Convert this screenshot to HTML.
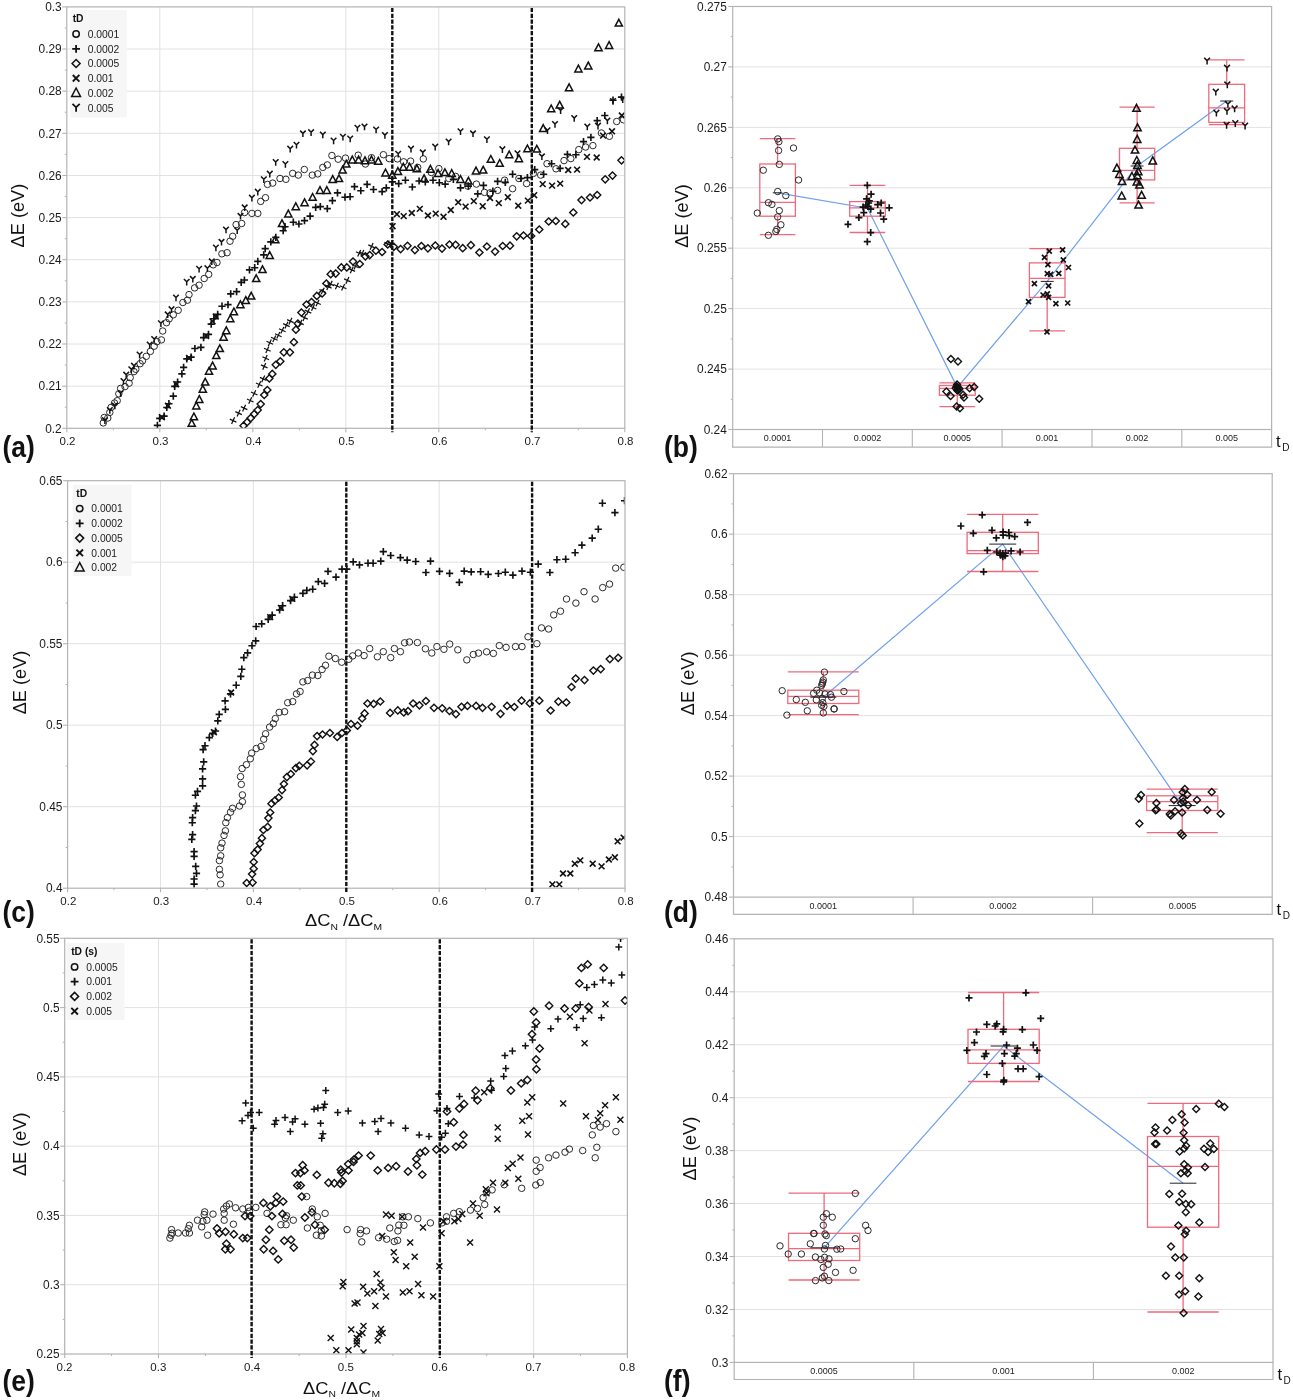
<!DOCTYPE html>
<html lang="en"><head><meta charset="utf-8"><title>Figure</title>
<style>html,body{margin:0;padding:0;background:#fff}body{width:1293px;height:1400px;overflow:hidden}svg{display:block}text{font-family:"Liberation Sans",Arial,sans-serif}</style></head><body>
<svg width="1293" height="1400" viewBox="0 0 1293 1400">
<rect width="1293" height="1400" fill="#fff"/>
<line x1="66.8" x2="624.8" y1="386.2" y2="386.2" stroke="#e2e2e2" stroke-width="1.0"/>
<line x1="66.8" x2="624.8" y1="344" y2="344" stroke="#e2e2e2" stroke-width="1.0"/>
<line x1="66.8" x2="624.8" y1="301.9" y2="301.9" stroke="#e2e2e2" stroke-width="1.0"/>
<line x1="66.8" x2="624.8" y1="259.7" y2="259.7" stroke="#e2e2e2" stroke-width="1.0"/>
<line x1="66.8" x2="624.8" y1="217.6" y2="217.6" stroke="#e2e2e2" stroke-width="1.0"/>
<line x1="66.8" x2="624.8" y1="175.5" y2="175.5" stroke="#e2e2e2" stroke-width="1.0"/>
<line x1="66.8" x2="624.8" y1="133.3" y2="133.3" stroke="#e2e2e2" stroke-width="1.0"/>
<line x1="66.8" x2="624.8" y1="91.2" y2="91.2" stroke="#e2e2e2" stroke-width="1.0"/>
<line x1="66.8" x2="624.8" y1="49" y2="49" stroke="#e2e2e2" stroke-width="1.0"/>
<line x1="159.8" x2="159.8" y1="6.9" y2="428.3" stroke="#e2e2e2" stroke-width="1.0"/>
<line x1="252.8" x2="252.8" y1="6.9" y2="428.3" stroke="#e2e2e2" stroke-width="1.0"/>
<line x1="345.8" x2="345.8" y1="6.9" y2="428.3" stroke="#e2e2e2" stroke-width="1.0"/>
<line x1="438.8" x2="438.8" y1="6.9" y2="428.3" stroke="#e2e2e2" stroke-width="1.0"/>
<line x1="531.8" x2="531.8" y1="6.9" y2="428.3" stroke="#e2e2e2" stroke-width="1.0"/>
<rect x="66.8" y="6.9" width="558" height="421.4" fill="none" stroke="#b3b3b3" stroke-width="1.2"/>
<line x1="62.3" x2="66.8" y1="428.3" y2="428.3" stroke="#b3b3b3" stroke-width="1.1"/>
<text x="61.7" y="432.5" font-size="11.9" text-anchor="end" font-weight="normal" fill="#1a1a1a" >0.2</text>
<line x1="64.8" x2="66.8" y1="407.2" y2="407.2" stroke="#b3b3b3" stroke-width="1"/>
<line x1="62.3" x2="66.8" y1="386.2" y2="386.2" stroke="#b3b3b3" stroke-width="1.1"/>
<text x="61.7" y="390.4" font-size="11.9" text-anchor="end" font-weight="normal" fill="#1a1a1a" >0.21</text>
<line x1="64.8" x2="66.8" y1="365.1" y2="365.1" stroke="#b3b3b3" stroke-width="1"/>
<line x1="62.3" x2="66.8" y1="344" y2="344" stroke="#b3b3b3" stroke-width="1.1"/>
<text x="61.7" y="348.2" font-size="11.9" text-anchor="end" font-weight="normal" fill="#1a1a1a" >0.22</text>
<line x1="64.8" x2="66.8" y1="322.9" y2="322.9" stroke="#b3b3b3" stroke-width="1"/>
<line x1="62.3" x2="66.8" y1="301.9" y2="301.9" stroke="#b3b3b3" stroke-width="1.1"/>
<text x="61.7" y="306.1" font-size="11.9" text-anchor="end" font-weight="normal" fill="#1a1a1a" >0.23</text>
<line x1="64.8" x2="66.8" y1="280.8" y2="280.8" stroke="#b3b3b3" stroke-width="1"/>
<line x1="62.3" x2="66.8" y1="259.7" y2="259.7" stroke="#b3b3b3" stroke-width="1.1"/>
<text x="61.7" y="263.9" font-size="11.9" text-anchor="end" font-weight="normal" fill="#1a1a1a" >0.24</text>
<line x1="64.8" x2="66.8" y1="238.7" y2="238.7" stroke="#b3b3b3" stroke-width="1"/>
<line x1="62.3" x2="66.8" y1="217.6" y2="217.6" stroke="#b3b3b3" stroke-width="1.1"/>
<text x="61.7" y="221.8" font-size="11.9" text-anchor="end" font-weight="normal" fill="#1a1a1a" >0.25</text>
<line x1="64.8" x2="66.8" y1="196.5" y2="196.5" stroke="#b3b3b3" stroke-width="1"/>
<line x1="62.3" x2="66.8" y1="175.5" y2="175.5" stroke="#b3b3b3" stroke-width="1.1"/>
<text x="61.7" y="179.7" font-size="11.9" text-anchor="end" font-weight="normal" fill="#1a1a1a" >0.26</text>
<line x1="64.8" x2="66.8" y1="154.4" y2="154.4" stroke="#b3b3b3" stroke-width="1"/>
<line x1="62.3" x2="66.8" y1="133.3" y2="133.3" stroke="#b3b3b3" stroke-width="1.1"/>
<text x="61.7" y="137.5" font-size="11.9" text-anchor="end" font-weight="normal" fill="#1a1a1a" >0.27</text>
<line x1="64.8" x2="66.8" y1="112.2" y2="112.2" stroke="#b3b3b3" stroke-width="1"/>
<line x1="62.3" x2="66.8" y1="91.2" y2="91.2" stroke="#b3b3b3" stroke-width="1.1"/>
<text x="61.7" y="95.4" font-size="11.9" text-anchor="end" font-weight="normal" fill="#1a1a1a" >0.28</text>
<line x1="64.8" x2="66.8" y1="70.1" y2="70.1" stroke="#b3b3b3" stroke-width="1"/>
<line x1="62.3" x2="66.8" y1="49" y2="49" stroke="#b3b3b3" stroke-width="1.1"/>
<text x="61.7" y="53.2" font-size="11.9" text-anchor="end" font-weight="normal" fill="#1a1a1a" >0.29</text>
<line x1="64.8" x2="66.8" y1="28" y2="28" stroke="#b3b3b3" stroke-width="1"/>
<line x1="62.3" x2="66.8" y1="6.9" y2="6.9" stroke="#b3b3b3" stroke-width="1.1"/>
<text x="61.7" y="11.1" font-size="11.9" text-anchor="end" font-weight="normal" fill="#1a1a1a" >0.3</text>
<line x1="66.8" x2="66.8" y1="428.3" y2="432.3" stroke="#b3b3b3" stroke-width="1.1"/>
<text x="67.5" y="444.9" font-size="11.5" text-anchor="middle" font-weight="normal" fill="#1a1a1a" >0.2</text>
<line x1="113.3" x2="113.3" y1="428.3" y2="430.3" stroke="#b3b3b3" stroke-width="1"/>
<line x1="159.8" x2="159.8" y1="428.3" y2="432.3" stroke="#b3b3b3" stroke-width="1.1"/>
<text x="160.5" y="444.9" font-size="11.5" text-anchor="middle" font-weight="normal" fill="#1a1a1a" >0.3</text>
<line x1="206.3" x2="206.3" y1="428.3" y2="430.3" stroke="#b3b3b3" stroke-width="1"/>
<line x1="252.8" x2="252.8" y1="428.3" y2="432.3" stroke="#b3b3b3" stroke-width="1.1"/>
<text x="253.5" y="444.9" font-size="11.5" text-anchor="middle" font-weight="normal" fill="#1a1a1a" >0.4</text>
<line x1="299.3" x2="299.3" y1="428.3" y2="430.3" stroke="#b3b3b3" stroke-width="1"/>
<line x1="345.8" x2="345.8" y1="428.3" y2="432.3" stroke="#b3b3b3" stroke-width="1.1"/>
<text x="346.5" y="444.9" font-size="11.5" text-anchor="middle" font-weight="normal" fill="#1a1a1a" >0.5</text>
<line x1="392.3" x2="392.3" y1="428.3" y2="430.3" stroke="#b3b3b3" stroke-width="1"/>
<line x1="438.8" x2="438.8" y1="428.3" y2="432.3" stroke="#b3b3b3" stroke-width="1.1"/>
<text x="439.5" y="444.9" font-size="11.5" text-anchor="middle" font-weight="normal" fill="#1a1a1a" >0.6</text>
<line x1="485.3" x2="485.3" y1="428.3" y2="430.3" stroke="#b3b3b3" stroke-width="1"/>
<line x1="531.8" x2="531.8" y1="428.3" y2="432.3" stroke="#b3b3b3" stroke-width="1.1"/>
<text x="532.5" y="444.9" font-size="11.5" text-anchor="middle" font-weight="normal" fill="#1a1a1a" >0.7</text>
<line x1="578.3" x2="578.3" y1="428.3" y2="430.3" stroke="#b3b3b3" stroke-width="1"/>
<line x1="624.8" x2="624.8" y1="428.3" y2="432.3" stroke="#b3b3b3" stroke-width="1.1"/>
<text x="625.5" y="444.9" font-size="11.5" text-anchor="middle" font-weight="normal" fill="#1a1a1a" >0.8</text>
<text transform="translate(24.4 215.6) rotate(-90)" font-size="18.2" text-anchor="middle" fill="#111">ΔE (eV)</text>
<clipPath id="clipa"><rect x="67.4" y="7.5" width="556.8" height="420.2"/></clipPath>
<rect x="70.4" y="10" width="56.4" height="107.5" fill="#f6f6f6"/>
<text x="72.7" y="22.3" font-size="10.3" text-anchor="start" font-weight="bold" fill="#111" >tD</text>
<circle cx="76.1" cy="34" r="3.2" fill="none" stroke="#111" stroke-width="1.5"/>
<text x="87.7" y="37.8" font-size="10.3" text-anchor="start" font-weight="normal" fill="#1a1a1a" >0.0001</text>
<path d="M72.2 48.8h7.8M76.1 44.9v7.8" stroke="#111" stroke-width="1.8" fill="none"/>
<text x="87.7" y="52.5" font-size="10.3" text-anchor="start" font-weight="normal" fill="#1a1a1a" >0.0002</text>
<path d="M72.1 63.5l4 -4l4 4l-4 4z" stroke="#111" stroke-width="1.5" fill="none"/>
<text x="87.7" y="67.3" font-size="10.3" text-anchor="start" font-weight="normal" fill="#1a1a1a" >0.0005</text>
<path d="M72.8 75l6.6 6.6M72.8 81.5l6.6 -6.6" stroke="#111" stroke-width="1.9" fill="none"/>
<text x="87.7" y="82" font-size="10.3" text-anchor="start" font-weight="normal" fill="#1a1a1a" >0.001</text>
<path d="M71.7 96.4l4.4 -8.4l4.4 8.4z" stroke="#111" stroke-width="1.5" fill="none"/>
<text x="87.7" y="96.8" font-size="10.3" text-anchor="start" font-weight="normal" fill="#1a1a1a" >0.002</text>
<path d="M72.5 103.8L76.1 107.3L79.7 103.8M76.1 107.3V111.8" stroke="#111" stroke-width="1.8" fill="none"/>
<text x="87.7" y="111.5" font-size="10.3" text-anchor="start" font-weight="normal" fill="#1a1a1a" >0.005</text>
<g clip-path="url(#clipa)">
<circle cx="103.3" cy="422.9" r="3.25" fill="none" stroke="#2a2a2a" stroke-width="1.0"/>
<circle cx="104.2" cy="417.5" r="3.25" fill="none" stroke="#2a2a2a" stroke-width="1.0"/>
<circle cx="107.8" cy="418" r="3.25" fill="none" stroke="#2a2a2a" stroke-width="1.0"/>
<circle cx="109.8" cy="412.4" r="3.25" fill="none" stroke="#2a2a2a" stroke-width="1.0"/>
<circle cx="111.1" cy="407.4" r="3.25" fill="none" stroke="#2a2a2a" stroke-width="1.0"/>
<circle cx="114.5" cy="403" r="3.25" fill="none" stroke="#2a2a2a" stroke-width="1.0"/>
<circle cx="117.2" cy="400.7" r="3.25" fill="none" stroke="#2a2a2a" stroke-width="1.0"/>
<circle cx="118.8" cy="393.8" r="3.25" fill="none" stroke="#2a2a2a" stroke-width="1.0"/>
<circle cx="120.6" cy="388.4" r="3.25" fill="none" stroke="#2a2a2a" stroke-width="1.0"/>
<circle cx="125" cy="386.6" r="3.25" fill="none" stroke="#2a2a2a" stroke-width="1.0"/>
<circle cx="129.1" cy="383.2" r="3.25" fill="none" stroke="#2a2a2a" stroke-width="1.0"/>
<circle cx="130.2" cy="377.6" r="3.25" fill="none" stroke="#2a2a2a" stroke-width="1.0"/>
<circle cx="134" cy="371.6" r="3.25" fill="none" stroke="#2a2a2a" stroke-width="1.0"/>
<circle cx="135.8" cy="369.3" r="3.25" fill="none" stroke="#2a2a2a" stroke-width="1.0"/>
<circle cx="140.1" cy="363.7" r="3.25" fill="none" stroke="#2a2a2a" stroke-width="1.0"/>
<circle cx="142.5" cy="360.8" r="3.25" fill="none" stroke="#2a2a2a" stroke-width="1.0"/>
<circle cx="146.3" cy="356.3" r="3.25" fill="none" stroke="#2a2a2a" stroke-width="1.0"/>
<circle cx="150.4" cy="351.4" r="3.25" fill="none" stroke="#2a2a2a" stroke-width="1.0"/>
<circle cx="154.2" cy="346.2" r="3.25" fill="none" stroke="#2a2a2a" stroke-width="1.0"/>
<circle cx="156.9" cy="341.7" r="3.25" fill="none" stroke="#2a2a2a" stroke-width="1.0"/>
<circle cx="161.4" cy="339.9" r="3.25" fill="none" stroke="#2a2a2a" stroke-width="1.0"/>
<circle cx="162.7" cy="331" r="3.25" fill="none" stroke="#2a2a2a" stroke-width="1.0"/>
<circle cx="166.5" cy="322.7" r="3.25" fill="none" stroke="#2a2a2a" stroke-width="1.0"/>
<circle cx="169.2" cy="318.8" r="3.25" fill="none" stroke="#2a2a2a" stroke-width="1.0"/>
<circle cx="173.3" cy="314.8" r="3.25" fill="none" stroke="#2a2a2a" stroke-width="1.0"/>
<circle cx="178.2" cy="310.3" r="3.25" fill="none" stroke="#2a2a2a" stroke-width="1.0"/>
<circle cx="182.9" cy="302.5" r="3.25" fill="none" stroke="#2a2a2a" stroke-width="1.0"/>
<circle cx="187.4" cy="300.2" r="3.25" fill="none" stroke="#2a2a2a" stroke-width="1.0"/>
<circle cx="189" cy="294.6" r="3.25" fill="none" stroke="#2a2a2a" stroke-width="1.0"/>
<circle cx="194.6" cy="287.9" r="3.25" fill="none" stroke="#2a2a2a" stroke-width="1.0"/>
<circle cx="199.1" cy="285.2" r="3.25" fill="none" stroke="#2a2a2a" stroke-width="1.0"/>
<circle cx="204.2" cy="278.5" r="3.25" fill="none" stroke="#2a2a2a" stroke-width="1.0"/>
<circle cx="208.7" cy="274.4" r="3.25" fill="none" stroke="#2a2a2a" stroke-width="1.0"/>
<circle cx="213.2" cy="264.8" r="3.25" fill="none" stroke="#2a2a2a" stroke-width="1.0"/>
<circle cx="217" cy="262.5" r="3.25" fill="none" stroke="#2a2a2a" stroke-width="1.0"/>
<circle cx="221.9" cy="253.8" r="3.25" fill="none" stroke="#2a2a2a" stroke-width="1.0"/>
<circle cx="227.1" cy="252.7" r="3.25" fill="none" stroke="#2a2a2a" stroke-width="1.0"/>
<circle cx="230" cy="241.2" r="3.25" fill="none" stroke="#2a2a2a" stroke-width="1.0"/>
<circle cx="232.7" cy="236.3" r="3.25" fill="none" stroke="#2a2a2a" stroke-width="1.0"/>
<circle cx="236.1" cy="224.6" r="3.25" fill="none" stroke="#2a2a2a" stroke-width="1.0"/>
<circle cx="241.7" cy="223.5" r="3.25" fill="none" stroke="#2a2a2a" stroke-width="1.0"/>
<circle cx="244.6" cy="212.5" r="3.25" fill="none" stroke="#2a2a2a" stroke-width="1.0"/>
<circle cx="251.9" cy="213.4" r="3.25" fill="none" stroke="#2a2a2a" stroke-width="1.0"/>
<circle cx="257.8" cy="213.4" r="3.25" fill="none" stroke="#2a2a2a" stroke-width="1.0"/>
<circle cx="260.7" cy="201.4" r="3.25" fill="none" stroke="#2a2a2a" stroke-width="1.0"/>
<circle cx="265.5" cy="197.7" r="3.25" fill="none" stroke="#2a2a2a" stroke-width="1.0"/>
<circle cx="267.5" cy="184.4" r="3.25" fill="none" stroke="#2a2a2a" stroke-width="1.0"/>
<circle cx="272.7" cy="183.1" r="3.25" fill="none" stroke="#2a2a2a" stroke-width="1.0"/>
<circle cx="280" cy="178.5" r="3.25" fill="none" stroke="#2a2a2a" stroke-width="1.0"/>
<circle cx="285.9" cy="179.3" r="3.25" fill="none" stroke="#2a2a2a" stroke-width="1.0"/>
<circle cx="292.7" cy="173.4" r="3.25" fill="none" stroke="#2a2a2a" stroke-width="1.0"/>
<circle cx="298.3" cy="175.1" r="3.25" fill="none" stroke="#2a2a2a" stroke-width="1.0"/>
<circle cx="304.3" cy="169.5" r="3.25" fill="none" stroke="#2a2a2a" stroke-width="1.0"/>
<circle cx="312.3" cy="175.1" r="3.25" fill="none" stroke="#2a2a2a" stroke-width="1.0"/>
<circle cx="317.7" cy="173.9" r="3.25" fill="none" stroke="#2a2a2a" stroke-width="1.0"/>
<circle cx="322.8" cy="167.4" r="3.25" fill="none" stroke="#2a2a2a" stroke-width="1.0"/>
<circle cx="327.3" cy="164.9" r="3.25" fill="none" stroke="#2a2a2a" stroke-width="1.0"/>
<circle cx="331.9" cy="155.5" r="3.25" fill="none" stroke="#2a2a2a" stroke-width="1.0"/>
<circle cx="338.2" cy="159.2" r="3.25" fill="none" stroke="#2a2a2a" stroke-width="1.0"/>
<circle cx="345.5" cy="158.1" r="3.25" fill="none" stroke="#2a2a2a" stroke-width="1.0"/>
<circle cx="358.2" cy="155.2" r="3.25" fill="none" stroke="#2a2a2a" stroke-width="1.0"/>
<circle cx="365.4" cy="164" r="3.25" fill="none" stroke="#2a2a2a" stroke-width="1.0"/>
<circle cx="371.5" cy="157.7" r="3.25" fill="none" stroke="#2a2a2a" stroke-width="1.0"/>
<circle cx="383.4" cy="154.7" r="3.25" fill="none" stroke="#2a2a2a" stroke-width="1.0"/>
<circle cx="389.2" cy="158.6" r="3.25" fill="none" stroke="#2a2a2a" stroke-width="1.0"/>
<circle cx="397.4" cy="158.9" r="3.25" fill="none" stroke="#2a2a2a" stroke-width="1.0"/>
<circle cx="403.7" cy="161.8" r="3.25" fill="none" stroke="#2a2a2a" stroke-width="1.0"/>
<circle cx="410.6" cy="161.1" r="3.25" fill="none" stroke="#2a2a2a" stroke-width="1.0"/>
<circle cx="417.7" cy="167.4" r="3.25" fill="none" stroke="#2a2a2a" stroke-width="1.0"/>
<circle cx="423.3" cy="158.9" r="3.25" fill="none" stroke="#2a2a2a" stroke-width="1.0"/>
<circle cx="431.3" cy="172.5" r="3.25" fill="none" stroke="#2a2a2a" stroke-width="1.0"/>
<circle cx="438.9" cy="168.6" r="3.25" fill="none" stroke="#2a2a2a" stroke-width="1.0"/>
<circle cx="448.8" cy="178.5" r="3.25" fill="none" stroke="#2a2a2a" stroke-width="1.0"/>
<circle cx="455.6" cy="176.4" r="3.25" fill="none" stroke="#2a2a2a" stroke-width="1.0"/>
<circle cx="467.8" cy="186.1" r="3.25" fill="none" stroke="#2a2a2a" stroke-width="1.0"/>
<circle cx="476.4" cy="184.1" r="3.25" fill="none" stroke="#2a2a2a" stroke-width="1.0"/>
<circle cx="484.5" cy="192.4" r="3.25" fill="none" stroke="#2a2a2a" stroke-width="1.0"/>
<circle cx="490" cy="192.9" r="3.25" fill="none" stroke="#2a2a2a" stroke-width="1.0"/>
<circle cx="497.6" cy="190.4" r="3.25" fill="none" stroke="#2a2a2a" stroke-width="1.0"/>
<circle cx="504.6" cy="180.2" r="3.25" fill="none" stroke="#2a2a2a" stroke-width="1.0"/>
<circle cx="512.6" cy="188.7" r="3.25" fill="none" stroke="#2a2a2a" stroke-width="1.0"/>
<circle cx="518.9" cy="178.5" r="3.25" fill="none" stroke="#2a2a2a" stroke-width="1.0"/>
<circle cx="526.6" cy="183.6" r="3.25" fill="none" stroke="#2a2a2a" stroke-width="1.0"/>
<circle cx="533.4" cy="173.4" r="3.25" fill="none" stroke="#2a2a2a" stroke-width="1.0"/>
<circle cx="540.7" cy="175.1" r="3.25" fill="none" stroke="#2a2a2a" stroke-width="1.0"/>
<circle cx="547" cy="163.7" r="3.25" fill="none" stroke="#2a2a2a" stroke-width="1.0"/>
<circle cx="556" cy="168.8" r="3.25" fill="none" stroke="#2a2a2a" stroke-width="1.0"/>
<circle cx="564" cy="160.6" r="3.25" fill="none" stroke="#2a2a2a" stroke-width="1.0"/>
<circle cx="570.8" cy="158.6" r="3.25" fill="none" stroke="#2a2a2a" stroke-width="1.0"/>
<circle cx="578.8" cy="149.6" r="3.25" fill="none" stroke="#2a2a2a" stroke-width="1.0"/>
<circle cx="585.6" cy="147" r="3.25" fill="none" stroke="#2a2a2a" stroke-width="1.0"/>
<circle cx="592.9" cy="145.6" r="3.25" fill="none" stroke="#2a2a2a" stroke-width="1.0"/>
<circle cx="601.4" cy="133" r="3.25" fill="none" stroke="#2a2a2a" stroke-width="1.0"/>
<circle cx="609.4" cy="136.3" r="3.25" fill="none" stroke="#2a2a2a" stroke-width="1.0"/>
<circle cx="616.7" cy="121.5" r="3.25" fill="none" stroke="#2a2a2a" stroke-width="1.0"/>
<circle cx="623.5" cy="119.8" r="3.25" fill="none" stroke="#2a2a2a" stroke-width="1.0"/>
<path d="M102.1 417.4L104.9 420.2L107.7 417.4M104.9 420.2V423.9" stroke="#111" stroke-width="1.5" fill="none"/>
<path d="M107 407.3L109.8 410.1L112.6 407.3M109.8 410.1V413.8" stroke="#111" stroke-width="1.5" fill="none"/>
<path d="M112.1 402.8L114.9 405.6L117.7 402.8M114.9 405.6V409.3" stroke="#111" stroke-width="1.5" fill="none"/>
<path d="M117.8 390.5L120.6 393.3L123.4 390.5M120.6 393.3V397" stroke="#111" stroke-width="1.5" fill="none"/>
<path d="M120.7 378.2L123.5 381L126.3 378.2M123.5 381V384.7" stroke="#111" stroke-width="1.5" fill="none"/>
<path d="M123.4 371.9L126.2 374.7L129 371.9M126.2 374.7V378.4" stroke="#111" stroke-width="1.5" fill="none"/>
<path d="M128.5 366.5L131.3 369.3L134.1 366.5M131.3 369.3V373" stroke="#111" stroke-width="1.5" fill="none"/>
<path d="M131.2 362.9L134 365.7L136.8 362.9M134 365.7V369.4" stroke="#111" stroke-width="1.5" fill="none"/>
<path d="M136.8 351.7L139.6 354.5L142.4 351.7M139.6 354.5V358.2" stroke="#111" stroke-width="1.5" fill="none"/>
<path d="M146.9 341.8L149.7 344.6L152.5 341.8M149.7 344.6V348.3" stroke="#111" stroke-width="1.5" fill="none"/>
<path d="M151.4 336.2L154.2 339L157 336.2M154.2 339V342.7" stroke="#111" stroke-width="1.5" fill="none"/>
<path d="M158.1 320.5L160.9 323.3L163.7 320.5M160.9 323.3V327" stroke="#111" stroke-width="1.5" fill="none"/>
<path d="M164.9 311.6L167.7 314.4L170.5 311.6M167.7 314.4V318.1" stroke="#111" stroke-width="1.5" fill="none"/>
<path d="M168.7 306.4L171.5 309.2L174.3 306.4M171.5 309.2V312.9" stroke="#111" stroke-width="1.5" fill="none"/>
<path d="M173.2 294.7L176 297.5L178.8 294.7M176 297.5V301.2" stroke="#111" stroke-width="1.5" fill="none"/>
<path d="M183.9 279L186.7 281.8L189.5 279M186.7 281.8V285.5" stroke="#111" stroke-width="1.5" fill="none"/>
<path d="M190 276.1L192.8 278.9L195.6 276.1M192.8 278.9V282.6" stroke="#111" stroke-width="1.5" fill="none"/>
<path d="M196.3 266L199.1 268.8L201.9 266M199.1 268.8V272.5" stroke="#111" stroke-width="1.5" fill="none"/>
<path d="M204.6 265.4L207.4 268.2L210.2 265.4M207.4 268.2V271.9" stroke="#111" stroke-width="1.5" fill="none"/>
<path d="M209 258.6L211.8 261.4L214.6 258.6M211.8 261.4V265.1" stroke="#111" stroke-width="1.5" fill="none"/>
<path d="M213.1 244.7L215.9 247.5L218.7 244.7M215.9 247.5V251.2" stroke="#111" stroke-width="1.5" fill="none"/>
<path d="M218.7 239.1L221.5 241.9L224.3 239.1M221.5 241.9V245.6" stroke="#111" stroke-width="1.5" fill="none"/>
<path d="M223.2 226.8L226 229.6L228.8 226.8M226 229.6V233.3" stroke="#111" stroke-width="1.5" fill="none"/>
<path d="M234.4 227.5L237.2 230.3L240 227.5M237.2 230.3V234" stroke="#111" stroke-width="1.5" fill="none"/>
<path d="M237.7 213.1L240.5 215.9L243.3 213.1M240.5 215.9V219.6" stroke="#111" stroke-width="1.5" fill="none"/>
<path d="M241.9 204.6L244.7 207.4L247.5 204.6M244.7 207.4V211.1" stroke="#111" stroke-width="1.5" fill="none"/>
<path d="M249.1 194.9L251.9 197.7L254.7 194.9M251.9 197.7V201.4" stroke="#111" stroke-width="1.5" fill="none"/>
<path d="M255 188.9L257.8 191.7L260.6 188.9M257.8 191.7V195.4" stroke="#111" stroke-width="1.5" fill="none"/>
<path d="M261 176.5L263.8 179.3L266.6 176.5M263.8 179.3V183" stroke="#111" stroke-width="1.5" fill="none"/>
<path d="M267 170.9L269.8 173.7L272.6 170.9M269.8 173.7V177.4" stroke="#111" stroke-width="1.5" fill="none"/>
<path d="M272.9 159.2L275.7 162L278.5 159.2M275.7 162V165.7" stroke="#111" stroke-width="1.5" fill="none"/>
<path d="M282.6 161.2L285.4 164L288.2 161.2M285.4 164V167.7" stroke="#111" stroke-width="1.5" fill="none"/>
<path d="M287.4 145.9L290.2 148.7L293 145.9M290.2 148.7V152.4" stroke="#111" stroke-width="1.5" fill="none"/>
<path d="M293.7 142L296.5 144.8L299.3 142M296.5 144.8V148.5" stroke="#111" stroke-width="1.5" fill="none"/>
<path d="M300.1 130.6L302.9 133.4L305.7 130.6M302.9 133.4V137.1" stroke="#111" stroke-width="1.5" fill="none"/>
<path d="M308.3 129.4L311.1 132.2L313.9 129.4M311.1 132.2V135.9" stroke="#111" stroke-width="1.5" fill="none"/>
<path d="M320 131.8L322.8 134.6L325.6 131.8M322.8 134.6V138.3" stroke="#111" stroke-width="1.5" fill="none"/>
<path d="M330.8 137.7L333.6 140.5L336.4 137.7M333.6 140.5V144.2" stroke="#111" stroke-width="1.5" fill="none"/>
<path d="M340.1 134L342.9 136.8L345.7 134M342.9 136.8V140.5" stroke="#111" stroke-width="1.5" fill="none"/>
<path d="M347.4 135.7L350.2 138.5L353 135.7M350.2 138.5V142.2" stroke="#111" stroke-width="1.5" fill="none"/>
<path d="M354.6 125L357.4 127.8L360.2 125M357.4 127.8V131.5" stroke="#111" stroke-width="1.5" fill="none"/>
<path d="M361.7 123.8L364.5 126.6L367.3 123.8M364.5 126.6V130.3" stroke="#111" stroke-width="1.5" fill="none"/>
<path d="M373.3 126.7L376.1 129.5L378.9 126.7M376.1 129.5V133.2" stroke="#111" stroke-width="1.5" fill="none"/>
<path d="M382.1 132.3L384.9 135.1L387.7 132.3M384.9 135.1V138.8" stroke="#111" stroke-width="1.5" fill="none"/>
<path d="M395.4 151L398.2 153.8L401 151M398.2 153.8V157.5" stroke="#111" stroke-width="1.5" fill="none"/>
<path d="M408.2 145.9L411 148.7L413.8 145.9M411 148.7V152.4" stroke="#111" stroke-width="1.5" fill="none"/>
<path d="M420 149.6L422.8 152.4L425.6 149.6M422.8 152.4V156.1" stroke="#111" stroke-width="1.5" fill="none"/>
<path d="M432.4 143.9L435.2 146.7L438 143.9M435.2 146.7V150.4" stroke="#111" stroke-width="1.5" fill="none"/>
<path d="M445.8 138.8L448.6 141.6L451.4 138.8M448.6 141.6V145.3" stroke="#111" stroke-width="1.5" fill="none"/>
<path d="M457.7 128.5L460.5 131.3L463.3 128.5M460.5 131.3V135" stroke="#111" stroke-width="1.5" fill="none"/>
<path d="M470.2 130.6L473 133.4L475.8 130.6M473 133.4V137.1" stroke="#111" stroke-width="1.5" fill="none"/>
<path d="M484.1 136.5L486.9 139.3L489.7 136.5M486.9 139.3V143" stroke="#111" stroke-width="1.5" fill="none"/>
<path d="M499.6 146.4L502.4 149.2L505.2 146.4M502.4 149.2V152.9" stroke="#111" stroke-width="1.5" fill="none"/>
<path d="M514.7 150.5L517.5 153.3L520.3 150.5M517.5 153.3V157" stroke="#111" stroke-width="1.5" fill="none"/>
<path d="M539.1 153.6L541.9 156.4L544.7 153.6M541.9 156.4V160.1" stroke="#111" stroke-width="1.5" fill="none"/>
<path d="M544.7 127.5L547.5 130.3L550.3 127.5M547.5 130.3V134" stroke="#111" stroke-width="1.5" fill="none"/>
<path d="M552.2 121.2L555 124L557.8 121.2M555 124V127.7" stroke="#111" stroke-width="1.5" fill="none"/>
<path d="M571.4 115.3L574.2 118.1L577 115.3M574.2 118.1V121.8" stroke="#111" stroke-width="1.5" fill="none"/>
<path d="M584.5 123.8L587.3 126.6L590.1 123.8M587.3 126.6V130.3" stroke="#111" stroke-width="1.5" fill="none"/>
<path d="M595.2 122.9L598 125.7L600.8 122.9M598 125.7V129.4" stroke="#111" stroke-width="1.5" fill="none"/>
<path d="M604.6 117.8L607.4 120.6L610.2 117.8M607.4 120.6V124.3" stroke="#111" stroke-width="1.5" fill="none"/>
<path d="M557.8 107.6L560.6 110.4L563.4 107.6M560.6 110.4V114.1" stroke="#111" stroke-width="1.5" fill="none"/>
<path d="M610.2 98.3L613 101.1L615.8 98.3M613 101.1V104.8" stroke="#111" stroke-width="1.5" fill="none"/>
<path d="M619.9 96.6L622.7 99.4L625.5 96.6M622.7 99.4V103.1" stroke="#111" stroke-width="1.5" fill="none"/>
<path d="M229.8 419.1L236.4 422.1M234.6 417.3L231.6 423.9" stroke="#111" stroke-width="1.25" fill="none"/>
<path d="M235.3 411.6L241.9 414.6M240.1 409.8L237.1 416.4" stroke="#111" stroke-width="1.25" fill="none"/>
<path d="M240.8 406.6L247.4 409.6M245.6 404.8L242.6 411.4" stroke="#111" stroke-width="1.25" fill="none"/>
<path d="M246.9 399L253.5 402M251.7 397.2L248.7 403.8" stroke="#111" stroke-width="1.25" fill="none"/>
<path d="M250.9 392L257.5 395M255.7 390.2L252.7 396.8" stroke="#111" stroke-width="1.25" fill="none"/>
<path d="M255.9 383L262.5 386M260.7 381.2L257.7 387.8" stroke="#111" stroke-width="1.25" fill="none"/>
<path d="M259.9 377.4L266.5 380.4M264.7 375.6L261.7 382.2" stroke="#111" stroke-width="1.25" fill="none"/>
<path d="M260.9 364.9L267.5 367.9M265.7 363.1L262.7 369.7" stroke="#111" stroke-width="1.25" fill="none"/>
<path d="M262.4 356.8L269 359.8M267.2 355L264.2 361.6" stroke="#111" stroke-width="1.25" fill="none"/>
<path d="M264 348.3L270.6 351.3M268.8 346.5L265.8 353.1" stroke="#111" stroke-width="1.25" fill="none"/>
<path d="M266.5 341.2L273.1 344.2M271.3 339.4L268.3 346" stroke="#111" stroke-width="1.25" fill="none"/>
<path d="M271 337.2L277.6 340.2M275.8 335.4L272.8 342" stroke="#111" stroke-width="1.25" fill="none"/>
<path d="M275 333.7L281.6 336.7M279.8 331.9L276.8 338.5" stroke="#111" stroke-width="1.25" fill="none"/>
<path d="M279 328.7L285.6 331.7M283.8 326.9L280.8 333.5" stroke="#111" stroke-width="1.25" fill="none"/>
<path d="M283.1 323.6L289.7 326.6M287.9 321.8L284.9 328.4" stroke="#111" stroke-width="1.25" fill="none"/>
<path d="M287.1 319.6L293.7 322.6M291.9 317.8L288.9 324.4" stroke="#111" stroke-width="1.25" fill="none"/>
<path d="M297.1 321.6L303.7 324.6M301.9 319.8L298.9 326.4" stroke="#111" stroke-width="1.25" fill="none"/>
<path d="M301.2 316.1L307.8 319.1M306 314.3L303 320.9" stroke="#111" stroke-width="1.25" fill="none"/>
<path d="M304.7 310.1L311.3 313.1M309.5 308.3L306.5 314.9" stroke="#111" stroke-width="1.25" fill="none"/>
<path d="M309.7 306L316.3 309M314.5 304.2L311.5 310.8" stroke="#111" stroke-width="1.25" fill="none"/>
<path d="M314.2 301.5L320.8 304.5M319 299.7L316 306.3" stroke="#111" stroke-width="1.25" fill="none"/>
<path d="M319.4 289.5L326 292.5M324.2 287.7L321.2 294.3" stroke="#111" stroke-width="1.25" fill="none"/>
<path d="M325 285.1L331.6 288.1M329.8 283.3L326.8 289.9" stroke="#111" stroke-width="1.25" fill="none"/>
<path d="M327.4 282.6L334 285.6M332.2 280.8L329.2 287.4" stroke="#111" stroke-width="1.25" fill="none"/>
<path d="M333.6 284.5L340.2 287.5M338.4 282.7L335.4 289.3" stroke="#111" stroke-width="1.25" fill="none"/>
<path d="M339.8 285.7L346.4 288.7M344.6 283.9L341.6 290.5" stroke="#111" stroke-width="1.25" fill="none"/>
<path d="M344.1 278.9L350.7 281.9M348.9 277.1L345.9 283.7" stroke="#111" stroke-width="1.25" fill="none"/>
<path d="M348.5 268.4L355.1 271.4M353.3 266.6L350.3 273.2" stroke="#111" stroke-width="1.25" fill="none"/>
<path d="M352.2 264.7L358.8 267.7M357 262.9L354 269.5" stroke="#111" stroke-width="1.25" fill="none"/>
<path d="M355.9 251.7L362.5 254.7M360.7 249.9L357.7 256.5" stroke="#111" stroke-width="1.25" fill="none"/>
<path d="M359 251.7L365.6 254.7M363.8 249.9L360.8 256.5" stroke="#111" stroke-width="1.25" fill="none"/>
<path d="M368.3 244.9L374.9 247.9M373.1 243.1L370.1 249.7" stroke="#111" stroke-width="1.25" fill="none"/>
<path d="M384.4 242.4L391 245.4M389.2 240.6L386.2 247.2" stroke="#111" stroke-width="1.25" fill="none"/>
<path d="M388.1 241.8L394.7 244.8M392.9 240L389.9 246.6" stroke="#111" stroke-width="1.25" fill="none"/>
<path d="M240 425.7l3.6 -3.6l3.6 3.6l-3.6 3.6z" stroke="#111" stroke-width="1.4" fill="none"/>
<path d="M243.5 422.2l3.6 -3.6l3.6 3.6l-3.6 3.6z" stroke="#111" stroke-width="1.4" fill="none"/>
<path d="M247.1 418.1l3.6 -3.6l3.6 3.6l-3.6 3.6z" stroke="#111" stroke-width="1.4" fill="none"/>
<path d="M250.6 414.1l3.6 -3.6l3.6 3.6l-3.6 3.6z" stroke="#111" stroke-width="1.4" fill="none"/>
<path d="M254.1 410.1l3.6 -3.6l3.6 3.6l-3.6 3.6z" stroke="#111" stroke-width="1.4" fill="none"/>
<path d="M257.1 404.1l3.6 -3.6l3.6 3.6l-3.6 3.6z" stroke="#111" stroke-width="1.4" fill="none"/>
<path d="M260.6 395l3.6 -3.6l3.6 3.6l-3.6 3.6z" stroke="#111" stroke-width="1.4" fill="none"/>
<path d="M263.7 390l3.6 -3.6l3.6 3.6l-3.6 3.6z" stroke="#111" stroke-width="1.4" fill="none"/>
<path d="M265.7 378.4l3.6 -3.6l3.6 3.6l-3.6 3.6z" stroke="#111" stroke-width="1.4" fill="none"/>
<path d="M268.7 373.9l3.6 -3.6l3.6 3.6l-3.6 3.6z" stroke="#111" stroke-width="1.4" fill="none"/>
<path d="M272.2 364.8l3.6 -3.6l3.6 3.6l-3.6 3.6z" stroke="#111" stroke-width="1.4" fill="none"/>
<path d="M276.7 361.3l3.6 -3.6l3.6 3.6l-3.6 3.6z" stroke="#111" stroke-width="1.4" fill="none"/>
<path d="M280.2 352.3l3.6 -3.6l3.6 3.6l-3.6 3.6z" stroke="#111" stroke-width="1.4" fill="none"/>
<path d="M286.3 352.3l3.6 -3.6l3.6 3.6l-3.6 3.6z" stroke="#111" stroke-width="1.4" fill="none"/>
<path d="M290.3 342.2l3.6 -3.6l3.6 3.6l-3.6 3.6z" stroke="#111" stroke-width="1.4" fill="none"/>
<path d="M292.3 329.7l3.6 -3.6l3.6 3.6l-3.6 3.6z" stroke="#111" stroke-width="1.4" fill="none"/>
<path d="M294.3 323.6l3.6 -3.6l3.6 3.6l-3.6 3.6z" stroke="#111" stroke-width="1.4" fill="none"/>
<path d="M297.8 312.6l3.6 -3.6l3.6 3.6l-3.6 3.6z" stroke="#111" stroke-width="1.4" fill="none"/>
<path d="M302.9 304.5l3.6 -3.6l3.6 3.6l-3.6 3.6z" stroke="#111" stroke-width="1.4" fill="none"/>
<path d="M307.9 302l3.6 -3.6l3.6 3.6l-3.6 3.6z" stroke="#111" stroke-width="1.4" fill="none"/>
<path d="M313.2 295.9l3.6 -3.6l3.6 3.6l-3.6 3.6z" stroke="#111" stroke-width="1.4" fill="none"/>
<path d="M318.5 293.4l3.6 -3.6l3.6 3.6l-3.6 3.6z" stroke="#111" stroke-width="1.4" fill="none"/>
<path d="M322.8 283.5l3.6 -3.6l3.6 3.6l-3.6 3.6z" stroke="#111" stroke-width="1.4" fill="none"/>
<path d="M327.1 274.2l3.6 -3.6l3.6 3.6l-3.6 3.6z" stroke="#111" stroke-width="1.4" fill="none"/>
<path d="M332.1 273.6l3.6 -3.6l3.6 3.6l-3.6 3.6z" stroke="#111" stroke-width="1.4" fill="none"/>
<path d="M337.7 267.4l3.6 -3.6l3.6 3.6l-3.6 3.6z" stroke="#111" stroke-width="1.4" fill="none"/>
<path d="M343.2 267.4l3.6 -3.6l3.6 3.6l-3.6 3.6z" stroke="#111" stroke-width="1.4" fill="none"/>
<path d="M349.4 261.5l3.6 -3.6l3.6 3.6l-3.6 3.6z" stroke="#111" stroke-width="1.4" fill="none"/>
<path d="M356.2 264l3.6 -3.6l3.6 3.6l-3.6 3.6z" stroke="#111" stroke-width="1.4" fill="none"/>
<path d="M361.8 256.3l3.6 -3.6l3.6 3.6l-3.6 3.6z" stroke="#111" stroke-width="1.4" fill="none"/>
<path d="M366.1 255.1l3.6 -3.6l3.6 3.6l-3.6 3.6z" stroke="#111" stroke-width="1.4" fill="none"/>
<path d="M372.3 250.7l3.6 -3.6l3.6 3.6l-3.6 3.6z" stroke="#111" stroke-width="1.4" fill="none"/>
<path d="M378.5 252l3.6 -3.6l3.6 3.6l-3.6 3.6z" stroke="#111" stroke-width="1.4" fill="none"/>
<path d="M384.1 244.5l3.6 -3.6l3.6 3.6l-3.6 3.6z" stroke="#111" stroke-width="1.4" fill="none"/>
<path d="M390.2 246.8l3.6 -3.6l3.6 3.6l-3.6 3.6z" stroke="#111" stroke-width="1.4" fill="none"/>
<path d="M397 249.1l3.6 -3.6l3.6 3.6l-3.6 3.6z" stroke="#111" stroke-width="1.4" fill="none"/>
<path d="M403.9 245.8l3.6 -3.6l3.6 3.6l-3.6 3.6z" stroke="#111" stroke-width="1.4" fill="none"/>
<path d="M411.3 250.1l3.6 -3.6l3.6 3.6l-3.6 3.6z" stroke="#111" stroke-width="1.4" fill="none"/>
<path d="M417.8 246l3.6 -3.6l3.6 3.6l-3.6 3.6z" stroke="#111" stroke-width="1.4" fill="none"/>
<path d="M424.3 248.3l3.6 -3.6l3.6 3.6l-3.6 3.6z" stroke="#111" stroke-width="1.4" fill="none"/>
<path d="M431.7 245.5l3.6 -3.6l3.6 3.6l-3.6 3.6z" stroke="#111" stroke-width="1.4" fill="none"/>
<path d="M438.4 248.6l3.6 -3.6l3.6 3.6l-3.6 3.6z" stroke="#111" stroke-width="1.4" fill="none"/>
<path d="M445.9 244.5l3.6 -3.6l3.6 3.6l-3.6 3.6z" stroke="#111" stroke-width="1.4" fill="none"/>
<path d="M452 244.8l3.6 -3.6l3.6 3.6l-3.6 3.6z" stroke="#111" stroke-width="1.4" fill="none"/>
<path d="M459.1 248.2l3.6 -3.6l3.6 3.6l-3.6 3.6z" stroke="#111" stroke-width="1.4" fill="none"/>
<path d="M467.3 245.2l3.6 -3.6l3.6 3.6l-3.6 3.6z" stroke="#111" stroke-width="1.4" fill="none"/>
<path d="M475.8 252.5l3.6 -3.6l3.6 3.6l-3.6 3.6z" stroke="#111" stroke-width="1.4" fill="none"/>
<path d="M483.3 246.5l3.6 -3.6l3.6 3.6l-3.6 3.6z" stroke="#111" stroke-width="1.4" fill="none"/>
<path d="M491.5 251.6l3.6 -3.6l3.6 3.6l-3.6 3.6z" stroke="#111" stroke-width="1.4" fill="none"/>
<path d="M499.1 246l3.6 -3.6l3.6 3.6l-3.6 3.6z" stroke="#111" stroke-width="1.4" fill="none"/>
<path d="M506.4 245.7l3.6 -3.6l3.6 3.6l-3.6 3.6z" stroke="#111" stroke-width="1.4" fill="none"/>
<path d="M513.1 236.3l3.6 -3.6l3.6 3.6l-3.6 3.6z" stroke="#111" stroke-width="1.4" fill="none"/>
<path d="M519.9 235.5l3.6 -3.6l3.6 3.6l-3.6 3.6z" stroke="#111" stroke-width="1.4" fill="none"/>
<path d="M527.5 236l3.6 -3.6l3.6 3.6l-3.6 3.6z" stroke="#111" stroke-width="1.4" fill="none"/>
<path d="M535.7 229.5l3.6 -3.6l3.6 3.6l-3.6 3.6z" stroke="#111" stroke-width="1.4" fill="none"/>
<path d="M545.1 221.5l3.6 -3.6l3.6 3.6l-3.6 3.6z" stroke="#111" stroke-width="1.4" fill="none"/>
<path d="M552.2 221l3.6 -3.6l3.6 3.6l-3.6 3.6z" stroke="#111" stroke-width="1.4" fill="none"/>
<path d="M561.7 223.9l3.6 -3.6l3.6 3.6l-3.6 3.6z" stroke="#111" stroke-width="1.4" fill="none"/>
<path d="M569.7 212.5l3.6 -3.6l3.6 3.6l-3.6 3.6z" stroke="#111" stroke-width="1.4" fill="none"/>
<path d="M577.9 200.1l3.6 -3.6l3.6 3.6l-3.6 3.6z" stroke="#111" stroke-width="1.4" fill="none"/>
<path d="M586.4 197.5l3.6 -3.6l3.6 3.6l-3.6 3.6z" stroke="#111" stroke-width="1.4" fill="none"/>
<path d="M593.6 195l3.6 -3.6l3.6 3.6l-3.6 3.6z" stroke="#111" stroke-width="1.4" fill="none"/>
<path d="M601.6 179.3l3.6 -3.6l3.6 3.6l-3.6 3.6z" stroke="#111" stroke-width="1.4" fill="none"/>
<path d="M608.9 175.6l3.6 -3.6l3.6 3.6l-3.6 3.6z" stroke="#111" stroke-width="1.4" fill="none"/>
<path d="M617.9 160.3l3.6 -3.6l3.6 3.6l-3.6 3.6z" stroke="#111" stroke-width="1.4" fill="none"/>
<path d="M159 414.3l5.8 5.8M159 420.1l5.8 -5.8" stroke="#111" stroke-width="1.6" fill="none"/>
<path d="M165 402.7l5.8 5.8M165 408.5l5.8 -5.8" stroke="#111" stroke-width="1.6" fill="none"/>
<path d="M173.3 381.3l5.8 5.8M173.3 387.1l5.8 -5.8" stroke="#111" stroke-width="1.6" fill="none"/>
<path d="M186.1 355.1l5.8 5.8M186.1 360.9l5.8 -5.8" stroke="#111" stroke-width="1.6" fill="none"/>
<path d="M203.2 333.1l5.8 5.8M203.2 338.9l5.8 -5.8" stroke="#111" stroke-width="1.6" fill="none"/>
<path d="M209.7 318.5l5.8 5.8M209.7 324.3l5.8 -5.8" stroke="#111" stroke-width="1.6" fill="none"/>
<path d="M212.9 313.6l5.8 5.8M212.9 319.4l5.8 -5.8" stroke="#111" stroke-width="1.6" fill="none"/>
<path d="M389.7 223.3l5.8 5.8M389.7 229.1l5.8 -5.8" stroke="#111" stroke-width="1.6" fill="none"/>
<path d="M394 211.3l5.8 5.8M394 217.1l5.8 -5.8" stroke="#111" stroke-width="1.6" fill="none"/>
<path d="M400.8 213.2l5.8 5.8M400.8 219l5.8 -5.8" stroke="#111" stroke-width="1.6" fill="none"/>
<path d="M408.9 210.1l5.8 5.8M408.9 215.9l5.8 -5.8" stroke="#111" stroke-width="1.6" fill="none"/>
<path d="M416.9 206l5.8 5.8M416.9 211.8l5.8 -5.8" stroke="#111" stroke-width="1.6" fill="none"/>
<path d="M425 212.6l5.8 5.8M425 218.4l5.8 -5.8" stroke="#111" stroke-width="1.6" fill="none"/>
<path d="M432.8 210.7l5.8 5.8M432.8 216.5l5.8 -5.8" stroke="#111" stroke-width="1.6" fill="none"/>
<path d="M440.6 213.9l5.8 5.8M440.6 219.7l5.8 -5.8" stroke="#111" stroke-width="1.6" fill="none"/>
<path d="M447.9 207.1l5.8 5.8M447.9 212.9l5.8 -5.8" stroke="#111" stroke-width="1.6" fill="none"/>
<path d="M455.3 199.4l5.8 5.8M455.3 205.2l5.8 -5.8" stroke="#111" stroke-width="1.6" fill="none"/>
<path d="M462.7 203.7l5.8 5.8M462.7 209.5l5.8 -5.8" stroke="#111" stroke-width="1.6" fill="none"/>
<path d="M470.9 198.2l5.8 5.8M470.9 204l5.8 -5.8" stroke="#111" stroke-width="1.6" fill="none"/>
<path d="M479.8 203.3l5.8 5.8M479.8 209.1l5.8 -5.8" stroke="#111" stroke-width="1.6" fill="none"/>
<path d="M487.1 195.1l5.8 5.8M487.1 200.9l5.8 -5.8" stroke="#111" stroke-width="1.6" fill="none"/>
<path d="M495.9 200.2l5.8 5.8M495.9 206l5.8 -5.8" stroke="#111" stroke-width="1.6" fill="none"/>
<path d="M504.9 194.3l5.8 5.8M504.9 200.1l5.8 -5.8" stroke="#111" stroke-width="1.6" fill="none"/>
<path d="M515.3 202.8l5.8 5.8M515.3 208.6l5.8 -5.8" stroke="#111" stroke-width="1.6" fill="none"/>
<path d="M525 197.7l5.8 5.8M525 203.5l5.8 -5.8" stroke="#111" stroke-width="1.6" fill="none"/>
<path d="M531.3 192.3l5.8 5.8M531.3 198.1l5.8 -5.8" stroke="#111" stroke-width="1.6" fill="none"/>
<path d="M539.8 181.2l5.8 5.8M539.8 187l5.8 -5.8" stroke="#111" stroke-width="1.6" fill="none"/>
<path d="M549.2 182.7l5.8 5.8M549.2 188.5l5.8 -5.8" stroke="#111" stroke-width="1.6" fill="none"/>
<path d="M557.3 180.7l5.8 5.8M557.3 186.5l5.8 -5.8" stroke="#111" stroke-width="1.6" fill="none"/>
<path d="M565.3 167.1l5.8 5.8M565.3 172.9l5.8 -5.8" stroke="#111" stroke-width="1.6" fill="none"/>
<path d="M574.2 166.7l5.8 5.8M574.2 172.5l5.8 -5.8" stroke="#111" stroke-width="1.6" fill="none"/>
<path d="M584.1 154l5.8 5.8M584.1 159.8l5.8 -5.8" stroke="#111" stroke-width="1.6" fill="none"/>
<path d="M593.8 154.6l5.8 5.8M593.8 160.4l5.8 -5.8" stroke="#111" stroke-width="1.6" fill="none"/>
<path d="M600.2 132.7l5.8 5.8M600.2 138.5l5.8 -5.8" stroke="#111" stroke-width="1.6" fill="none"/>
<path d="M609.1 128.4l5.8 5.8M609.1 134.2l5.8 -5.8" stroke="#111" stroke-width="1.6" fill="none"/>
<path d="M618.9 112.6l5.8 5.8M618.9 118.4l5.8 -5.8" stroke="#111" stroke-width="1.6" fill="none"/>
<path d="M153.8 425.3h7.2M157.4 421.7v7.2" stroke="#111" stroke-width="1.65" fill="none"/>
<path d="M156.1 418.3h7.2M159.7 414.7v7.2" stroke="#111" stroke-width="1.65" fill="none"/>
<path d="M160.5 416.1h7.2M164.1 412.5v7.2" stroke="#111" stroke-width="1.65" fill="none"/>
<path d="M163.2 407.5h7.2M166.8 403.9v7.2" stroke="#111" stroke-width="1.65" fill="none"/>
<path d="M165.3 403.7h7.2M168.9 400.1v7.2" stroke="#111" stroke-width="1.65" fill="none"/>
<path d="M169.7 396.1h7.2M173.3 392.5v7.2" stroke="#111" stroke-width="1.65" fill="none"/>
<path d="M171.1 386.4h7.2M174.7 382.8v7.2" stroke="#111" stroke-width="1.65" fill="none"/>
<path d="M174 382h7.2M177.6 378.4v7.2" stroke="#111" stroke-width="1.65" fill="none"/>
<path d="M178.3 373.9h7.2M181.9 370.3v7.2" stroke="#111" stroke-width="1.65" fill="none"/>
<path d="M180 367.4h7.2M183.6 363.8v7.2" stroke="#111" stroke-width="1.65" fill="none"/>
<path d="M183.2 358.8h7.2M186.8 355.2v7.2" stroke="#111" stroke-width="1.65" fill="none"/>
<path d="M187.5 357.1h7.2M191.1 353.5v7.2" stroke="#111" stroke-width="1.65" fill="none"/>
<path d="M191.3 348.5h7.2M194.9 344.9v7.2" stroke="#111" stroke-width="1.65" fill="none"/>
<path d="M197.3 347.4h7.2M200.9 343.8v7.2" stroke="#111" stroke-width="1.65" fill="none"/>
<path d="M200 337.6h7.2M203.6 334v7.2" stroke="#111" stroke-width="1.65" fill="none"/>
<path d="M204.9 334.4h7.2M208.5 330.8v7.2" stroke="#111" stroke-width="1.65" fill="none"/>
<path d="M207.6 324.1h7.2M211.2 320.5v7.2" stroke="#111" stroke-width="1.65" fill="none"/>
<path d="M210.3 318.7h7.2M213.9 315.1v7.2" stroke="#111" stroke-width="1.65" fill="none"/>
<path d="M214.1 314.4h7.2M217.7 310.8v7.2" stroke="#111" stroke-width="1.65" fill="none"/>
<path d="M218.4 306.2h7.2M222 302.6v7.2" stroke="#111" stroke-width="1.65" fill="none"/>
<path d="M224.4 304.6h7.2M228 301v7.2" stroke="#111" stroke-width="1.65" fill="none"/>
<path d="M227.1 293.8h7.2M230.7 290.2v7.2" stroke="#111" stroke-width="1.65" fill="none"/>
<path d="M233 291.6h7.2M236.6 288v7.2" stroke="#111" stroke-width="1.65" fill="none"/>
<path d="M237.6 282.3h7.2M241.2 278.7v7.2" stroke="#111" stroke-width="1.65" fill="none"/>
<path d="M240.8 280h7.2M244.4 276.4v7.2" stroke="#111" stroke-width="1.65" fill="none"/>
<path d="M245.9 269.9h7.2M249.5 266.3v7.2" stroke="#111" stroke-width="1.65" fill="none"/>
<path d="M251.1 267.7h7.2M254.7 264.1v7.2" stroke="#111" stroke-width="1.65" fill="none"/>
<path d="M254.2 261.4h7.2M257.8 257.8v7.2" stroke="#111" stroke-width="1.65" fill="none"/>
<path d="M260.1 254.9h7.2M263.7 251.3v7.2" stroke="#111" stroke-width="1.65" fill="none"/>
<path d="M261.6 248.6h7.2M265.2 245v7.2" stroke="#111" stroke-width="1.65" fill="none"/>
<path d="M267.2 241.9h7.2M270.8 238.3v7.2" stroke="#111" stroke-width="1.65" fill="none"/>
<path d="M272.2 237.4h7.2M275.8 233.8v7.2" stroke="#111" stroke-width="1.65" fill="none"/>
<path d="M279.6 230.7h7.2M283.2 227.1v7.2" stroke="#111" stroke-width="1.65" fill="none"/>
<path d="M281.4 226.7h7.2M285 223.1v7.2" stroke="#111" stroke-width="1.65" fill="none"/>
<path d="M289.7 222.2h7.2M293.3 218.6v7.2" stroke="#111" stroke-width="1.65" fill="none"/>
<path d="M295.3 224h7.2M298.9 220.4v7.2" stroke="#111" stroke-width="1.65" fill="none"/>
<path d="M300.9 220.6h7.2M304.5 217v7.2" stroke="#111" stroke-width="1.65" fill="none"/>
<path d="M306.5 216.1h7.2M310.1 212.5v7.2" stroke="#111" stroke-width="1.65" fill="none"/>
<path d="M312.1 207.4h7.2M315.7 203.8v7.2" stroke="#111" stroke-width="1.65" fill="none"/>
<path d="M316.7 206.6h7.2M320.3 203v7.2" stroke="#111" stroke-width="1.65" fill="none"/>
<path d="M323.7 208.6h7.2M327.3 205v7.2" stroke="#111" stroke-width="1.65" fill="none"/>
<path d="M328.8 200.6h7.2M332.4 197v7.2" stroke="#111" stroke-width="1.65" fill="none"/>
<path d="M333.9 192.9h7.2M337.5 189.3v7.2" stroke="#111" stroke-width="1.65" fill="none"/>
<path d="M341.4 197.2h7.2M345 193.6v7.2" stroke="#111" stroke-width="1.65" fill="none"/>
<path d="M346.5 196.7h7.2M350.1 193.1v7.2" stroke="#111" stroke-width="1.65" fill="none"/>
<path d="M350.9 186.6h7.2M354.5 183v7.2" stroke="#111" stroke-width="1.65" fill="none"/>
<path d="M357.2 190.7h7.2M360.8 187.1v7.2" stroke="#111" stroke-width="1.65" fill="none"/>
<path d="M363.5 184.4h7.2M367.1 180.8v7.2" stroke="#111" stroke-width="1.65" fill="none"/>
<path d="M369.9 189.5h7.2M373.5 185.9v7.2" stroke="#111" stroke-width="1.65" fill="none"/>
<path d="M378.5 191.6h7.2M382.1 188v7.2" stroke="#111" stroke-width="1.65" fill="none"/>
<path d="M382.7 187.8h7.2M386.3 184.2v7.2" stroke="#111" stroke-width="1.65" fill="none"/>
<path d="M388.7 181.9h7.2M392.3 178.3v7.2" stroke="#111" stroke-width="1.65" fill="none"/>
<path d="M395.1 183.6h7.2M398.7 180v7.2" stroke="#111" stroke-width="1.65" fill="none"/>
<path d="M401.8 180.2h7.2M405.4 176.6v7.2" stroke="#111" stroke-width="1.65" fill="none"/>
<path d="M408.7 187h7.2M412.3 183.4v7.2" stroke="#111" stroke-width="1.65" fill="none"/>
<path d="M415.5 181h7.2M419.1 177.4v7.2" stroke="#111" stroke-width="1.65" fill="none"/>
<path d="M421.7 181.9h7.2M425.3 178.3v7.2" stroke="#111" stroke-width="1.65" fill="none"/>
<path d="M429.4 180.2h7.2M433 176.6v7.2" stroke="#111" stroke-width="1.65" fill="none"/>
<path d="M435.7 182.7h7.2M439.3 179.1v7.2" stroke="#111" stroke-width="1.65" fill="none"/>
<path d="M441.6 184.1h7.2M445.2 180.5v7.2" stroke="#111" stroke-width="1.65" fill="none"/>
<path d="M449.8 179.3h7.2M453.4 175.7v7.2" stroke="#111" stroke-width="1.65" fill="none"/>
<path d="M456.9 187.8h7.2M460.5 184.2v7.2" stroke="#111" stroke-width="1.65" fill="none"/>
<path d="M464.8 186.1h7.2M468.4 182.5v7.2" stroke="#111" stroke-width="1.65" fill="none"/>
<path d="M474.1 193.8h7.2M477.7 190.2v7.2" stroke="#111" stroke-width="1.65" fill="none"/>
<path d="M479.9 185.3h7.2M483.5 181.7v7.2" stroke="#111" stroke-width="1.65" fill="none"/>
<path d="M489.3 191.2h7.2M492.9 187.6v7.2" stroke="#111" stroke-width="1.65" fill="none"/>
<path d="M494 181.4h7.2M497.6 177.8v7.2" stroke="#111" stroke-width="1.65" fill="none"/>
<path d="M501.7 182.4h7.2M505.3 178.8v7.2" stroke="#111" stroke-width="1.65" fill="none"/>
<path d="M509 174.2h7.2M512.6 170.6v7.2" stroke="#111" stroke-width="1.65" fill="none"/>
<path d="M517.3 178.5h7.2M520.9 174.9v7.2" stroke="#111" stroke-width="1.65" fill="none"/>
<path d="M523.8 177.6h7.2M527.4 174v7.2" stroke="#111" stroke-width="1.65" fill="none"/>
<path d="M531.1 169.6h7.2M534.7 166v7.2" stroke="#111" stroke-width="1.65" fill="none"/>
<path d="M540 174.2h7.2M543.6 170.6v7.2" stroke="#111" stroke-width="1.65" fill="none"/>
<path d="M548 163.7h7.2M551.6 160.1v7.2" stroke="#111" stroke-width="1.65" fill="none"/>
<path d="M556.5 168.3h7.2M560.1 164.7v7.2" stroke="#111" stroke-width="1.65" fill="none"/>
<path d="M563.8 154.3h7.2M567.4 150.7v7.2" stroke="#111" stroke-width="1.65" fill="none"/>
<path d="M572.3 154.7h7.2M575.9 151.1v7.2" stroke="#111" stroke-width="1.65" fill="none"/>
<path d="M579.9 141.6h7.2M583.5 138v7.2" stroke="#111" stroke-width="1.65" fill="none"/>
<path d="M587.3 137.3h7.2M590.9 133.7v7.2" stroke="#111" stroke-width="1.65" fill="none"/>
<path d="M593.6 120.6h7.2M597.2 117v7.2" stroke="#111" stroke-width="1.65" fill="none"/>
<path d="M601.2 115.5h7.2M604.8 111.9v7.2" stroke="#111" stroke-width="1.65" fill="none"/>
<path d="M609.4 100.2h7.2M613 96.6v7.2" stroke="#111" stroke-width="1.65" fill="none"/>
<path d="M617.9 97.1h7.2M621.5 93.5v7.2" stroke="#111" stroke-width="1.65" fill="none"/>
<path d="M188.1 426.3l3.6 -6.8l3.6 6.8z" stroke="#111" stroke-width="1.5" fill="none"/>
<path d="M190.3 419.8l3.6 -6.8l3.6 6.8z" stroke="#111" stroke-width="1.5" fill="none"/>
<path d="M192.7 409l3.6 -6.8l3.6 6.8z" stroke="#111" stroke-width="1.5" fill="none"/>
<path d="M195.7 402.5l3.6 -6.8l3.6 6.8z" stroke="#111" stroke-width="1.5" fill="none"/>
<path d="M199.2 392.2l3.6 -6.8l3.6 6.8z" stroke="#111" stroke-width="1.5" fill="none"/>
<path d="M201.6 385.1l3.6 -6.8l3.6 6.8z" stroke="#111" stroke-width="1.5" fill="none"/>
<path d="M205.4 374.3l3.6 -6.8l3.6 6.8z" stroke="#111" stroke-width="1.5" fill="none"/>
<path d="M209 368.9l3.6 -6.8l3.6 6.8z" stroke="#111" stroke-width="1.5" fill="none"/>
<path d="M212.7 358.6l3.6 -6.8l3.6 6.8z" stroke="#111" stroke-width="1.5" fill="none"/>
<path d="M216.2 351.6l3.6 -6.8l3.6 6.8z" stroke="#111" stroke-width="1.5" fill="none"/>
<path d="M220 340.2l3.6 -6.8l3.6 6.8z" stroke="#111" stroke-width="1.5" fill="none"/>
<path d="M222.7 333.7l3.6 -6.8l3.6 6.8z" stroke="#111" stroke-width="1.5" fill="none"/>
<path d="M226.7 321.8l3.6 -6.8l3.6 6.8z" stroke="#111" stroke-width="1.5" fill="none"/>
<path d="M230.3 314.8l3.6 -6.8l3.6 6.8z" stroke="#111" stroke-width="1.5" fill="none"/>
<path d="M236.8 307.7l3.6 -6.8l3.6 6.8z" stroke="#111" stroke-width="1.5" fill="none"/>
<path d="M242.2 303.4l3.6 -6.8l3.6 6.8z" stroke="#111" stroke-width="1.5" fill="none"/>
<path d="M247.6 299.1l3.6 -6.8l3.6 6.8z" stroke="#111" stroke-width="1.5" fill="none"/>
<path d="M252.6 281.6l3.6 -6.8l3.6 6.8z" stroke="#111" stroke-width="1.5" fill="none"/>
<path d="M258.9 272.6l3.6 -6.8l3.6 6.8z" stroke="#111" stroke-width="1.5" fill="none"/>
<path d="M266.1 258.5l3.6 -6.8l3.6 6.8z" stroke="#111" stroke-width="1.5" fill="none"/>
<path d="M271.7 242.8l3.6 -6.8l3.6 6.8z" stroke="#111" stroke-width="1.5" fill="none"/>
<path d="M278.4 226.6l3.6 -6.8l3.6 6.8z" stroke="#111" stroke-width="1.5" fill="none"/>
<path d="M284.7 217l3.6 -6.8l3.6 6.8z" stroke="#111" stroke-width="1.5" fill="none"/>
<path d="M292.2 209.7l3.6 -6.8l3.6 6.8z" stroke="#111" stroke-width="1.5" fill="none"/>
<path d="M301 205.7l3.6 -6.8l3.6 6.8z" stroke="#111" stroke-width="1.5" fill="none"/>
<path d="M309 200.3l3.6 -6.8l3.6 6.8z" stroke="#111" stroke-width="1.5" fill="none"/>
<path d="M316.4 193.5l3.6 -6.8l3.6 6.8z" stroke="#111" stroke-width="1.5" fill="none"/>
<path d="M323.2 193.5l3.6 -6.8l3.6 6.8z" stroke="#111" stroke-width="1.5" fill="none"/>
<path d="M329.1 182.4l3.6 -6.8l3.6 6.8z" stroke="#111" stroke-width="1.5" fill="none"/>
<path d="M335.4 181.6l3.6 -6.8l3.6 6.8z" stroke="#111" stroke-width="1.5" fill="none"/>
<path d="M339 173.1l3.6 -6.8l3.6 6.8z" stroke="#111" stroke-width="1.5" fill="none"/>
<path d="M342.7 167.1l3.6 -6.8l3.6 6.8z" stroke="#111" stroke-width="1.5" fill="none"/>
<path d="M348.7 162.9l3.6 -6.8l3.6 6.8z" stroke="#111" stroke-width="1.5" fill="none"/>
<path d="M355 162.9l3.6 -6.8l3.6 6.8z" stroke="#111" stroke-width="1.5" fill="none"/>
<path d="M361.4 163.7l3.6 -6.8l3.6 6.8z" stroke="#111" stroke-width="1.5" fill="none"/>
<path d="M367.9 162.9l3.6 -6.8l3.6 6.8z" stroke="#111" stroke-width="1.5" fill="none"/>
<path d="M374.7 164.2l3.6 -6.8l3.6 6.8z" stroke="#111" stroke-width="1.5" fill="none"/>
<path d="M381.9 176l3.6 -6.8l3.6 6.8z" stroke="#111" stroke-width="1.5" fill="none"/>
<path d="M388.7 178.2l3.6 -6.8l3.6 6.8z" stroke="#111" stroke-width="1.5" fill="none"/>
<path d="M394.3 174.4l3.6 -6.8l3.6 6.8z" stroke="#111" stroke-width="1.5" fill="none"/>
<path d="M399.7 170.2l3.6 -6.8l3.6 6.8z" stroke="#111" stroke-width="1.5" fill="none"/>
<path d="M406 170.2l3.6 -6.8l3.6 6.8z" stroke="#111" stroke-width="1.5" fill="none"/>
<path d="M413.3 171.7l3.6 -6.8l3.6 6.8z" stroke="#111" stroke-width="1.5" fill="none"/>
<path d="M420.5 181.6l3.6 -6.8l3.6 6.8z" stroke="#111" stroke-width="1.5" fill="none"/>
<path d="M426.8 172.2l3.6 -6.8l3.6 6.8z" stroke="#111" stroke-width="1.5" fill="none"/>
<path d="M434.5 176.5l3.6 -6.8l3.6 6.8z" stroke="#111" stroke-width="1.5" fill="none"/>
<path d="M441.3 175.6l3.6 -6.8l3.6 6.8z" stroke="#111" stroke-width="1.5" fill="none"/>
<path d="M448.1 176.5l3.6 -6.8l3.6 6.8z" stroke="#111" stroke-width="1.5" fill="none"/>
<path d="M456.9 182.4l3.6 -6.8l3.6 6.8z" stroke="#111" stroke-width="1.5" fill="none"/>
<path d="M464.8 184.1l3.6 -6.8l3.6 6.8z" stroke="#111" stroke-width="1.5" fill="none"/>
<path d="M472.4 173.9l3.6 -6.8l3.6 6.8z" stroke="#111" stroke-width="1.5" fill="none"/>
<path d="M479.6 173.1l3.6 -6.8l3.6 6.8z" stroke="#111" stroke-width="1.5" fill="none"/>
<path d="M487.2 162.3l3.6 -6.8l3.6 6.8z" stroke="#111" stroke-width="1.5" fill="none"/>
<path d="M496.1 166.3l3.6 -6.8l3.6 6.8z" stroke="#111" stroke-width="1.5" fill="none"/>
<path d="M505.6 157.8l3.6 -6.8l3.6 6.8z" stroke="#111" stroke-width="1.5" fill="none"/>
<path d="M515.3 161.7l3.6 -6.8l3.6 6.8z" stroke="#111" stroke-width="1.5" fill="none"/>
<path d="M523.8 151.8l3.6 -6.8l3.6 6.8z" stroke="#111" stroke-width="1.5" fill="none"/>
<path d="M533.2 152.1l3.6 -6.8l3.6 6.8z" stroke="#111" stroke-width="1.5" fill="none"/>
<path d="M539.6 131.4l3.6 -6.8l3.6 6.8z" stroke="#111" stroke-width="1.5" fill="none"/>
<path d="M547.6 111.8l3.6 -6.8l3.6 6.8z" stroke="#111" stroke-width="1.5" fill="none"/>
<path d="M556.1 108.1l3.6 -6.8l3.6 6.8z" stroke="#111" stroke-width="1.5" fill="none"/>
<path d="M565.5 90.7l3.6 -6.8l3.6 6.8z" stroke="#111" stroke-width="1.5" fill="none"/>
<path d="M574.8 72l3.6 -6.8l3.6 6.8z" stroke="#111" stroke-width="1.5" fill="none"/>
<path d="M584.7 68.9l3.6 -6.8l3.6 6.8z" stroke="#111" stroke-width="1.5" fill="none"/>
<path d="M594.9 50.7l3.6 -6.8l3.6 6.8z" stroke="#111" stroke-width="1.5" fill="none"/>
<path d="M605.5 48.5l3.6 -6.8l3.6 6.8z" stroke="#111" stroke-width="1.5" fill="none"/>
<path d="M615.2 26.1l3.6 -6.8l3.6 6.8z" stroke="#111" stroke-width="1.5" fill="none"/>
</g>
<line x1="392.3" x2="392.3" y1="7.9" y2="432.3" stroke="#111" stroke-width="2.4" stroke-dasharray="4.2 1.6"/>
<line x1="531.8" x2="531.8" y1="7.9" y2="432.3" stroke="#111" stroke-width="2.4" stroke-dasharray="4.2 1.6"/>
<text transform="translate(2.5 457.3) scale(1 1.08)" font-size="26.5" font-weight="bold" fill="#111">(a)</text>
<line x1="67.6" x2="625" y1="806.7" y2="806.7" stroke="#e2e2e2" stroke-width="1.0"/>
<line x1="67.6" x2="625" y1="725.2" y2="725.2" stroke="#e2e2e2" stroke-width="1.0"/>
<line x1="67.6" x2="625" y1="643.7" y2="643.7" stroke="#e2e2e2" stroke-width="1.0"/>
<line x1="67.6" x2="625" y1="562.2" y2="562.2" stroke="#e2e2e2" stroke-width="1.0"/>
<line x1="160.5" x2="160.5" y1="480.7" y2="888.2" stroke="#e2e2e2" stroke-width="1.0"/>
<line x1="253.4" x2="253.4" y1="480.7" y2="888.2" stroke="#e2e2e2" stroke-width="1.0"/>
<line x1="346.3" x2="346.3" y1="480.7" y2="888.2" stroke="#e2e2e2" stroke-width="1.0"/>
<line x1="439.2" x2="439.2" y1="480.7" y2="888.2" stroke="#e2e2e2" stroke-width="1.0"/>
<line x1="532.1" x2="532.1" y1="480.7" y2="888.2" stroke="#e2e2e2" stroke-width="1.0"/>
<rect x="67.6" y="480.7" width="557.4" height="407.5" fill="none" stroke="#b3b3b3" stroke-width="1.2"/>
<line x1="63.1" x2="67.6" y1="888.2" y2="888.2" stroke="#b3b3b3" stroke-width="1.1"/>
<text x="62.5" y="892.4" font-size="11.9" text-anchor="end" font-weight="normal" fill="#1a1a1a" >0.4</text>
<line x1="65.6" x2="67.6" y1="847.5" y2="847.5" stroke="#b3b3b3" stroke-width="1"/>
<line x1="63.1" x2="67.6" y1="806.7" y2="806.7" stroke="#b3b3b3" stroke-width="1.1"/>
<text x="62.5" y="810.9" font-size="11.9" text-anchor="end" font-weight="normal" fill="#1a1a1a" >0.45</text>
<line x1="65.6" x2="67.6" y1="766" y2="766" stroke="#b3b3b3" stroke-width="1"/>
<line x1="63.1" x2="67.6" y1="725.2" y2="725.2" stroke="#b3b3b3" stroke-width="1.1"/>
<text x="62.5" y="729.4" font-size="11.9" text-anchor="end" font-weight="normal" fill="#1a1a1a" >0.5</text>
<line x1="65.6" x2="67.6" y1="684.5" y2="684.5" stroke="#b3b3b3" stroke-width="1"/>
<line x1="63.1" x2="67.6" y1="643.7" y2="643.7" stroke="#b3b3b3" stroke-width="1.1"/>
<text x="62.5" y="647.9" font-size="11.9" text-anchor="end" font-weight="normal" fill="#1a1a1a" >0.55</text>
<line x1="65.6" x2="67.6" y1="603" y2="603" stroke="#b3b3b3" stroke-width="1"/>
<line x1="63.1" x2="67.6" y1="562.2" y2="562.2" stroke="#b3b3b3" stroke-width="1.1"/>
<text x="62.5" y="566.4" font-size="11.9" text-anchor="end" font-weight="normal" fill="#1a1a1a" >0.6</text>
<line x1="65.6" x2="67.6" y1="521.5" y2="521.5" stroke="#b3b3b3" stroke-width="1"/>
<line x1="63.1" x2="67.6" y1="480.7" y2="480.7" stroke="#b3b3b3" stroke-width="1.1"/>
<text x="62.5" y="484.9" font-size="11.9" text-anchor="end" font-weight="normal" fill="#1a1a1a" >0.65</text>
<line x1="67.6" x2="67.6" y1="888.2" y2="892.2" stroke="#b3b3b3" stroke-width="1.1"/>
<text x="68.3" y="904.8" font-size="11.5" text-anchor="middle" font-weight="normal" fill="#1a1a1a" >0.2</text>
<line x1="114" x2="114" y1="888.2" y2="890.2" stroke="#b3b3b3" stroke-width="1"/>
<line x1="160.5" x2="160.5" y1="888.2" y2="892.2" stroke="#b3b3b3" stroke-width="1.1"/>
<text x="161.2" y="904.8" font-size="11.5" text-anchor="middle" font-weight="normal" fill="#1a1a1a" >0.3</text>
<line x1="206.9" x2="206.9" y1="888.2" y2="890.2" stroke="#b3b3b3" stroke-width="1"/>
<line x1="253.4" x2="253.4" y1="888.2" y2="892.2" stroke="#b3b3b3" stroke-width="1.1"/>
<text x="254.1" y="904.8" font-size="11.5" text-anchor="middle" font-weight="normal" fill="#1a1a1a" >0.4</text>
<line x1="299.8" x2="299.8" y1="888.2" y2="890.2" stroke="#b3b3b3" stroke-width="1"/>
<line x1="346.3" x2="346.3" y1="888.2" y2="892.2" stroke="#b3b3b3" stroke-width="1.1"/>
<text x="347" y="904.8" font-size="11.5" text-anchor="middle" font-weight="normal" fill="#1a1a1a" >0.5</text>
<line x1="392.7" x2="392.7" y1="888.2" y2="890.2" stroke="#b3b3b3" stroke-width="1"/>
<line x1="439.2" x2="439.2" y1="888.2" y2="892.2" stroke="#b3b3b3" stroke-width="1.1"/>
<text x="439.9" y="904.8" font-size="11.5" text-anchor="middle" font-weight="normal" fill="#1a1a1a" >0.6</text>
<line x1="485.6" x2="485.6" y1="888.2" y2="890.2" stroke="#b3b3b3" stroke-width="1"/>
<line x1="532.1" x2="532.1" y1="888.2" y2="892.2" stroke="#b3b3b3" stroke-width="1.1"/>
<text x="532.8" y="904.8" font-size="11.5" text-anchor="middle" font-weight="normal" fill="#1a1a1a" >0.7</text>
<line x1="578.5" x2="578.5" y1="888.2" y2="890.2" stroke="#b3b3b3" stroke-width="1"/>
<line x1="625" x2="625" y1="888.2" y2="892.2" stroke="#b3b3b3" stroke-width="1.1"/>
<text x="625.7" y="904.8" font-size="11.5" text-anchor="middle" font-weight="normal" fill="#1a1a1a" >0.8</text>
<text transform="translate(26.4 682.5) rotate(-90)" font-size="18.2" text-anchor="middle" fill="#111">ΔE (eV)</text>
<text transform="translate(343.5 926) scale(1.11 1)" font-size="16.5" text-anchor="middle" fill="#111">ΔC<tspan font-size="9.3" dy="3.5">N</tspan><tspan dy="-3.5"> /ΔC</tspan><tspan font-size="9.3" dy="3.5">M</tspan></text>
<clipPath id="clipc"><rect x="68.2" y="481.3" width="556.2" height="406.3"/></clipPath>
<rect x="73" y="484.6" width="58.5" height="91.4" fill="#f6f6f6"/>
<text x="76.3" y="496.9" font-size="10.3" text-anchor="start" font-weight="bold" fill="#111" >tD</text>
<circle cx="79.7" cy="508.6" r="3.2" fill="none" stroke="#111" stroke-width="1.5"/>
<text x="91.3" y="512.4" font-size="10.3" text-anchor="start" font-weight="normal" fill="#1a1a1a" >0.0001</text>
<path d="M75.8 523.4h7.8M79.7 519.5v7.8" stroke="#111" stroke-width="1.8" fill="none"/>
<text x="91.3" y="527.1" font-size="10.3" text-anchor="start" font-weight="normal" fill="#1a1a1a" >0.0002</text>
<path d="M75.7 538.1l4 -4l4 4l-4 4z" stroke="#111" stroke-width="1.5" fill="none"/>
<text x="91.3" y="541.9" font-size="10.3" text-anchor="start" font-weight="normal" fill="#1a1a1a" >0.0005</text>
<path d="M76.4 549.6l6.6 6.6M76.4 556.1l6.6 -6.6" stroke="#111" stroke-width="1.9" fill="none"/>
<text x="91.3" y="556.6" font-size="10.3" text-anchor="start" font-weight="normal" fill="#1a1a1a" >0.001</text>
<path d="M75.3 571l4.4 -8.4l4.4 8.4z" stroke="#111" stroke-width="1.5" fill="none"/>
<text x="91.3" y="571.4" font-size="10.3" text-anchor="start" font-weight="normal" fill="#1a1a1a" >0.002</text>
<g clip-path="url(#clipc)">
<circle cx="220.7" cy="884.1" r="3.25" fill="none" stroke="#2a2a2a" stroke-width="1.0"/>
<circle cx="220.1" cy="874.8" r="3.25" fill="none" stroke="#2a2a2a" stroke-width="1.0"/>
<circle cx="219.4" cy="869.4" r="3.25" fill="none" stroke="#2a2a2a" stroke-width="1.0"/>
<circle cx="219.4" cy="860.6" r="3.25" fill="none" stroke="#2a2a2a" stroke-width="1.0"/>
<circle cx="220.7" cy="855.8" r="3.25" fill="none" stroke="#2a2a2a" stroke-width="1.0"/>
<circle cx="220.7" cy="847.8" r="3.25" fill="none" stroke="#2a2a2a" stroke-width="1.0"/>
<circle cx="222" cy="843.1" r="3.25" fill="none" stroke="#2a2a2a" stroke-width="1.0"/>
<circle cx="224" cy="835.4" r="3.25" fill="none" stroke="#2a2a2a" stroke-width="1.0"/>
<circle cx="225.4" cy="830.8" r="3.25" fill="none" stroke="#2a2a2a" stroke-width="1.0"/>
<circle cx="225.8" cy="822.7" r="3.25" fill="none" stroke="#2a2a2a" stroke-width="1.0"/>
<circle cx="227.4" cy="817.6" r="3.25" fill="none" stroke="#2a2a2a" stroke-width="1.0"/>
<circle cx="230.5" cy="812.2" r="3.25" fill="none" stroke="#2a2a2a" stroke-width="1.0"/>
<circle cx="232.5" cy="808.3" r="3.25" fill="none" stroke="#2a2a2a" stroke-width="1.0"/>
<circle cx="239.5" cy="806" r="3.25" fill="none" stroke="#2a2a2a" stroke-width="1.0"/>
<circle cx="242.4" cy="801.7" r="3.25" fill="none" stroke="#2a2a2a" stroke-width="1.0"/>
<circle cx="242.4" cy="794.9" r="3.25" fill="none" stroke="#2a2a2a" stroke-width="1.0"/>
<circle cx="241.3" cy="784.4" r="3.25" fill="none" stroke="#2a2a2a" stroke-width="1.0"/>
<circle cx="240.5" cy="776.6" r="3.25" fill="none" stroke="#2a2a2a" stroke-width="1.0"/>
<circle cx="242.1" cy="768.6" r="3.25" fill="none" stroke="#2a2a2a" stroke-width="1.0"/>
<circle cx="246.4" cy="764.7" r="3.25" fill="none" stroke="#2a2a2a" stroke-width="1.0"/>
<circle cx="250.3" cy="758.8" r="3.25" fill="none" stroke="#2a2a2a" stroke-width="1.0"/>
<circle cx="251.7" cy="753.1" r="3.25" fill="none" stroke="#2a2a2a" stroke-width="1.0"/>
<circle cx="256.3" cy="748.5" r="3.25" fill="none" stroke="#2a2a2a" stroke-width="1.0"/>
<circle cx="261" cy="746.5" r="3.25" fill="none" stroke="#2a2a2a" stroke-width="1.0"/>
<circle cx="263.7" cy="739.2" r="3.25" fill="none" stroke="#2a2a2a" stroke-width="1.0"/>
<circle cx="265.6" cy="733.8" r="3.25" fill="none" stroke="#2a2a2a" stroke-width="1.0"/>
<circle cx="269.6" cy="727.1" r="3.25" fill="none" stroke="#2a2a2a" stroke-width="1.0"/>
<circle cx="273.3" cy="723.6" r="3.25" fill="none" stroke="#2a2a2a" stroke-width="1.0"/>
<circle cx="275.3" cy="718.6" r="3.25" fill="none" stroke="#2a2a2a" stroke-width="1.0"/>
<circle cx="279.2" cy="712.4" r="3.25" fill="none" stroke="#2a2a2a" stroke-width="1.0"/>
<circle cx="284.6" cy="711.7" r="3.25" fill="none" stroke="#2a2a2a" stroke-width="1.0"/>
<circle cx="287.7" cy="702.7" r="3.25" fill="none" stroke="#2a2a2a" stroke-width="1.0"/>
<circle cx="292.7" cy="701.6" r="3.25" fill="none" stroke="#2a2a2a" stroke-width="1.0"/>
<circle cx="296.5" cy="693.9" r="3.25" fill="none" stroke="#2a2a2a" stroke-width="1.0"/>
<circle cx="300.1" cy="691.5" r="3.25" fill="none" stroke="#2a2a2a" stroke-width="1.0"/>
<circle cx="302.9" cy="681.9" r="3.25" fill="none" stroke="#2a2a2a" stroke-width="1.0"/>
<circle cx="307.6" cy="680.6" r="3.25" fill="none" stroke="#2a2a2a" stroke-width="1.0"/>
<circle cx="312.4" cy="675.1" r="3.25" fill="none" stroke="#2a2a2a" stroke-width="1.0"/>
<circle cx="317.8" cy="675.5" r="3.25" fill="none" stroke="#2a2a2a" stroke-width="1.0"/>
<circle cx="322.1" cy="669.5" r="3.25" fill="none" stroke="#2a2a2a" stroke-width="1.0"/>
<circle cx="325.5" cy="665.3" r="3.25" fill="none" stroke="#2a2a2a" stroke-width="1.0"/>
<circle cx="328.9" cy="656.2" r="3.25" fill="none" stroke="#2a2a2a" stroke-width="1.0"/>
<circle cx="335.4" cy="658.5" r="3.25" fill="none" stroke="#2a2a2a" stroke-width="1.0"/>
<circle cx="341.7" cy="662.2" r="3.25" fill="none" stroke="#2a2a2a" stroke-width="1.0"/>
<circle cx="348.8" cy="659.3" r="3.25" fill="none" stroke="#2a2a2a" stroke-width="1.0"/>
<circle cx="352.7" cy="655.9" r="3.25" fill="none" stroke="#2a2a2a" stroke-width="1.0"/>
<circle cx="358.3" cy="653" r="3.25" fill="none" stroke="#2a2a2a" stroke-width="1.0"/>
<circle cx="364.1" cy="655.6" r="3.25" fill="none" stroke="#2a2a2a" stroke-width="1.0"/>
<circle cx="369.7" cy="648.6" r="3.25" fill="none" stroke="#2a2a2a" stroke-width="1.0"/>
<circle cx="377.4" cy="656.8" r="3.25" fill="none" stroke="#2a2a2a" stroke-width="1.0"/>
<circle cx="383.3" cy="651.7" r="3.25" fill="none" stroke="#2a2a2a" stroke-width="1.0"/>
<circle cx="390.7" cy="657.6" r="3.25" fill="none" stroke="#2a2a2a" stroke-width="1.0"/>
<circle cx="394.4" cy="648.6" r="3.25" fill="none" stroke="#2a2a2a" stroke-width="1.0"/>
<circle cx="400.4" cy="651.7" r="3.25" fill="none" stroke="#2a2a2a" stroke-width="1.0"/>
<circle cx="404.6" cy="642.8" r="3.25" fill="none" stroke="#2a2a2a" stroke-width="1.0"/>
<circle cx="409.4" cy="642" r="3.25" fill="none" stroke="#2a2a2a" stroke-width="1.0"/>
<circle cx="417.4" cy="642.6" r="3.25" fill="none" stroke="#2a2a2a" stroke-width="1.0"/>
<circle cx="425.4" cy="648.8" r="3.25" fill="none" stroke="#2a2a2a" stroke-width="1.0"/>
<circle cx="431.8" cy="653" r="3.25" fill="none" stroke="#2a2a2a" stroke-width="1.0"/>
<circle cx="436.9" cy="646.6" r="3.25" fill="none" stroke="#2a2a2a" stroke-width="1.0"/>
<circle cx="443.9" cy="649.3" r="3.25" fill="none" stroke="#2a2a2a" stroke-width="1.0"/>
<circle cx="449.7" cy="644.1" r="3.25" fill="none" stroke="#2a2a2a" stroke-width="1.0"/>
<circle cx="457.8" cy="649.8" r="3.25" fill="none" stroke="#2a2a2a" stroke-width="1.0"/>
<circle cx="466.8" cy="659.9" r="3.25" fill="none" stroke="#2a2a2a" stroke-width="1.0"/>
<circle cx="473.3" cy="654.5" r="3.25" fill="none" stroke="#2a2a2a" stroke-width="1.0"/>
<circle cx="478.5" cy="653.1" r="3.25" fill="none" stroke="#2a2a2a" stroke-width="1.0"/>
<circle cx="486.6" cy="651.8" r="3.25" fill="none" stroke="#2a2a2a" stroke-width="1.0"/>
<circle cx="493.4" cy="653.4" r="3.25" fill="none" stroke="#2a2a2a" stroke-width="1.0"/>
<circle cx="499.3" cy="645.6" r="3.25" fill="none" stroke="#2a2a2a" stroke-width="1.0"/>
<circle cx="506.1" cy="647.4" r="3.25" fill="none" stroke="#2a2a2a" stroke-width="1.0"/>
<circle cx="515.5" cy="646.6" r="3.25" fill="none" stroke="#2a2a2a" stroke-width="1.0"/>
<circle cx="522" cy="646.6" r="3.25" fill="none" stroke="#2a2a2a" stroke-width="1.0"/>
<circle cx="528" cy="636.8" r="3.25" fill="none" stroke="#2a2a2a" stroke-width="1.0"/>
<circle cx="536.9" cy="643.7" r="3.25" fill="none" stroke="#2a2a2a" stroke-width="1.0"/>
<circle cx="541.5" cy="627.9" r="3.25" fill="none" stroke="#2a2a2a" stroke-width="1.0"/>
<circle cx="548.6" cy="629" r="3.25" fill="none" stroke="#2a2a2a" stroke-width="1.0"/>
<circle cx="553.7" cy="614.9" r="3.25" fill="none" stroke="#2a2a2a" stroke-width="1.0"/>
<circle cx="560.5" cy="611.2" r="3.25" fill="none" stroke="#2a2a2a" stroke-width="1.0"/>
<circle cx="566.5" cy="599" r="3.25" fill="none" stroke="#2a2a2a" stroke-width="1.0"/>
<circle cx="575.9" cy="603.1" r="3.25" fill="none" stroke="#2a2a2a" stroke-width="1.0"/>
<circle cx="584" cy="591.7" r="3.25" fill="none" stroke="#2a2a2a" stroke-width="1.0"/>
<circle cx="595.1" cy="599" r="3.25" fill="none" stroke="#2a2a2a" stroke-width="1.0"/>
<circle cx="602.7" cy="587.6" r="3.25" fill="none" stroke="#2a2a2a" stroke-width="1.0"/>
<circle cx="609.5" cy="584.1" r="3.25" fill="none" stroke="#2a2a2a" stroke-width="1.0"/>
<circle cx="615.7" cy="568.1" r="3.25" fill="none" stroke="#2a2a2a" stroke-width="1.0"/>
<circle cx="623.8" cy="567.3" r="3.25" fill="none" stroke="#2a2a2a" stroke-width="1.0"/>
<path d="M243.1 883l3.6 -3.6l3.6 3.6l-3.6 3.6z" stroke="#111" stroke-width="1.4" fill="none"/>
<path d="M249 882.6l3.6 -3.6l3.6 3.6l-3.6 3.6z" stroke="#111" stroke-width="1.4" fill="none"/>
<path d="M248.5 874.1l3.6 -3.6l3.6 3.6l-3.6 3.6z" stroke="#111" stroke-width="1.4" fill="none"/>
<path d="M250.1 868.7l3.6 -3.6l3.6 3.6l-3.6 3.6z" stroke="#111" stroke-width="1.4" fill="none"/>
<path d="M250.1 862l3.6 -3.6l3.6 3.6l-3.6 3.6z" stroke="#111" stroke-width="1.4" fill="none"/>
<path d="M250.9 853.2l3.6 -3.6l3.6 3.6l-3.6 3.6z" stroke="#111" stroke-width="1.4" fill="none"/>
<path d="M254 849.6l3.6 -3.6l3.6 3.6l-3.6 3.6z" stroke="#111" stroke-width="1.4" fill="none"/>
<path d="M256.3 843.6l3.6 -3.6l3.6 3.6l-3.6 3.6z" stroke="#111" stroke-width="1.4" fill="none"/>
<path d="M258.3 838.2l3.6 -3.6l3.6 3.6l-3.6 3.6z" stroke="#111" stroke-width="1.4" fill="none"/>
<path d="M259.8 830l3.6 -3.6l3.6 3.6l-3.6 3.6z" stroke="#111" stroke-width="1.4" fill="none"/>
<path d="M264 826.9l3.6 -3.6l3.6 3.6l-3.6 3.6z" stroke="#111" stroke-width="1.4" fill="none"/>
<path d="M264.8 818.1l3.6 -3.6l3.6 3.6l-3.6 3.6z" stroke="#111" stroke-width="1.4" fill="none"/>
<path d="M266.6 812.5l3.6 -3.6l3.6 3.6l-3.6 3.6z" stroke="#111" stroke-width="1.4" fill="none"/>
<path d="M267.9 803.7l3.6 -3.6l3.6 3.6l-3.6 3.6z" stroke="#111" stroke-width="1.4" fill="none"/>
<path d="M271.3 800.6l3.6 -3.6l3.6 3.6l-3.6 3.6z" stroke="#111" stroke-width="1.4" fill="none"/>
<path d="M275.1 797.5l3.6 -3.6l3.6 3.6l-3.6 3.6z" stroke="#111" stroke-width="1.4" fill="none"/>
<path d="M278.4 790.1l3.6 -3.6l3.6 3.6l-3.6 3.6z" stroke="#111" stroke-width="1.4" fill="none"/>
<path d="M280.3 784l3.6 -3.6l3.6 3.6l-3.6 3.6z" stroke="#111" stroke-width="1.4" fill="none"/>
<path d="M283.3 777.1l3.6 -3.6l3.6 3.6l-3.6 3.6z" stroke="#111" stroke-width="1.4" fill="none"/>
<path d="M287.2 774l3.6 -3.6l3.6 3.6l-3.6 3.6z" stroke="#111" stroke-width="1.4" fill="none"/>
<path d="M292.3 768.1l3.6 -3.6l3.6 3.6l-3.6 3.6z" stroke="#111" stroke-width="1.4" fill="none"/>
<path d="M295.7 765.8l3.6 -3.6l3.6 3.6l-3.6 3.6z" stroke="#111" stroke-width="1.4" fill="none"/>
<path d="M303.5 765.3l3.6 -3.6l3.6 3.6l-3.6 3.6z" stroke="#111" stroke-width="1.4" fill="none"/>
<path d="M307.3 761.5l3.6 -3.6l3.6 3.6l-3.6 3.6z" stroke="#111" stroke-width="1.4" fill="none"/>
<path d="M309.3 751.1l3.6 -3.6l3.6 3.6l-3.6 3.6z" stroke="#111" stroke-width="1.4" fill="none"/>
<path d="M310.9 744.9l3.6 -3.6l3.6 3.6l-3.6 3.6z" stroke="#111" stroke-width="1.4" fill="none"/>
<path d="M313.5 736.1l3.6 -3.6l3.6 3.6l-3.6 3.6z" stroke="#111" stroke-width="1.4" fill="none"/>
<path d="M318.9 734.5l3.6 -3.6l3.6 3.6l-3.6 3.6z" stroke="#111" stroke-width="1.4" fill="none"/>
<path d="M326.3 733l3.6 -3.6l3.6 3.6l-3.6 3.6z" stroke="#111" stroke-width="1.4" fill="none"/>
<path d="M333.6 736.9l3.6 -3.6l3.6 3.6l-3.6 3.6z" stroke="#111" stroke-width="1.4" fill="none"/>
<path d="M338.4 733l3.6 -3.6l3.6 3.6l-3.6 3.6z" stroke="#111" stroke-width="1.4" fill="none"/>
<path d="M343.2 730.4l3.6 -3.6l3.6 3.6l-3.6 3.6z" stroke="#111" stroke-width="1.4" fill="none"/>
<path d="M347.4 724l3.6 -3.6l3.6 3.6l-3.6 3.6z" stroke="#111" stroke-width="1.4" fill="none"/>
<path d="M353.9 725.7l3.6 -3.6l3.6 3.6l-3.6 3.6z" stroke="#111" stroke-width="1.4" fill="none"/>
<path d="M358.5 718.5l3.6 -3.6l3.6 3.6l-3.6 3.6z" stroke="#111" stroke-width="1.4" fill="none"/>
<path d="M361 713.4l3.6 -3.6l3.6 3.6l-3.6 3.6z" stroke="#111" stroke-width="1.4" fill="none"/>
<path d="M363.9 703.5l3.6 -3.6l3.6 3.6l-3.6 3.6z" stroke="#111" stroke-width="1.4" fill="none"/>
<path d="M370 703.9l3.6 -3.6l3.6 3.6l-3.6 3.6z" stroke="#111" stroke-width="1.4" fill="none"/>
<path d="M376.7 701.5l3.6 -3.6l3.6 3.6l-3.6 3.6z" stroke="#111" stroke-width="1.4" fill="none"/>
<path d="M386.5 712.9l3.6 -3.6l3.6 3.6l-3.6 3.6z" stroke="#111" stroke-width="1.4" fill="none"/>
<path d="M394.2 710.4l3.6 -3.6l3.6 3.6l-3.6 3.6z" stroke="#111" stroke-width="1.4" fill="none"/>
<path d="M400.2 712.4l3.6 -3.6l3.6 3.6l-3.6 3.6z" stroke="#111" stroke-width="1.4" fill="none"/>
<path d="M404.4 711.2l3.6 -3.6l3.6 3.6l-3.6 3.6z" stroke="#111" stroke-width="1.4" fill="none"/>
<path d="M409.5 703.5l3.6 -3.6l3.6 3.6l-3.6 3.6z" stroke="#111" stroke-width="1.4" fill="none"/>
<path d="M415.8 705.3l3.6 -3.6l3.6 3.6l-3.6 3.6z" stroke="#111" stroke-width="1.4" fill="none"/>
<path d="M422.3 701l3.6 -3.6l3.6 3.6l-3.6 3.6z" stroke="#111" stroke-width="1.4" fill="none"/>
<path d="M430.4 707.8l3.6 -3.6l3.6 3.6l-3.6 3.6z" stroke="#111" stroke-width="1.4" fill="none"/>
<path d="M438.6 708.3l3.6 -3.6l3.6 3.6l-3.6 3.6z" stroke="#111" stroke-width="1.4" fill="none"/>
<path d="M445.9 711l3.6 -3.6l3.6 3.6l-3.6 3.6z" stroke="#111" stroke-width="1.4" fill="none"/>
<path d="M452.3 714.1l3.6 -3.6l3.6 3.6l-3.6 3.6z" stroke="#111" stroke-width="1.4" fill="none"/>
<path d="M457.9 706.8l3.6 -3.6l3.6 3.6l-3.6 3.6z" stroke="#111" stroke-width="1.4" fill="none"/>
<path d="M463.8 705.9l3.6 -3.6l3.6 3.6l-3.6 3.6z" stroke="#111" stroke-width="1.4" fill="none"/>
<path d="M472.5 705.9l3.6 -3.6l3.6 3.6l-3.6 3.6z" stroke="#111" stroke-width="1.4" fill="none"/>
<path d="M478.9 707.8l3.6 -3.6l3.6 3.6l-3.6 3.6z" stroke="#111" stroke-width="1.4" fill="none"/>
<path d="M488 706.8l3.6 -3.6l3.6 3.6l-3.6 3.6z" stroke="#111" stroke-width="1.4" fill="none"/>
<path d="M496.9 713.8l3.6 -3.6l3.6 3.6l-3.6 3.6z" stroke="#111" stroke-width="1.4" fill="none"/>
<path d="M503.5 705.9l3.6 -3.6l3.6 3.6l-3.6 3.6z" stroke="#111" stroke-width="1.4" fill="none"/>
<path d="M510.7 707l3.6 -3.6l3.6 3.6l-3.6 3.6z" stroke="#111" stroke-width="1.4" fill="none"/>
<path d="M518 700.7l3.6 -3.6l3.6 3.6l-3.6 3.6z" stroke="#111" stroke-width="1.4" fill="none"/>
<path d="M526.2 703.4l3.6 -3.6l3.6 3.6l-3.6 3.6z" stroke="#111" stroke-width="1.4" fill="none"/>
<path d="M535.7 700.7l3.6 -3.6l3.6 3.6l-3.6 3.6z" stroke="#111" stroke-width="1.4" fill="none"/>
<path d="M547 710.5l3.6 -3.6l3.6 3.6l-3.6 3.6z" stroke="#111" stroke-width="1.4" fill="none"/>
<path d="M554.8 701.6l3.6 -3.6l3.6 3.6l-3.6 3.6z" stroke="#111" stroke-width="1.4" fill="none"/>
<path d="M562.7 702.5l3.6 -3.6l3.6 3.6l-3.6 3.6z" stroke="#111" stroke-width="1.4" fill="none"/>
<path d="M567.9 687l3.6 -3.6l3.6 3.6l-3.6 3.6z" stroke="#111" stroke-width="1.4" fill="none"/>
<path d="M572.1 678.6l3.6 -3.6l3.6 3.6l-3.6 3.6z" stroke="#111" stroke-width="1.4" fill="none"/>
<path d="M580.9 680.1l3.6 -3.6l3.6 3.6l-3.6 3.6z" stroke="#111" stroke-width="1.4" fill="none"/>
<path d="M589.8 670.6l3.6 -3.6l3.6 3.6l-3.6 3.6z" stroke="#111" stroke-width="1.4" fill="none"/>
<path d="M597.1 669.1l3.6 -3.6l3.6 3.6l-3.6 3.6z" stroke="#111" stroke-width="1.4" fill="none"/>
<path d="M606.2 659.1l3.6 -3.6l3.6 3.6l-3.6 3.6z" stroke="#111" stroke-width="1.4" fill="none"/>
<path d="M614.6 657.8l3.6 -3.6l3.6 3.6l-3.6 3.6z" stroke="#111" stroke-width="1.4" fill="none"/>
<path d="M549.5 881.5l5.8 5.8M549.5 887.3l5.8 -5.8" stroke="#111" stroke-width="1.6" fill="none"/>
<path d="M556.4 881.5l5.8 5.8M556.4 887.3l5.8 -5.8" stroke="#111" stroke-width="1.6" fill="none"/>
<path d="M560.1 870.6l5.8 5.8M560.1 876.4l5.8 -5.8" stroke="#111" stroke-width="1.6" fill="none"/>
<path d="M567.4 870.6l5.8 5.8M567.4 876.4l5.8 -5.8" stroke="#111" stroke-width="1.6" fill="none"/>
<path d="M571.9 860.8l5.8 5.8M571.9 866.6l5.8 -5.8" stroke="#111" stroke-width="1.6" fill="none"/>
<path d="M577.4 857.5l5.8 5.8M577.4 863.3l5.8 -5.8" stroke="#111" stroke-width="1.6" fill="none"/>
<path d="M589.8 860.8l5.8 5.8M589.8 866.6l5.8 -5.8" stroke="#111" stroke-width="1.6" fill="none"/>
<path d="M598.7 863.5l5.8 5.8M598.7 869.3l5.8 -5.8" stroke="#111" stroke-width="1.6" fill="none"/>
<path d="M606 856.6l5.8 5.8M606 862.4l5.8 -5.8" stroke="#111" stroke-width="1.6" fill="none"/>
<path d="M612 854.4l5.8 5.8M612 860.2l5.8 -5.8" stroke="#111" stroke-width="1.6" fill="none"/>
<path d="M614.7 838.4l5.8 5.8M614.7 844.2l5.8 -5.8" stroke="#111" stroke-width="1.6" fill="none"/>
<path d="M620.7 834.7l5.8 5.8M620.7 840.5l5.8 -5.8" stroke="#111" stroke-width="1.6" fill="none"/>
<path d="M211 729.3l5.8 5.8M211 735.1l5.8 -5.8" stroke="#111" stroke-width="1.6" fill="none"/>
<path d="M267.3 614.2l5.8 5.8M267.3 620l5.8 -5.8" stroke="#111" stroke-width="1.6" fill="none"/>
<path d="M278 605l5.8 5.8M278 610.8l5.8 -5.8" stroke="#111" stroke-width="1.6" fill="none"/>
<path d="M289.4 596l5.8 5.8M289.4 601.8l5.8 -5.8" stroke="#111" stroke-width="1.6" fill="none"/>
<path d="M228.2 689.6l5.8 5.8M228.2 695.4l5.8 -5.8" stroke="#111" stroke-width="1.6" fill="none"/>
<path d="M190.5 884.1h7.2M194.1 880.5v7.2" stroke="#111" stroke-width="1.65" fill="none"/>
<path d="M190.5 879h7.2M194.1 875.4v7.2" stroke="#111" stroke-width="1.65" fill="none"/>
<path d="M192.9 873.3h7.2M196.5 869.7v7.2" stroke="#111" stroke-width="1.65" fill="none"/>
<path d="M192.1 866.3h7.2M195.7 862.7v7.2" stroke="#111" stroke-width="1.65" fill="none"/>
<path d="M190.5 856.3h7.2M194.1 852.7v7.2" stroke="#111" stroke-width="1.65" fill="none"/>
<path d="M190.5 851.6h7.2M194.1 848v7.2" stroke="#111" stroke-width="1.65" fill="none"/>
<path d="M188.2 839.3h7.2M191.8 835.7v7.2" stroke="#111" stroke-width="1.65" fill="none"/>
<path d="M189 834.6h7.2M192.6 831v7.2" stroke="#111" stroke-width="1.65" fill="none"/>
<path d="M188.7 822.7h7.2M192.3 819.1v7.2" stroke="#111" stroke-width="1.65" fill="none"/>
<path d="M189 817.6h7.2M192.6 814v7.2" stroke="#111" stroke-width="1.65" fill="none"/>
<path d="M191.8 810.6h7.2M195.4 807v7.2" stroke="#111" stroke-width="1.65" fill="none"/>
<path d="M192.9 806h7.2M196.5 802.4v7.2" stroke="#111" stroke-width="1.65" fill="none"/>
<path d="M191.8 795.2h7.2M195.4 791.6v7.2" stroke="#111" stroke-width="1.65" fill="none"/>
<path d="M193.9 791.3h7.2M197.5 787.7v7.2" stroke="#111" stroke-width="1.65" fill="none"/>
<path d="M199 785.9h7.2M202.6 782.3v7.2" stroke="#111" stroke-width="1.65" fill="none"/>
<path d="M199 778.9h7.2M202.6 775.3v7.2" stroke="#111" stroke-width="1.65" fill="none"/>
<path d="M199 768.9h7.2M202.6 765.3v7.2" stroke="#111" stroke-width="1.65" fill="none"/>
<path d="M200.1 761.9h7.2M203.7 758.3v7.2" stroke="#111" stroke-width="1.65" fill="none"/>
<path d="M199.5 749.6h7.2M203.1 746v7.2" stroke="#111" stroke-width="1.65" fill="none"/>
<path d="M201.4 745.7h7.2M205 742.1v7.2" stroke="#111" stroke-width="1.65" fill="none"/>
<path d="M205.7 737.6h7.2M209.3 734v7.2" stroke="#111" stroke-width="1.65" fill="none"/>
<path d="M209.1 733.3h7.2M212.7 729.7v7.2" stroke="#111" stroke-width="1.65" fill="none"/>
<path d="M211.9 731h7.2M215.5 727.4v7.2" stroke="#111" stroke-width="1.65" fill="none"/>
<path d="M214.2 720.9h7.2M217.8 717.3v7.2" stroke="#111" stroke-width="1.65" fill="none"/>
<path d="M215.6 714.4h7.2M219.2 710.8v7.2" stroke="#111" stroke-width="1.65" fill="none"/>
<path d="M221.8 709.3h7.2M225.4 705.7v7.2" stroke="#111" stroke-width="1.65" fill="none"/>
<path d="M221.5 700.8h7.2M225.1 697.2v7.2" stroke="#111" stroke-width="1.65" fill="none"/>
<path d="M226.9 693.9h7.2M230.5 690.3v7.2" stroke="#111" stroke-width="1.65" fill="none"/>
<path d="M232.6 685.2h7.2M236.2 681.6v7.2" stroke="#111" stroke-width="1.65" fill="none"/>
<path d="M237.2 676.3h7.2M240.8 672.7v7.2" stroke="#111" stroke-width="1.65" fill="none"/>
<path d="M238.2 669.2h7.2M241.8 665.6v7.2" stroke="#111" stroke-width="1.65" fill="none"/>
<path d="M240.2 657.6h7.2M243.8 654v7.2" stroke="#111" stroke-width="1.65" fill="none"/>
<path d="M244 652.8h7.2M247.6 649.2v7.2" stroke="#111" stroke-width="1.65" fill="none"/>
<path d="M248.4 645.7h7.2M252 642.1v7.2" stroke="#111" stroke-width="1.65" fill="none"/>
<path d="M252.1 640.9h7.2M255.7 637.3v7.2" stroke="#111" stroke-width="1.65" fill="none"/>
<path d="M252.5 626.5h7.2M256.1 622.9v7.2" stroke="#111" stroke-width="1.65" fill="none"/>
<path d="M258.1 623.9h7.2M261.7 620.3v7.2" stroke="#111" stroke-width="1.65" fill="none"/>
<path d="M264.6 619.3h7.2M268.2 615.7v7.2" stroke="#111" stroke-width="1.65" fill="none"/>
<path d="M268.6 615.1h7.2M272.2 611.5v7.2" stroke="#111" stroke-width="1.65" fill="none"/>
<path d="M276 610h7.2M279.6 606.4v7.2" stroke="#111" stroke-width="1.65" fill="none"/>
<path d="M279 605.7h7.2M282.6 602.1v7.2" stroke="#111" stroke-width="1.65" fill="none"/>
<path d="M287 600.6h7.2M290.6 597v7.2" stroke="#111" stroke-width="1.65" fill="none"/>
<path d="M290.8 597.2h7.2M294.4 593.6v7.2" stroke="#111" stroke-width="1.65" fill="none"/>
<path d="M299.3 593.3h7.2M302.9 589.7v7.2" stroke="#111" stroke-width="1.65" fill="none"/>
<path d="M303.2 590.4h7.2M306.8 586.8v7.2" stroke="#111" stroke-width="1.65" fill="none"/>
<path d="M309.1 589.2h7.2M312.7 585.6v7.2" stroke="#111" stroke-width="1.65" fill="none"/>
<path d="M314.7 581.6h7.2M318.3 578v7.2" stroke="#111" stroke-width="1.65" fill="none"/>
<path d="M321 583.3h7.2M324.6 579.7v7.2" stroke="#111" stroke-width="1.65" fill="none"/>
<path d="M324.4 571.3h7.2M328 567.7v7.2" stroke="#111" stroke-width="1.65" fill="none"/>
<path d="M332.4 577.1h7.2M336 573.5v7.2" stroke="#111" stroke-width="1.65" fill="none"/>
<path d="M338.4 569.1h7.2M342 565.5v7.2" stroke="#111" stroke-width="1.65" fill="none"/>
<path d="M343.2 569.1h7.2M346.8 565.5v7.2" stroke="#111" stroke-width="1.65" fill="none"/>
<path d="M349.6 561.8h7.2M353.2 558.2v7.2" stroke="#111" stroke-width="1.65" fill="none"/>
<path d="M355.9 564.9h7.2M359.5 561.3v7.2" stroke="#111" stroke-width="1.65" fill="none"/>
<path d="M364.4 563.2h7.2M368 559.6v7.2" stroke="#111" stroke-width="1.65" fill="none"/>
<path d="M369.5 563.2h7.2M373.1 559.6v7.2" stroke="#111" stroke-width="1.65" fill="none"/>
<path d="M377.2 561.1h7.2M380.8 557.5v7.2" stroke="#111" stroke-width="1.65" fill="none"/>
<path d="M379.7 551.6h7.2M383.3 548v7.2" stroke="#111" stroke-width="1.65" fill="none"/>
<path d="M387.1 555.5h7.2M390.7 551.9v7.2" stroke="#111" stroke-width="1.65" fill="none"/>
<path d="M396.8 557.6h7.2M400.4 554v7.2" stroke="#111" stroke-width="1.65" fill="none"/>
<path d="M403.6 560.1h7.2M407.2 556.5v7.2" stroke="#111" stroke-width="1.65" fill="none"/>
<path d="M412.1 561.5h7.2M415.7 557.9v7.2" stroke="#111" stroke-width="1.65" fill="none"/>
<path d="M422.3 572.5h7.2M425.9 568.9v7.2" stroke="#111" stroke-width="1.65" fill="none"/>
<path d="M426.9 561.1h7.2M430.5 557.5v7.2" stroke="#111" stroke-width="1.65" fill="none"/>
<path d="M435.9 571.3h7.2M439.5 567.7v7.2" stroke="#111" stroke-width="1.65" fill="none"/>
<path d="M446 573.3h7.2M449.6 569.7v7.2" stroke="#111" stroke-width="1.65" fill="none"/>
<path d="M455.7 582.3h7.2M459.3 578.7v7.2" stroke="#111" stroke-width="1.65" fill="none"/>
<path d="M460.6 571.1h7.2M464.2 567.5v7.2" stroke="#111" stroke-width="1.65" fill="none"/>
<path d="M467.6 571.9h7.2M471.2 568.3v7.2" stroke="#111" stroke-width="1.65" fill="none"/>
<path d="M477 571.7h7.2M480.6 568.1v7.2" stroke="#111" stroke-width="1.65" fill="none"/>
<path d="M484.6 574.3h7.2M488.2 570.7v7.2" stroke="#111" stroke-width="1.65" fill="none"/>
<path d="M494.8 573.5h7.2M498.4 569.9v7.2" stroke="#111" stroke-width="1.65" fill="none"/>
<path d="M501.7 572.2h7.2M505.3 568.6v7.2" stroke="#111" stroke-width="1.65" fill="none"/>
<path d="M509.3 575.1h7.2M512.9 571.5v7.2" stroke="#111" stroke-width="1.65" fill="none"/>
<path d="M518.4 571.1h7.2M522 567.5v7.2" stroke="#111" stroke-width="1.65" fill="none"/>
<path d="M526.8 572.2h7.2M530.4 568.6v7.2" stroke="#111" stroke-width="1.65" fill="none"/>
<path d="M534.6 564.1h7.2M538.2 560.5v7.2" stroke="#111" stroke-width="1.65" fill="none"/>
<path d="M546.3 572.5h7.2M549.9 568.9v7.2" stroke="#111" stroke-width="1.65" fill="none"/>
<path d="M553.3 559.7h7.2M556.9 556.1v7.2" stroke="#111" stroke-width="1.65" fill="none"/>
<path d="M562.1 559.2h7.2M565.7 555.6v7.2" stroke="#111" stroke-width="1.65" fill="none"/>
<path d="M571.5 552.7h7.2M575.1 549.1v7.2" stroke="#111" stroke-width="1.65" fill="none"/>
<path d="M578.3 545.1h7.2M581.9 541.5v7.2" stroke="#111" stroke-width="1.65" fill="none"/>
<path d="M588.6 538.1h7.2M592.2 534.5v7.2" stroke="#111" stroke-width="1.65" fill="none"/>
<path d="M594.7 529.2h7.2M598.3 525.6v7.2" stroke="#111" stroke-width="1.65" fill="none"/>
<path d="M598.8 503.2h7.2M602.4 499.6v7.2" stroke="#111" stroke-width="1.65" fill="none"/>
<path d="M611.3 512.6h7.2M614.9 509v7.2" stroke="#111" stroke-width="1.65" fill="none"/>
<path d="M621 500.7h7.2M624.6 497.1v7.2" stroke="#111" stroke-width="1.65" fill="none"/>
</g>
<line x1="346.3" x2="346.3" y1="481.7" y2="892.2" stroke="#111" stroke-width="2.4" stroke-dasharray="4.2 1.6"/>
<line x1="532.1" x2="532.1" y1="481.7" y2="892.2" stroke="#111" stroke-width="2.4" stroke-dasharray="4.2 1.6"/>
<text transform="translate(2.5 921.8) scale(1 1.08)" font-size="26.5" font-weight="bold" fill="#111">(c)</text>
<line x1="64.7" x2="627.4" y1="1284.7" y2="1284.7" stroke="#e2e2e2" stroke-width="1.0"/>
<line x1="64.7" x2="627.4" y1="1215.4" y2="1215.4" stroke="#e2e2e2" stroke-width="1.0"/>
<line x1="64.7" x2="627.4" y1="1146.2" y2="1146.2" stroke="#e2e2e2" stroke-width="1.0"/>
<line x1="64.7" x2="627.4" y1="1076.9" y2="1076.9" stroke="#e2e2e2" stroke-width="1.0"/>
<line x1="64.7" x2="627.4" y1="1007.6" y2="1007.6" stroke="#e2e2e2" stroke-width="1.0"/>
<line x1="158.5" x2="158.5" y1="938.3" y2="1354" stroke="#e2e2e2" stroke-width="1.0"/>
<line x1="252.3" x2="252.3" y1="938.3" y2="1354" stroke="#e2e2e2" stroke-width="1.0"/>
<line x1="346" x2="346" y1="938.3" y2="1354" stroke="#e2e2e2" stroke-width="1.0"/>
<line x1="439.8" x2="439.8" y1="938.3" y2="1354" stroke="#e2e2e2" stroke-width="1.0"/>
<line x1="533.6" x2="533.6" y1="938.3" y2="1354" stroke="#e2e2e2" stroke-width="1.0"/>
<rect x="64.7" y="938.3" width="562.7" height="415.7" fill="none" stroke="#b3b3b3" stroke-width="1.2"/>
<line x1="60.2" x2="64.7" y1="1354" y2="1354" stroke="#b3b3b3" stroke-width="1.1"/>
<text x="59.6" y="1358.2" font-size="11.9" text-anchor="end" font-weight="normal" fill="#1a1a1a" >0.25</text>
<line x1="62.7" x2="64.7" y1="1319.4" y2="1319.4" stroke="#b3b3b3" stroke-width="1"/>
<line x1="60.2" x2="64.7" y1="1284.7" y2="1284.7" stroke="#b3b3b3" stroke-width="1.1"/>
<text x="59.6" y="1288.9" font-size="11.9" text-anchor="end" font-weight="normal" fill="#1a1a1a" >0.3</text>
<line x1="62.7" x2="64.7" y1="1250.1" y2="1250.1" stroke="#b3b3b3" stroke-width="1"/>
<line x1="60.2" x2="64.7" y1="1215.4" y2="1215.4" stroke="#b3b3b3" stroke-width="1.1"/>
<text x="59.6" y="1219.6" font-size="11.9" text-anchor="end" font-weight="normal" fill="#1a1a1a" >0.35</text>
<line x1="62.7" x2="64.7" y1="1180.8" y2="1180.8" stroke="#b3b3b3" stroke-width="1"/>
<line x1="60.2" x2="64.7" y1="1146.2" y2="1146.2" stroke="#b3b3b3" stroke-width="1.1"/>
<text x="59.6" y="1150.4" font-size="11.9" text-anchor="end" font-weight="normal" fill="#1a1a1a" >0.4</text>
<line x1="62.7" x2="64.7" y1="1111.5" y2="1111.5" stroke="#b3b3b3" stroke-width="1"/>
<line x1="60.2" x2="64.7" y1="1076.9" y2="1076.9" stroke="#b3b3b3" stroke-width="1.1"/>
<text x="59.6" y="1081.1" font-size="11.9" text-anchor="end" font-weight="normal" fill="#1a1a1a" >0.45</text>
<line x1="62.7" x2="64.7" y1="1042.2" y2="1042.2" stroke="#b3b3b3" stroke-width="1"/>
<line x1="60.2" x2="64.7" y1="1007.6" y2="1007.6" stroke="#b3b3b3" stroke-width="1.1"/>
<text x="59.6" y="1011.8" font-size="11.9" text-anchor="end" font-weight="normal" fill="#1a1a1a" >0.5</text>
<line x1="62.7" x2="64.7" y1="972.9" y2="972.9" stroke="#b3b3b3" stroke-width="1"/>
<line x1="60.2" x2="64.7" y1="938.3" y2="938.3" stroke="#b3b3b3" stroke-width="1.1"/>
<text x="59.6" y="942.5" font-size="11.9" text-anchor="end" font-weight="normal" fill="#1a1a1a" >0.55</text>
<line x1="64.7" x2="64.7" y1="1354" y2="1358" stroke="#b3b3b3" stroke-width="1.1"/>
<text x="64.5" y="1370.6" font-size="11.5" text-anchor="middle" font-weight="normal" fill="#1a1a1a" >0.2</text>
<line x1="111.6" x2="111.6" y1="1354" y2="1356" stroke="#b3b3b3" stroke-width="1"/>
<line x1="158.5" x2="158.5" y1="1354" y2="1358" stroke="#b3b3b3" stroke-width="1.1"/>
<text x="158.3" y="1370.6" font-size="11.5" text-anchor="middle" font-weight="normal" fill="#1a1a1a" >0.3</text>
<line x1="205.4" x2="205.4" y1="1354" y2="1356" stroke="#b3b3b3" stroke-width="1"/>
<line x1="252.3" x2="252.3" y1="1354" y2="1358" stroke="#b3b3b3" stroke-width="1.1"/>
<text x="252.1" y="1370.6" font-size="11.5" text-anchor="middle" font-weight="normal" fill="#1a1a1a" >0.4</text>
<line x1="299.2" x2="299.2" y1="1354" y2="1356" stroke="#b3b3b3" stroke-width="1"/>
<line x1="346" x2="346" y1="1354" y2="1358" stroke="#b3b3b3" stroke-width="1.1"/>
<text x="345.8" y="1370.6" font-size="11.5" text-anchor="middle" font-weight="normal" fill="#1a1a1a" >0.5</text>
<line x1="392.9" x2="392.9" y1="1354" y2="1356" stroke="#b3b3b3" stroke-width="1"/>
<line x1="439.8" x2="439.8" y1="1354" y2="1358" stroke="#b3b3b3" stroke-width="1.1"/>
<text x="439.6" y="1370.6" font-size="11.5" text-anchor="middle" font-weight="normal" fill="#1a1a1a" >0.6</text>
<line x1="486.7" x2="486.7" y1="1354" y2="1356" stroke="#b3b3b3" stroke-width="1"/>
<line x1="533.6" x2="533.6" y1="1354" y2="1358" stroke="#b3b3b3" stroke-width="1.1"/>
<text x="533.4" y="1370.6" font-size="11.5" text-anchor="middle" font-weight="normal" fill="#1a1a1a" >0.7</text>
<line x1="580.5" x2="580.5" y1="1354" y2="1356" stroke="#b3b3b3" stroke-width="1"/>
<line x1="627.4" x2="627.4" y1="1354" y2="1358" stroke="#b3b3b3" stroke-width="1.1"/>
<text x="627.2" y="1370.6" font-size="11.5" text-anchor="middle" font-weight="normal" fill="#1a1a1a" >0.8</text>
<text transform="translate(25.8 1144.2) rotate(-90)" font-size="18.2" text-anchor="middle" fill="#111">ΔE (eV)</text>
<text transform="translate(341.6 1393.6) scale(1.11 1)" font-size="16.5" text-anchor="middle" fill="#111">ΔC<tspan font-size="9.3" dy="3.5">N</tspan><tspan dy="-3.5"> /ΔC</tspan><tspan font-size="9.3" dy="3.5">M</tspan></text>
<clipPath id="clipe"><rect x="65.3" y="938.9" width="561.5" height="414.5"/></clipPath>
<rect x="66.5" y="942.9" width="58" height="77.1" fill="#f6f6f6"/>
<text x="71.2" y="955.2" font-size="10.3" text-anchor="start" font-weight="bold" fill="#111" >tD (s)</text>
<circle cx="74.6" cy="966.9" r="3.2" fill="none" stroke="#111" stroke-width="1.5"/>
<text x="86.2" y="970.7" font-size="10.3" text-anchor="start" font-weight="normal" fill="#1a1a1a" >0.0005</text>
<path d="M70.7 981.6h7.8M74.6 977.8v7.8" stroke="#111" stroke-width="1.8" fill="none"/>
<text x="86.2" y="985.4" font-size="10.3" text-anchor="start" font-weight="normal" fill="#1a1a1a" >0.001</text>
<path d="M70.6 996.4l4 -4l4 4l-4 4z" stroke="#111" stroke-width="1.5" fill="none"/>
<text x="86.2" y="1000.2" font-size="10.3" text-anchor="start" font-weight="normal" fill="#1a1a1a" >0.002</text>
<path d="M71.3 1007.9l6.6 6.6M71.3 1014.4l6.6 -6.6" stroke="#111" stroke-width="1.9" fill="none"/>
<text x="86.2" y="1014.9" font-size="10.3" text-anchor="start" font-weight="normal" fill="#1a1a1a" >0.005</text>
<g clip-path="url(#clipe)">
<circle cx="169.9" cy="1238.1" r="3.25" fill="none" stroke="#2a2a2a" stroke-width="1.0"/>
<circle cx="171" cy="1235.2" r="3.25" fill="none" stroke="#2a2a2a" stroke-width="1.0"/>
<circle cx="172.1" cy="1233.2" r="3.25" fill="none" stroke="#2a2a2a" stroke-width="1.0"/>
<circle cx="171.5" cy="1229.6" r="3.25" fill="none" stroke="#2a2a2a" stroke-width="1.0"/>
<circle cx="178.2" cy="1233" r="3.25" fill="none" stroke="#2a2a2a" stroke-width="1.0"/>
<circle cx="185.6" cy="1233" r="3.25" fill="none" stroke="#2a2a2a" stroke-width="1.0"/>
<circle cx="189.4" cy="1233" r="3.25" fill="none" stroke="#2a2a2a" stroke-width="1.0"/>
<circle cx="188.3" cy="1228.7" r="3.25" fill="none" stroke="#2a2a2a" stroke-width="1.0"/>
<circle cx="189.4" cy="1225.3" r="3.25" fill="none" stroke="#2a2a2a" stroke-width="1.0"/>
<circle cx="197.5" cy="1220.2" r="3.25" fill="none" stroke="#2a2a2a" stroke-width="1.0"/>
<circle cx="201.7" cy="1226.9" r="3.25" fill="none" stroke="#2a2a2a" stroke-width="1.0"/>
<circle cx="202.9" cy="1221.3" r="3.25" fill="none" stroke="#2a2a2a" stroke-width="1.0"/>
<circle cx="206.9" cy="1220.2" r="3.25" fill="none" stroke="#2a2a2a" stroke-width="1.0"/>
<circle cx="204.2" cy="1214.6" r="3.25" fill="none" stroke="#2a2a2a" stroke-width="1.0"/>
<circle cx="204.7" cy="1211.9" r="3.25" fill="none" stroke="#2a2a2a" stroke-width="1.0"/>
<circle cx="213" cy="1214.1" r="3.25" fill="none" stroke="#2a2a2a" stroke-width="1.0"/>
<circle cx="207.6" cy="1235.2" r="3.25" fill="none" stroke="#2a2a2a" stroke-width="1.0"/>
<circle cx="224.2" cy="1220.2" r="3.25" fill="none" stroke="#2a2a2a" stroke-width="1.0"/>
<circle cx="224.2" cy="1213.4" r="3.25" fill="none" stroke="#2a2a2a" stroke-width="1.0"/>
<circle cx="223.7" cy="1209" r="3.25" fill="none" stroke="#2a2a2a" stroke-width="1.0"/>
<circle cx="226.4" cy="1206" r="3.25" fill="none" stroke="#2a2a2a" stroke-width="1.0"/>
<circle cx="229.3" cy="1204" r="3.25" fill="none" stroke="#2a2a2a" stroke-width="1.0"/>
<circle cx="235.6" cy="1207.8" r="3.25" fill="none" stroke="#2a2a2a" stroke-width="1.0"/>
<circle cx="233.4" cy="1224.2" r="3.25" fill="none" stroke="#2a2a2a" stroke-width="1.0"/>
<circle cx="242.8" cy="1209" r="3.25" fill="none" stroke="#2a2a2a" stroke-width="1.0"/>
<circle cx="248.4" cy="1207.4" r="3.25" fill="none" stroke="#2a2a2a" stroke-width="1.0"/>
<circle cx="249.5" cy="1211.2" r="3.25" fill="none" stroke="#2a2a2a" stroke-width="1.0"/>
<circle cx="255.8" cy="1207.4" r="3.25" fill="none" stroke="#2a2a2a" stroke-width="1.0"/>
<circle cx="267" cy="1213.4" r="3.25" fill="none" stroke="#2a2a2a" stroke-width="1.0"/>
<circle cx="286.5" cy="1215.7" r="3.25" fill="none" stroke="#2a2a2a" stroke-width="1.0"/>
<circle cx="285.4" cy="1217.9" r="3.25" fill="none" stroke="#2a2a2a" stroke-width="1.0"/>
<circle cx="293.3" cy="1220.2" r="3.25" fill="none" stroke="#2a2a2a" stroke-width="1.0"/>
<circle cx="280.9" cy="1224.7" r="3.25" fill="none" stroke="#2a2a2a" stroke-width="1.0"/>
<circle cx="286.1" cy="1224.7" r="3.25" fill="none" stroke="#2a2a2a" stroke-width="1.0"/>
<circle cx="306.7" cy="1196.6" r="3.25" fill="none" stroke="#2a2a2a" stroke-width="1.0"/>
<circle cx="312.3" cy="1209" r="3.25" fill="none" stroke="#2a2a2a" stroke-width="1.0"/>
<circle cx="317.3" cy="1216.8" r="3.25" fill="none" stroke="#2a2a2a" stroke-width="1.0"/>
<circle cx="325.1" cy="1213.4" r="3.25" fill="none" stroke="#2a2a2a" stroke-width="1.0"/>
<circle cx="320.2" cy="1225.3" r="3.25" fill="none" stroke="#2a2a2a" stroke-width="1.0"/>
<circle cx="307.4" cy="1228" r="3.25" fill="none" stroke="#2a2a2a" stroke-width="1.0"/>
<circle cx="316.4" cy="1235.2" r="3.25" fill="none" stroke="#2a2a2a" stroke-width="1.0"/>
<circle cx="321.3" cy="1235.9" r="3.25" fill="none" stroke="#2a2a2a" stroke-width="1.0"/>
<circle cx="321.3" cy="1230.7" r="3.25" fill="none" stroke="#2a2a2a" stroke-width="1.0"/>
<circle cx="347.1" cy="1229.6" r="3.25" fill="none" stroke="#2a2a2a" stroke-width="1.0"/>
<circle cx="360.6" cy="1229.6" r="3.25" fill="none" stroke="#2a2a2a" stroke-width="1.0"/>
<circle cx="360.2" cy="1233.6" r="3.25" fill="none" stroke="#2a2a2a" stroke-width="1.0"/>
<circle cx="366.5" cy="1230.9" r="3.25" fill="none" stroke="#2a2a2a" stroke-width="1.0"/>
<circle cx="361.8" cy="1241.9" r="3.25" fill="none" stroke="#2a2a2a" stroke-width="1.0"/>
<circle cx="378.6" cy="1237.7" r="3.25" fill="none" stroke="#2a2a2a" stroke-width="1.0"/>
<circle cx="386.7" cy="1239.2" r="3.25" fill="none" stroke="#2a2a2a" stroke-width="1.0"/>
<circle cx="394.3" cy="1241.5" r="3.25" fill="none" stroke="#2a2a2a" stroke-width="1.0"/>
<circle cx="397.6" cy="1240.4" r="3.25" fill="none" stroke="#2a2a2a" stroke-width="1.0"/>
<circle cx="389.8" cy="1228" r="3.25" fill="none" stroke="#2a2a2a" stroke-width="1.0"/>
<circle cx="397.9" cy="1230.9" r="3.25" fill="none" stroke="#2a2a2a" stroke-width="1.0"/>
<circle cx="398.8" cy="1225.1" r="3.25" fill="none" stroke="#2a2a2a" stroke-width="1.0"/>
<circle cx="403.9" cy="1225.3" r="3.25" fill="none" stroke="#2a2a2a" stroke-width="1.0"/>
<circle cx="402.8" cy="1216.8" r="3.25" fill="none" stroke="#2a2a2a" stroke-width="1.0"/>
<circle cx="408.4" cy="1216.8" r="3.25" fill="none" stroke="#2a2a2a" stroke-width="1.0"/>
<circle cx="417.8" cy="1218.6" r="3.25" fill="none" stroke="#2a2a2a" stroke-width="1.0"/>
<circle cx="430.4" cy="1222.9" r="3.25" fill="none" stroke="#2a2a2a" stroke-width="1.0"/>
<circle cx="442" cy="1222.9" r="3.25" fill="none" stroke="#2a2a2a" stroke-width="1.0"/>
<circle cx="446.5" cy="1221.3" r="3.25" fill="none" stroke="#2a2a2a" stroke-width="1.0"/>
<circle cx="446.5" cy="1216.8" r="3.25" fill="none" stroke="#2a2a2a" stroke-width="1.0"/>
<circle cx="453.7" cy="1213.4" r="3.25" fill="none" stroke="#2a2a2a" stroke-width="1.0"/>
<circle cx="459.3" cy="1211.7" r="3.25" fill="none" stroke="#2a2a2a" stroke-width="1.0"/>
<circle cx="470.5" cy="1210.1" r="3.25" fill="none" stroke="#2a2a2a" stroke-width="1.0"/>
<circle cx="477.5" cy="1208.5" r="3.25" fill="none" stroke="#2a2a2a" stroke-width="1.0"/>
<circle cx="484.7" cy="1204.5" r="3.25" fill="none" stroke="#2a2a2a" stroke-width="1.0"/>
<circle cx="483.1" cy="1197.7" r="3.25" fill="none" stroke="#2a2a2a" stroke-width="1.0"/>
<circle cx="486.9" cy="1192.1" r="3.25" fill="none" stroke="#2a2a2a" stroke-width="1.0"/>
<circle cx="492.1" cy="1189.9" r="3.25" fill="none" stroke="#2a2a2a" stroke-width="1.0"/>
<circle cx="504.2" cy="1184.7" r="3.25" fill="none" stroke="#2a2a2a" stroke-width="1.0"/>
<circle cx="521.7" cy="1188.3" r="3.25" fill="none" stroke="#2a2a2a" stroke-width="1.0"/>
<circle cx="535.8" cy="1185" r="3.25" fill="none" stroke="#2a2a2a" stroke-width="1.0"/>
<circle cx="540.3" cy="1182.5" r="3.25" fill="none" stroke="#2a2a2a" stroke-width="1.0"/>
<circle cx="536.2" cy="1171.3" r="3.25" fill="none" stroke="#2a2a2a" stroke-width="1.0"/>
<circle cx="540.1" cy="1167.5" r="3.25" fill="none" stroke="#2a2a2a" stroke-width="1.0"/>
<circle cx="536.2" cy="1160.1" r="3.25" fill="none" stroke="#2a2a2a" stroke-width="1.0"/>
<circle cx="548.6" cy="1157.8" r="3.25" fill="none" stroke="#2a2a2a" stroke-width="1.0"/>
<circle cx="556" cy="1155.1" r="3.25" fill="none" stroke="#2a2a2a" stroke-width="1.0"/>
<circle cx="565" cy="1152.2" r="3.25" fill="none" stroke="#2a2a2a" stroke-width="1.0"/>
<circle cx="569.4" cy="1149.1" r="3.25" fill="none" stroke="#2a2a2a" stroke-width="1.0"/>
<circle cx="582.7" cy="1150.6" r="3.25" fill="none" stroke="#2a2a2a" stroke-width="1.0"/>
<circle cx="595.2" cy="1157.8" r="3.25" fill="none" stroke="#2a2a2a" stroke-width="1.0"/>
<circle cx="596.8" cy="1147.3" r="3.25" fill="none" stroke="#2a2a2a" stroke-width="1.0"/>
<circle cx="592.3" cy="1134.9" r="3.25" fill="none" stroke="#2a2a2a" stroke-width="1.0"/>
<circle cx="593.4" cy="1125.5" r="3.25" fill="none" stroke="#2a2a2a" stroke-width="1.0"/>
<circle cx="600.2" cy="1127.1" r="3.25" fill="none" stroke="#2a2a2a" stroke-width="1.0"/>
<circle cx="606.5" cy="1123.7" r="3.25" fill="none" stroke="#2a2a2a" stroke-width="1.0"/>
<circle cx="615.9" cy="1131.6" r="3.25" fill="none" stroke="#2a2a2a" stroke-width="1.0"/>
<path d="M213.3 1228.5l3.7 -3.7l3.7 3.7l-3.7 3.7z" stroke="#111" stroke-width="1.4" fill="none"/>
<path d="M215.5 1233.2l3.7 -3.7l3.7 3.7l-3.7 3.7z" stroke="#111" stroke-width="1.4" fill="none"/>
<path d="M221.8 1231.8l3.7 -3.7l3.7 3.7l-3.7 3.7z" stroke="#111" stroke-width="1.4" fill="none"/>
<path d="M230.1 1234.3l3.7 -3.7l3.7 3.7l-3.7 3.7z" stroke="#111" stroke-width="1.4" fill="none"/>
<path d="M239.1 1238.1l3.7 -3.7l3.7 3.7l-3.7 3.7z" stroke="#111" stroke-width="1.4" fill="none"/>
<path d="M243.6 1238.1l3.7 -3.7l3.7 3.7l-3.7 3.7z" stroke="#111" stroke-width="1.4" fill="none"/>
<path d="M222.7 1243.7l3.7 -3.7l3.7 3.7l-3.7 3.7z" stroke="#111" stroke-width="1.4" fill="none"/>
<path d="M221.6 1249.3l3.7 -3.7l3.7 3.7l-3.7 3.7z" stroke="#111" stroke-width="1.4" fill="none"/>
<path d="M226.8 1249.3l3.7 -3.7l3.7 3.7l-3.7 3.7z" stroke="#111" stroke-width="1.4" fill="none"/>
<path d="M241.3 1216.1l3.7 -3.7l3.7 3.7l-3.7 3.7z" stroke="#111" stroke-width="1.4" fill="none"/>
<path d="M246.5 1216.1l3.7 -3.7l3.7 3.7l-3.7 3.7z" stroke="#111" stroke-width="1.4" fill="none"/>
<path d="M259.7 1202.9l3.7 -3.7l3.7 3.7l-3.7 3.7z" stroke="#111" stroke-width="1.4" fill="none"/>
<path d="M266.7 1206.3l3.7 -3.7l3.7 3.7l-3.7 3.7z" stroke="#111" stroke-width="1.4" fill="none"/>
<path d="M272.1 1202.9l3.7 -3.7l3.7 3.7l-3.7 3.7z" stroke="#111" stroke-width="1.4" fill="none"/>
<path d="M273.2 1196.6l3.7 -3.7l3.7 3.7l-3.7 3.7z" stroke="#111" stroke-width="1.4" fill="none"/>
<path d="M279.5 1201.6l3.7 -3.7l3.7 3.7l-3.7 3.7z" stroke="#111" stroke-width="1.4" fill="none"/>
<path d="M268.2 1216.1l3.7 -3.7l3.7 3.7l-3.7 3.7z" stroke="#111" stroke-width="1.4" fill="none"/>
<path d="M278.8 1213.9l3.7 -3.7l3.7 3.7l-3.7 3.7z" stroke="#111" stroke-width="1.4" fill="none"/>
<path d="M265.6 1229.8l3.7 -3.7l3.7 3.7l-3.7 3.7z" stroke="#111" stroke-width="1.4" fill="none"/>
<path d="M262.2 1239.7l3.7 -3.7l3.7 3.7l-3.7 3.7z" stroke="#111" stroke-width="1.4" fill="none"/>
<path d="M260 1249.3l3.7 -3.7l3.7 3.7l-3.7 3.7z" stroke="#111" stroke-width="1.4" fill="none"/>
<path d="M269.4 1250.9l3.7 -3.7l3.7 3.7l-3.7 3.7z" stroke="#111" stroke-width="1.4" fill="none"/>
<path d="M274.5 1259.4l3.7 -3.7l3.7 3.7l-3.7 3.7z" stroke="#111" stroke-width="1.4" fill="none"/>
<path d="M280.6 1240.8l3.7 -3.7l3.7 3.7l-3.7 3.7z" stroke="#111" stroke-width="1.4" fill="none"/>
<path d="M287.3 1239.7l3.7 -3.7l3.7 3.7l-3.7 3.7z" stroke="#111" stroke-width="1.4" fill="none"/>
<path d="M290 1247.5l3.7 -3.7l3.7 3.7l-3.7 3.7z" stroke="#111" stroke-width="1.4" fill="none"/>
<path d="M291.8 1173.1l3.7 -3.7l3.7 3.7l-3.7 3.7z" stroke="#111" stroke-width="1.4" fill="none"/>
<path d="M296.7 1173.1l3.7 -3.7l3.7 3.7l-3.7 3.7z" stroke="#111" stroke-width="1.4" fill="none"/>
<path d="M299 1165.2l3.7 -3.7l3.7 3.7l-3.7 3.7z" stroke="#111" stroke-width="1.4" fill="none"/>
<path d="M300.8 1170.4l3.7 -3.7l3.7 3.7l-3.7 3.7z" stroke="#111" stroke-width="1.4" fill="none"/>
<path d="M293.6 1185.4l3.7 -3.7l3.7 3.7l-3.7 3.7z" stroke="#111" stroke-width="1.4" fill="none"/>
<path d="M297 1185.4l3.7 -3.7l3.7 3.7l-3.7 3.7z" stroke="#111" stroke-width="1.4" fill="none"/>
<path d="M298.1 1196.6l3.7 -3.7l3.7 3.7l-3.7 3.7z" stroke="#111" stroke-width="1.4" fill="none"/>
<path d="M301.2 1217.5l3.7 -3.7l3.7 3.7l-3.7 3.7z" stroke="#111" stroke-width="1.4" fill="none"/>
<path d="M308.2 1212.3l3.7 -3.7l3.7 3.7l-3.7 3.7z" stroke="#111" stroke-width="1.4" fill="none"/>
<path d="M311.3 1224.7l3.7 -3.7l3.7 3.7l-3.7 3.7z" stroke="#111" stroke-width="1.4" fill="none"/>
<path d="M321 1229.8l3.7 -3.7l3.7 3.7l-3.7 3.7z" stroke="#111" stroke-width="1.4" fill="none"/>
<path d="M313.1 1174.9l3.7 -3.7l3.7 3.7l-3.7 3.7z" stroke="#111" stroke-width="1.4" fill="none"/>
<path d="M324.8 1182.7l3.7 -3.7l3.7 3.7l-3.7 3.7z" stroke="#111" stroke-width="1.4" fill="none"/>
<path d="M330.6 1183.2l3.7 -3.7l3.7 3.7l-3.7 3.7z" stroke="#111" stroke-width="1.4" fill="none"/>
<path d="M336.7 1183.8l3.7 -3.7l3.7 3.7l-3.7 3.7z" stroke="#111" stroke-width="1.4" fill="none"/>
<path d="M338.9 1180.9l3.7 -3.7l3.7 3.7l-3.7 3.7z" stroke="#111" stroke-width="1.4" fill="none"/>
<path d="M337.8 1172.6l3.7 -3.7l3.7 3.7l-3.7 3.7z" stroke="#111" stroke-width="1.4" fill="none"/>
<path d="M337.1 1169.7l3.7 -3.7l3.7 3.7l-3.7 3.7z" stroke="#111" stroke-width="1.4" fill="none"/>
<path d="M344.5 1164.1l3.7 -3.7l3.7 3.7l-3.7 3.7z" stroke="#111" stroke-width="1.4" fill="none"/>
<path d="M344.8 1170.4l3.7 -3.7l3.7 3.7l-3.7 3.7z" stroke="#111" stroke-width="1.4" fill="none"/>
<path d="M349.8 1161.9l3.7 -3.7l3.7 3.7l-3.7 3.7z" stroke="#111" stroke-width="1.4" fill="none"/>
<path d="M350.2 1159.6l3.7 -3.7l3.7 3.7l-3.7 3.7z" stroke="#111" stroke-width="1.4" fill="none"/>
<path d="M354.9 1155.6l3.7 -3.7l3.7 3.7l-3.7 3.7z" stroke="#111" stroke-width="1.4" fill="none"/>
<path d="M367 1155.6l3.7 -3.7l3.7 3.7l-3.7 3.7z" stroke="#111" stroke-width="1.4" fill="none"/>
<path d="M374 1170.4l3.7 -3.7l3.7 3.7l-3.7 3.7z" stroke="#111" stroke-width="1.4" fill="none"/>
<path d="M384.5 1167.9l3.7 -3.7l3.7 3.7l-3.7 3.7z" stroke="#111" stroke-width="1.4" fill="none"/>
<path d="M392.4 1166.3l3.7 -3.7l3.7 3.7l-3.7 3.7z" stroke="#111" stroke-width="1.4" fill="none"/>
<path d="M404.3 1171.5l3.7 -3.7l3.7 3.7l-3.7 3.7z" stroke="#111" stroke-width="1.4" fill="none"/>
<path d="M413.2 1165.2l3.7 -3.7l3.7 3.7l-3.7 3.7z" stroke="#111" stroke-width="1.4" fill="none"/>
<path d="M412.6 1158.9l3.7 -3.7l3.7 3.7l-3.7 3.7z" stroke="#111" stroke-width="1.4" fill="none"/>
<path d="M416.4 1152.9l3.7 -3.7l3.7 3.7l-3.7 3.7z" stroke="#111" stroke-width="1.4" fill="none"/>
<path d="M421.5 1151.3l3.7 -3.7l3.7 3.7l-3.7 3.7z" stroke="#111" stroke-width="1.4" fill="none"/>
<path d="M418.6 1174.6l3.7 -3.7l3.7 3.7l-3.7 3.7z" stroke="#111" stroke-width="1.4" fill="none"/>
<path d="M432.7 1149.5l3.7 -3.7l3.7 3.7l-3.7 3.7z" stroke="#111" stroke-width="1.4" fill="none"/>
<path d="M441.3 1149.5l3.7 -3.7l3.7 3.7l-3.7 3.7z" stroke="#111" stroke-width="1.4" fill="none"/>
<path d="M452.3 1146.6l3.7 -3.7l3.7 3.7l-3.7 3.7z" stroke="#111" stroke-width="1.4" fill="none"/>
<path d="M459.2 1144.6l3.7 -3.7l3.7 3.7l-3.7 3.7z" stroke="#111" stroke-width="1.4" fill="none"/>
<path d="M459.7 1134.9l3.7 -3.7l3.7 3.7l-3.7 3.7z" stroke="#111" stroke-width="1.4" fill="none"/>
<path d="M450 1122.2l3.7 -3.7l3.7 3.7l-3.7 3.7z" stroke="#111" stroke-width="1.4" fill="none"/>
<path d="M443.3 1111.4l3.7 -3.7l3.7 3.7l-3.7 3.7z" stroke="#111" stroke-width="1.4" fill="none"/>
<path d="M455.6 1108.5l3.7 -3.7l3.7 3.7l-3.7 3.7z" stroke="#111" stroke-width="1.4" fill="none"/>
<path d="M460.3 1104l3.7 -3.7l3.7 3.7l-3.7 3.7z" stroke="#111" stroke-width="1.4" fill="none"/>
<path d="M473.8 1100.2l3.7 -3.7l3.7 3.7l-3.7 3.7z" stroke="#111" stroke-width="1.4" fill="none"/>
<path d="M472 1090.8l3.7 -3.7l3.7 3.7l-3.7 3.7z" stroke="#111" stroke-width="1.4" fill="none"/>
<path d="M486.6 1088.3l3.7 -3.7l3.7 3.7l-3.7 3.7z" stroke="#111" stroke-width="1.4" fill="none"/>
<path d="M507.2 1090.5l3.7 -3.7l3.7 3.7l-3.7 3.7z" stroke="#111" stroke-width="1.4" fill="none"/>
<path d="M517.5 1083.4l3.7 -3.7l3.7 3.7l-3.7 3.7z" stroke="#111" stroke-width="1.4" fill="none"/>
<path d="M523.6 1080l3.7 -3.7l3.7 3.7l-3.7 3.7z" stroke="#111" stroke-width="1.4" fill="none"/>
<path d="M584 964.4l3.7 -3.7l3.7 3.7l-3.7 3.7z" stroke="#111" stroke-width="1.4" fill="none"/>
<path d="M577.7 967.9l3.7 -3.7l3.7 3.7l-3.7 3.7z" stroke="#111" stroke-width="1.4" fill="none"/>
<path d="M600 967.9l3.7 -3.7l3.7 3.7l-3.7 3.7z" stroke="#111" stroke-width="1.4" fill="none"/>
<path d="M575.6 983.4l3.7 -3.7l3.7 3.7l-3.7 3.7z" stroke="#111" stroke-width="1.4" fill="none"/>
<path d="M621.3 1000.5l3.7 -3.7l3.7 3.7l-3.7 3.7z" stroke="#111" stroke-width="1.4" fill="none"/>
<path d="M545.4 1005.8l3.7 -3.7l3.7 3.7l-3.7 3.7z" stroke="#111" stroke-width="1.4" fill="none"/>
<path d="M560.8 1008.5l3.7 -3.7l3.7 3.7l-3.7 3.7z" stroke="#111" stroke-width="1.4" fill="none"/>
<path d="M572 1008.5l3.7 -3.7l3.7 3.7l-3.7 3.7z" stroke="#111" stroke-width="1.4" fill="none"/>
<path d="M584.9 1007l3.7 -3.7l3.7 3.7l-3.7 3.7z" stroke="#111" stroke-width="1.4" fill="none"/>
<path d="M530.1 1011.5l3.7 -3.7l3.7 3.7l-3.7 3.7z" stroke="#111" stroke-width="1.4" fill="none"/>
<path d="M532.4 1022.5l3.7 -3.7l3.7 3.7l-3.7 3.7z" stroke="#111" stroke-width="1.4" fill="none"/>
<path d="M528.3 1034.3l3.7 -3.7l3.7 3.7l-3.7 3.7z" stroke="#111" stroke-width="1.4" fill="none"/>
<path d="M535.9 1048.5l3.7 -3.7l3.7 3.7l-3.7 3.7z" stroke="#111" stroke-width="1.4" fill="none"/>
<path d="M532.4 1059.5l3.7 -3.7l3.7 3.7l-3.7 3.7z" stroke="#111" stroke-width="1.4" fill="none"/>
<path d="M532.7 1069.3l3.7 -3.7l3.7 3.7l-3.7 3.7z" stroke="#111" stroke-width="1.4" fill="none"/>
<path d="M327.7 1334.9l6 6M327.7 1340.9l6 -6" stroke="#111" stroke-width="1.4" fill="none"/>
<path d="M333.3 1347.3l6 6M333.3 1353.3l6 -6" stroke="#111" stroke-width="1.4" fill="none"/>
<path d="M612.9 1094.3l6 6M612.9 1100.3l6 -6" stroke="#111" stroke-width="1.4" fill="none"/>
<path d="M602.1 1102.3l6 6M602.1 1108.3l6 -6" stroke="#111" stroke-width="1.4" fill="none"/>
<path d="M597.2 1110.2l6 6M597.2 1116.2l6 -6" stroke="#111" stroke-width="1.4" fill="none"/>
<path d="M594.9 1116.9l6 6M594.9 1122.9l6 -6" stroke="#111" stroke-width="1.4" fill="none"/>
<path d="M583 1113.3l6 6M583 1119.3l6 -6" stroke="#111" stroke-width="1.4" fill="none"/>
<path d="M617.4 1116.7l6 6M617.4 1122.7l6 -6" stroke="#111" stroke-width="1.4" fill="none"/>
<path d="M560.2 1100.5l6 6M560.2 1106.5l6 -6" stroke="#111" stroke-width="1.4" fill="none"/>
<path d="M529.2 1094.3l6 6M529.2 1100.3l6 -6" stroke="#111" stroke-width="1.4" fill="none"/>
<path d="M524.3 1099.4l6 6M524.3 1105.4l6 -6" stroke="#111" stroke-width="1.4" fill="none"/>
<path d="M526.1 1113.3l6 6M526.1 1119.3l6 -6" stroke="#111" stroke-width="1.4" fill="none"/>
<path d="M519.3 1117.8l6 6M519.3 1123.8l6 -6" stroke="#111" stroke-width="1.4" fill="none"/>
<path d="M525 1131.5l6 6M525 1137.5l6 -6" stroke="#111" stroke-width="1.4" fill="none"/>
<path d="M494.7 1124.5l6 6M494.7 1130.5l6 -6" stroke="#111" stroke-width="1.4" fill="none"/>
<path d="M494.7 1135.8l6 6M494.7 1141.8l6 -6" stroke="#111" stroke-width="1.4" fill="none"/>
<path d="M517.5 1154.4l6 6M517.5 1160.4l6 -6" stroke="#111" stroke-width="1.4" fill="none"/>
<path d="M509.7 1160.7l6 6M509.7 1166.7l6 -6" stroke="#111" stroke-width="1.4" fill="none"/>
<path d="M504.8 1165.1l6 6M504.8 1171.1l6 -6" stroke="#111" stroke-width="1.4" fill="none"/>
<path d="M515.3 1175.7l6 6M515.3 1181.7l6 -6" stroke="#111" stroke-width="1.4" fill="none"/>
<path d="M502.3 1179.7l6 6M502.3 1185.7l6 -6" stroke="#111" stroke-width="1.4" fill="none"/>
<path d="M490 1179.7l6 6M490 1185.7l6 -6" stroke="#111" stroke-width="1.4" fill="none"/>
<path d="M482.8 1186.2l6 6M482.8 1192.2l6 -6" stroke="#111" stroke-width="1.4" fill="none"/>
<path d="M483.5 1190.3l6 6M483.5 1196.3l6 -6" stroke="#111" stroke-width="1.4" fill="none"/>
<path d="M470 1200.4l6 6M470 1206.4l6 -6" stroke="#111" stroke-width="1.4" fill="none"/>
<path d="M494 1206.4l6 6M494 1212.4l6 -6" stroke="#111" stroke-width="1.4" fill="none"/>
<path d="M476.7 1212.7l6 6M476.7 1218.7l6 -6" stroke="#111" stroke-width="1.4" fill="none"/>
<path d="M459.2 1210.9l6 6M459.2 1216.9l6 -6" stroke="#111" stroke-width="1.4" fill="none"/>
<path d="M455.4 1216.1l6 6M455.4 1222.1l6 -6" stroke="#111" stroke-width="1.4" fill="none"/>
<path d="M451.4 1218.3l6 6M451.4 1224.3l6 -6" stroke="#111" stroke-width="1.4" fill="none"/>
<path d="M440.6 1218.3l6 6M440.6 1224.3l6 -6" stroke="#111" stroke-width="1.4" fill="none"/>
<path d="M438.6 1230.2l6 6M438.6 1236.2l6 -6" stroke="#111" stroke-width="1.4" fill="none"/>
<path d="M467.1 1239.6l6 6M467.1 1245.6l6 -6" stroke="#111" stroke-width="1.4" fill="none"/>
<path d="M436.4 1263.2l6 6M436.4 1269.2l6 -6" stroke="#111" stroke-width="1.4" fill="none"/>
<path d="M420 1224.4l6 6M420 1230.4l6 -6" stroke="#111" stroke-width="1.4" fill="none"/>
<path d="M407.2 1239.6l6 6M407.2 1245.6l6 -6" stroke="#111" stroke-width="1.4" fill="none"/>
<path d="M411.7 1253.7l6 6M411.7 1259.7l6 -6" stroke="#111" stroke-width="1.4" fill="none"/>
<path d="M403.2 1263.2l6 6M403.2 1269.2l6 -6" stroke="#111" stroke-width="1.4" fill="none"/>
<path d="M390.8 1249.3l6 6M390.8 1255.3l6 -6" stroke="#111" stroke-width="1.4" fill="none"/>
<path d="M392.6 1257.1l6 6M392.6 1263.1l6 -6" stroke="#111" stroke-width="1.4" fill="none"/>
<path d="M379.2 1232.9l6 6M379.2 1238.9l6 -6" stroke="#111" stroke-width="1.4" fill="none"/>
<path d="M383 1211.6l6 6M383 1217.6l6 -6" stroke="#111" stroke-width="1.4" fill="none"/>
<path d="M388.6 1212.7l6 6M388.6 1218.7l6 -6" stroke="#111" stroke-width="1.4" fill="none"/>
<path d="M399.1 1213.8l6 6M399.1 1219.8l6 -6" stroke="#111" stroke-width="1.4" fill="none"/>
<path d="M373.6 1271l6 6M373.6 1277l6 -6" stroke="#111" stroke-width="1.4" fill="none"/>
<path d="M377.4 1279.5l6 6M377.4 1285.5l6 -6" stroke="#111" stroke-width="1.4" fill="none"/>
<path d="M378.5 1285.1l6 6M378.5 1291.1l6 -6" stroke="#111" stroke-width="1.4" fill="none"/>
<path d="M371.1 1288.3l6 6M371.1 1294.3l6 -6" stroke="#111" stroke-width="1.4" fill="none"/>
<path d="M364.4 1290.5l6 6M364.4 1296.5l6 -6" stroke="#111" stroke-width="1.4" fill="none"/>
<path d="M360.1 1283.8l6 6M360.1 1289.8l6 -6" stroke="#111" stroke-width="1.4" fill="none"/>
<path d="M383 1293.4l6 6M383 1299.4l6 -6" stroke="#111" stroke-width="1.4" fill="none"/>
<path d="M399.8 1289.6l6 6M399.8 1295.6l6 -6" stroke="#111" stroke-width="1.4" fill="none"/>
<path d="M406.5 1288.3l6 6M406.5 1294.3l6 -6" stroke="#111" stroke-width="1.4" fill="none"/>
<path d="M415.1 1281.1l6 6M415.1 1287.1l6 -6" stroke="#111" stroke-width="1.4" fill="none"/>
<path d="M418.4 1292.3l6 6M418.4 1298.3l6 -6" stroke="#111" stroke-width="1.4" fill="none"/>
<path d="M430.1 1293.4l6 6M430.1 1299.4l6 -6" stroke="#111" stroke-width="1.4" fill="none"/>
<path d="M354.5 1299.5l6 6M354.5 1305.5l6 -6" stroke="#111" stroke-width="1.4" fill="none"/>
<path d="M351.6 1300.6l6 6M351.6 1306.6l6 -6" stroke="#111" stroke-width="1.4" fill="none"/>
<path d="M372.4 1303.1l6 6M372.4 1309.1l6 -6" stroke="#111" stroke-width="1.4" fill="none"/>
<path d="M340.4 1278.9l6 6M340.4 1284.9l6 -6" stroke="#111" stroke-width="1.4" fill="none"/>
<path d="M339.7 1283.3l6 6M339.7 1289.3l6 -6" stroke="#111" stroke-width="1.4" fill="none"/>
<path d="M348.2 1326.4l6 6M348.2 1332.4l6 -6" stroke="#111" stroke-width="1.4" fill="none"/>
<path d="M360.5 1323l6 6M360.5 1329l6 -6" stroke="#111" stroke-width="1.4" fill="none"/>
<path d="M359.4 1330l6 6M359.4 1336l6 -6" stroke="#111" stroke-width="1.4" fill="none"/>
<path d="M356.1 1331.6l6 6M356.1 1337.6l6 -6" stroke="#111" stroke-width="1.4" fill="none"/>
<path d="M353.8 1334.9l6 6M353.8 1340.9l6 -6" stroke="#111" stroke-width="1.4" fill="none"/>
<path d="M353.8 1338.3l6 6M353.8 1344.3l6 -6" stroke="#111" stroke-width="1.4" fill="none"/>
<path d="M353.8 1341.2l6 6M353.8 1347.2l6 -6" stroke="#111" stroke-width="1.4" fill="none"/>
<path d="M378 1326l6 6M378 1332l6 -6" stroke="#111" stroke-width="1.4" fill="none"/>
<path d="M379.6 1330l6 6M379.6 1336l6 -6" stroke="#111" stroke-width="1.4" fill="none"/>
<path d="M376.2 1331.1l6 6M376.2 1337.1l6 -6" stroke="#111" stroke-width="1.4" fill="none"/>
<path d="M374.7 1337.6l6 6M374.7 1343.6l6 -6" stroke="#111" stroke-width="1.4" fill="none"/>
<path d="M345.5 1347.3l6 6M345.5 1353.3l6 -6" stroke="#111" stroke-width="1.4" fill="none"/>
<path d="M360.5 1349.5l6 6M360.5 1355.5l6 -6" stroke="#111" stroke-width="1.4" fill="none"/>
<path d="M481.2 1089.3l6 6M481.2 1095.3l6 -6" stroke="#111" stroke-width="1.4" fill="none"/>
<path d="M602.5 1001l6 6M602.5 1007l6 -6" stroke="#111" stroke-width="1.4" fill="none"/>
<path d="M566.9 1013.8l6 6M566.9 1019.8l6 -6" stroke="#111" stroke-width="1.4" fill="none"/>
<path d="M586.4 1007.6l6 6M586.4 1013.6l6 -6" stroke="#111" stroke-width="1.4" fill="none"/>
<path d="M581.6 1040.2l6 6M581.6 1046.2l6 -6" stroke="#111" stroke-width="1.4" fill="none"/>
<path d="M242.3 1103.1h6.8M245.7 1099.7v6.8" stroke="#111" stroke-width="1.5" fill="none"/>
<path d="M247.2 1112.5h6.8M250.6 1109.1v6.8" stroke="#111" stroke-width="1.5" fill="none"/>
<path d="M244.6 1115.4h6.8M248 1112v6.8" stroke="#111" stroke-width="1.5" fill="none"/>
<path d="M238.7 1120.8h6.8M242.1 1117.4v6.8" stroke="#111" stroke-width="1.5" fill="none"/>
<path d="M255.8 1112.5h6.8M259.2 1109.1v6.8" stroke="#111" stroke-width="1.5" fill="none"/>
<path d="M249.9 1128.2h6.8M253.3 1124.8v6.8" stroke="#111" stroke-width="1.5" fill="none"/>
<path d="M272.6 1120.4h6.8M276 1117v6.8" stroke="#111" stroke-width="1.5" fill="none"/>
<path d="M271.2 1124.2h6.8M274.6 1120.8v6.8" stroke="#111" stroke-width="1.5" fill="none"/>
<path d="M281.6 1117.5h6.8M285 1114.1v6.8" stroke="#111" stroke-width="1.5" fill="none"/>
<path d="M291.7 1118.8h6.8M295.1 1115.4v6.8" stroke="#111" stroke-width="1.5" fill="none"/>
<path d="M289.2 1121.9h6.8M292.6 1118.5v6.8" stroke="#111" stroke-width="1.5" fill="none"/>
<path d="M286.9 1131.6h6.8M290.3 1128.2v6.8" stroke="#111" stroke-width="1.5" fill="none"/>
<path d="M301.5 1124.2h6.8M304.9 1120.8v6.8" stroke="#111" stroke-width="1.5" fill="none"/>
<path d="M310.7 1109.2h6.8M314.1 1105.8v6.8" stroke="#111" stroke-width="1.5" fill="none"/>
<path d="M314.5 1108h6.8M317.9 1104.6v6.8" stroke="#111" stroke-width="1.5" fill="none"/>
<path d="M320.1 1107.6h6.8M323.5 1104.2v6.8" stroke="#111" stroke-width="1.5" fill="none"/>
<path d="M321.3 1104.2h6.8M324.7 1100.8v6.8" stroke="#111" stroke-width="1.5" fill="none"/>
<path d="M322.4 1090.5h6.8M325.8 1087.1v6.8" stroke="#111" stroke-width="1.5" fill="none"/>
<path d="M317.2 1123.3h6.8M320.6 1119.9v6.8" stroke="#111" stroke-width="1.5" fill="none"/>
<path d="M319.5 1133.8h6.8M322.9 1130.4v6.8" stroke="#111" stroke-width="1.5" fill="none"/>
<path d="M318.3 1138.3h6.8M321.7 1134.9v6.8" stroke="#111" stroke-width="1.5" fill="none"/>
<path d="M334.3 1112.5h6.8M337.7 1109.1v6.8" stroke="#111" stroke-width="1.5" fill="none"/>
<path d="M344.8 1111h6.8M348.2 1107.6v6.8" stroke="#111" stroke-width="1.5" fill="none"/>
<path d="M359 1123.1h6.8M362.4 1119.7v6.8" stroke="#111" stroke-width="1.5" fill="none"/>
<path d="M371.4 1121.5h6.8M374.8 1118.1v6.8" stroke="#111" stroke-width="1.5" fill="none"/>
<path d="M377.6 1118.6h6.8M381 1115.2v6.8" stroke="#111" stroke-width="1.5" fill="none"/>
<path d="M374.7 1131.6h6.8M378.1 1128.2v6.8" stroke="#111" stroke-width="1.5" fill="none"/>
<path d="M387.5 1123.1h6.8M390.9 1119.7v6.8" stroke="#111" stroke-width="1.5" fill="none"/>
<path d="M402.1 1128.2h6.8M405.5 1124.8v6.8" stroke="#111" stroke-width="1.5" fill="none"/>
<path d="M415.8 1134.9h6.8M419.2 1131.5v6.8" stroke="#111" stroke-width="1.5" fill="none"/>
<path d="M425.6 1136.5h6.8M429 1133.1v6.8" stroke="#111" stroke-width="1.5" fill="none"/>
<path d="M433.5 1110.7h6.8M436.9 1107.3v6.8" stroke="#111" stroke-width="1.5" fill="none"/>
<path d="M435.3 1093.9h6.8M438.7 1090.5v6.8" stroke="#111" stroke-width="1.5" fill="none"/>
<path d="M443.6 1108.5h6.8M447 1105.1v6.8" stroke="#111" stroke-width="1.5" fill="none"/>
<path d="M444.9 1123.7h6.8M448.3 1120.3v6.8" stroke="#111" stroke-width="1.5" fill="none"/>
<path d="M442 1133.2h6.8M445.4 1129.8v6.8" stroke="#111" stroke-width="1.5" fill="none"/>
<path d="M438.2 1137.2h6.8M441.6 1133.8v6.8" stroke="#111" stroke-width="1.5" fill="none"/>
<path d="M456.1 1096.4h6.8M459.5 1093v6.8" stroke="#111" stroke-width="1.5" fill="none"/>
<path d="M487.3 1081.1h6.8M490.7 1077.7v6.8" stroke="#111" stroke-width="1.5" fill="none"/>
<path d="M470.9 1097.9h6.8M474.3 1094.5v6.8" stroke="#111" stroke-width="1.5" fill="none"/>
<path d="M488.2 1090.3h6.8M491.6 1086.9v6.8" stroke="#111" stroke-width="1.5" fill="none"/>
<path d="M617.2 938.6h6.8M620.6 935.2v6.8" stroke="#111" stroke-width="1.5" fill="none"/>
<path d="M615.4 947.1h6.8M618.8 943.7v6.8" stroke="#111" stroke-width="1.5" fill="none"/>
<path d="M618.4 975h6.8M621.8 971.6v6.8" stroke="#111" stroke-width="1.5" fill="none"/>
<path d="M607.9 983h6.8M611.3 979.6v6.8" stroke="#111" stroke-width="1.5" fill="none"/>
<path d="M599.4 980h6.8M602.8 976.6v6.8" stroke="#111" stroke-width="1.5" fill="none"/>
<path d="M591 984.5h6.8M594.4 981.1v6.8" stroke="#111" stroke-width="1.5" fill="none"/>
<path d="M583.4 987.5h6.8M586.8 984.1v6.8" stroke="#111" stroke-width="1.5" fill="none"/>
<path d="M576.8 1004.7h6.8M580.2 1001.3v6.8" stroke="#111" stroke-width="1.5" fill="none"/>
<path d="M579.8 1018.6h6.8M583.2 1015.2v6.8" stroke="#111" stroke-width="1.5" fill="none"/>
<path d="M598 1017.7h6.8M601.4 1014.3v6.8" stroke="#111" stroke-width="1.5" fill="none"/>
<path d="M573.2 1027.5h6.8M576.6 1024.1v6.8" stroke="#111" stroke-width="1.5" fill="none"/>
<path d="M554.6 1019.1h6.8M558 1015.7v6.8" stroke="#111" stroke-width="1.5" fill="none"/>
<path d="M547.4 1028.7h6.8M550.8 1025.3v6.8" stroke="#111" stroke-width="1.5" fill="none"/>
<path d="M531.3 1027h6.8M534.7 1023.6v6.8" stroke="#111" stroke-width="1.5" fill="none"/>
<path d="M529.1 1039.9h6.8M532.5 1036.5v6.8" stroke="#111" stroke-width="1.5" fill="none"/>
<path d="M522 1045.8h6.8M525.4 1042.4v6.8" stroke="#111" stroke-width="1.5" fill="none"/>
<path d="M509 1051h6.8M512.4 1047.6v6.8" stroke="#111" stroke-width="1.5" fill="none"/>
<path d="M501.5 1055.6h6.8M504.9 1052.2v6.8" stroke="#111" stroke-width="1.5" fill="none"/>
<path d="M502.4 1068.4h6.8M505.8 1065v6.8" stroke="#111" stroke-width="1.5" fill="none"/>
<path d="M500.3 1076.4h6.8M503.7 1073v6.8" stroke="#111" stroke-width="1.5" fill="none"/>
</g>
<line x1="251.6" x2="251.6" y1="939.3" y2="1358" stroke="#111" stroke-width="2.4" stroke-dasharray="4.2 1.6"/>
<line x1="439.8" x2="439.8" y1="939.3" y2="1358" stroke="#111" stroke-width="2.4" stroke-dasharray="4.2 1.6"/>
<text transform="translate(2.5 1390.8) scale(1 1.08)" font-size="26.5" font-weight="bold" fill="#111">(e)</text>
<line x1="732.7" x2="1271.6" y1="369.1" y2="369.1" stroke="#e2e2e2" stroke-width="1.0"/>
<line x1="732.7" x2="1271.6" y1="308.6" y2="308.6" stroke="#e2e2e2" stroke-width="1.0"/>
<line x1="732.7" x2="1271.6" y1="248.2" y2="248.2" stroke="#e2e2e2" stroke-width="1.0"/>
<line x1="732.7" x2="1271.6" y1="187.8" y2="187.8" stroke="#e2e2e2" stroke-width="1.0"/>
<line x1="732.7" x2="1271.6" y1="127.4" y2="127.4" stroke="#e2e2e2" stroke-width="1.0"/>
<line x1="732.7" x2="1271.6" y1="66.9" y2="66.9" stroke="#e2e2e2" stroke-width="1.0"/>
<rect x="732.7" y="6.5" width="538.9" height="423" fill="none" stroke="#b3b3b3" stroke-width="1.2"/>
<path d="M732.7 429.5V447.1H1271.6V429.5" fill="none" stroke="#b3b3b3" stroke-width="1.2"/>
<text x="777.6" y="441" font-size="9" text-anchor="middle" font-weight="normal" fill="#222" >0.0001</text>
<line x1="822.5" x2="822.5" y1="429.5" y2="447.1" stroke="#b3b3b3" stroke-width="1.1"/>
<text x="867.4" y="441" font-size="9" text-anchor="middle" font-weight="normal" fill="#222" >0.0002</text>
<line x1="912.3" x2="912.3" y1="429.5" y2="447.1" stroke="#b3b3b3" stroke-width="1.1"/>
<text x="957.2" y="441" font-size="9" text-anchor="middle" font-weight="normal" fill="#222" >0.0005</text>
<line x1="1002.1" x2="1002.1" y1="429.5" y2="447.1" stroke="#b3b3b3" stroke-width="1.1"/>
<text x="1047.1" y="441" font-size="9" text-anchor="middle" font-weight="normal" fill="#222" >0.001</text>
<line x1="1092" x2="1092" y1="429.5" y2="447.1" stroke="#b3b3b3" stroke-width="1.1"/>
<text x="1136.9" y="441" font-size="9" text-anchor="middle" font-weight="normal" fill="#222" >0.002</text>
<line x1="1181.8" x2="1181.8" y1="429.5" y2="447.1" stroke="#b3b3b3" stroke-width="1.1"/>
<text x="1226.7" y="441" font-size="9" text-anchor="middle" font-weight="normal" fill="#222" >0.005</text>
<line x1="728.2" x2="732.7" y1="429.5" y2="429.5" stroke="#b3b3b3" stroke-width="1.1"/>
<text x="726.8" y="433.7" font-size="11.9" text-anchor="end" font-weight="normal" fill="#1a1a1a" >0.24</text>
<line x1="730.7" x2="732.7" y1="399.3" y2="399.3" stroke="#b3b3b3" stroke-width="1"/>
<line x1="728.2" x2="732.7" y1="369.1" y2="369.1" stroke="#b3b3b3" stroke-width="1.1"/>
<text x="726.8" y="373.3" font-size="11.9" text-anchor="end" font-weight="normal" fill="#1a1a1a" >0.245</text>
<line x1="730.7" x2="732.7" y1="338.9" y2="338.9" stroke="#b3b3b3" stroke-width="1"/>
<line x1="728.2" x2="732.7" y1="308.6" y2="308.6" stroke="#b3b3b3" stroke-width="1.1"/>
<text x="726.8" y="312.8" font-size="11.9" text-anchor="end" font-weight="normal" fill="#1a1a1a" >0.25</text>
<line x1="730.7" x2="732.7" y1="278.4" y2="278.4" stroke="#b3b3b3" stroke-width="1"/>
<line x1="728.2" x2="732.7" y1="248.2" y2="248.2" stroke="#b3b3b3" stroke-width="1.1"/>
<text x="726.8" y="252.4" font-size="11.9" text-anchor="end" font-weight="normal" fill="#1a1a1a" >0.255</text>
<line x1="730.7" x2="732.7" y1="218" y2="218" stroke="#b3b3b3" stroke-width="1"/>
<line x1="728.2" x2="732.7" y1="187.8" y2="187.8" stroke="#b3b3b3" stroke-width="1.1"/>
<text x="726.8" y="192" font-size="11.9" text-anchor="end" font-weight="normal" fill="#1a1a1a" >0.26</text>
<line x1="730.7" x2="732.7" y1="157.6" y2="157.6" stroke="#b3b3b3" stroke-width="1"/>
<line x1="728.2" x2="732.7" y1="127.4" y2="127.4" stroke="#b3b3b3" stroke-width="1.1"/>
<text x="726.8" y="131.6" font-size="11.9" text-anchor="end" font-weight="normal" fill="#1a1a1a" >0.265</text>
<line x1="730.7" x2="732.7" y1="97.1" y2="97.1" stroke="#b3b3b3" stroke-width="1"/>
<line x1="728.2" x2="732.7" y1="66.9" y2="66.9" stroke="#b3b3b3" stroke-width="1.1"/>
<text x="726.8" y="71.1" font-size="11.9" text-anchor="end" font-weight="normal" fill="#1a1a1a" >0.27</text>
<line x1="730.7" x2="732.7" y1="36.7" y2="36.7" stroke="#b3b3b3" stroke-width="1"/>
<line x1="728.2" x2="732.7" y1="6.5" y2="6.5" stroke="#b3b3b3" stroke-width="1.1"/>
<text x="726.8" y="10.7" font-size="11.9" text-anchor="end" font-weight="normal" fill="#1a1a1a" >0.275</text>
<text transform="translate(688.1 216) rotate(-90)" font-size="18.2" text-anchor="middle" fill="#111">ΔE (eV)</text>
<text x="1276" y="447.3" font-size="16.5" fill="#111">t<tspan font-size="10" dx="1.6" dy="3.6">D</tspan></text>
<polyline points="777.6,192.8 867.5,208.2 957.3,387.3 1047.2,281.4 1137.1,166 1226.7,101" fill="none" stroke="#6fa0ee" stroke-width="1.2"/>
<g stroke="#ee6a7c" stroke-width="1.3" fill="none">
<rect x="759.8" y="164" width="35.6" height="52.2"/>
<path d="M759.8 202.3H795.4M777.6 164V138.6M777.6 216.2V234.7M759.8 138.6H795.4M759.8 234.7H795.4"/>
</g>
<line x1="772.8" x2="782.4" y1="192.8" y2="192.8" stroke="#222" stroke-width="1"/>
<circle cx="777.7" cy="138.9" r="3.2" fill="none" stroke="#2a2a2a" stroke-width="1.0"/>
<circle cx="778.9" cy="141.7" r="3.2" fill="none" stroke="#2a2a2a" stroke-width="1.0"/>
<circle cx="778.6" cy="150.5" r="3.2" fill="none" stroke="#2a2a2a" stroke-width="1.0"/>
<circle cx="793.5" cy="148" r="3.2" fill="none" stroke="#2a2a2a" stroke-width="1.0"/>
<circle cx="779.3" cy="164.4" r="3.2" fill="none" stroke="#2a2a2a" stroke-width="1.0"/>
<circle cx="763.3" cy="170.2" r="3.2" fill="none" stroke="#2a2a2a" stroke-width="1.0"/>
<circle cx="798.6" cy="180" r="3.2" fill="none" stroke="#2a2a2a" stroke-width="1.0"/>
<circle cx="777.7" cy="191.5" r="3.2" fill="none" stroke="#2a2a2a" stroke-width="1.0"/>
<circle cx="785.8" cy="195.6" r="3.2" fill="none" stroke="#2a2a2a" stroke-width="1.0"/>
<circle cx="768.4" cy="202.7" r="3.2" fill="none" stroke="#2a2a2a" stroke-width="1.0"/>
<circle cx="771.9" cy="204.4" r="3.2" fill="none" stroke="#2a2a2a" stroke-width="1.0"/>
<circle cx="757.3" cy="213.1" r="3.2" fill="none" stroke="#2a2a2a" stroke-width="1.0"/>
<circle cx="779.3" cy="210.6" r="3.2" fill="none" stroke="#2a2a2a" stroke-width="1.0"/>
<circle cx="777.7" cy="216.9" r="3.2" fill="none" stroke="#2a2a2a" stroke-width="1.0"/>
<circle cx="780.9" cy="224.8" r="3.2" fill="none" stroke="#2a2a2a" stroke-width="1.0"/>
<circle cx="776.8" cy="229.4" r="3.2" fill="none" stroke="#2a2a2a" stroke-width="1.0"/>
<circle cx="775.8" cy="231.5" r="3.2" fill="none" stroke="#2a2a2a" stroke-width="1.0"/>
<circle cx="768.4" cy="235.3" r="3.2" fill="none" stroke="#2a2a2a" stroke-width="1.0"/>
<g stroke="#ee6a7c" stroke-width="1.3" fill="none">
<rect x="849.7" y="201.6" width="35.6" height="14.6"/>
<path d="M849.7 207.8H885.3M867.5 201.6V185.3M867.5 216.2V232.5M849.7 185.3H885.3M849.7 232.5H885.3"/>
</g>
<line x1="862.7" x2="872.3" y1="208.2" y2="208.2" stroke="#222" stroke-width="1"/>
<path d="M863.8 185.3h7M867.3 181.8v7" stroke="#111" stroke-width="1.7" fill="none"/>
<path d="M867.6 194.2h7M871.1 190.7v7" stroke="#111" stroke-width="1.7" fill="none"/>
<path d="M863.1 198.8h7M866.6 195.3v7" stroke="#111" stroke-width="1.7" fill="none"/>
<path d="M865.1 203h7M868.6 199.5v7" stroke="#111" stroke-width="1.7" fill="none"/>
<path d="M864.4 206.4h7M867.9 202.9v7" stroke="#111" stroke-width="1.7" fill="none"/>
<path d="M859.6 207.1h7M863.1 203.6v7" stroke="#111" stroke-width="1.7" fill="none"/>
<path d="M867.2 209.2h7M870.7 205.7v7" stroke="#111" stroke-width="1.7" fill="none"/>
<path d="M874.2 204.6h7M877.7 201.1v7" stroke="#111" stroke-width="1.7" fill="none"/>
<path d="M877.7 203h7M881.2 199.5v7" stroke="#111" stroke-width="1.7" fill="none"/>
<path d="M885.7 207.8h7M889.2 204.3v7" stroke="#111" stroke-width="1.7" fill="none"/>
<path d="M877 213h7M880.5 209.5v7" stroke="#111" stroke-width="1.7" fill="none"/>
<path d="M880.2 219.2h7M883.7 215.7v7" stroke="#111" stroke-width="1.7" fill="none"/>
<path d="M860.3 212.7h7M863.8 209.2v7" stroke="#111" stroke-width="1.7" fill="none"/>
<path d="M855.4 217.6h7M858.9 214.1v7" stroke="#111" stroke-width="1.7" fill="none"/>
<path d="M844.5 224.3h7M848 220.8v7" stroke="#111" stroke-width="1.7" fill="none"/>
<path d="M867.2 232.6h7M870.7 229.1v7" stroke="#111" stroke-width="1.7" fill="none"/>
<path d="M863.8 241.7h7M867.3 238.2v7" stroke="#111" stroke-width="1.7" fill="none"/>
<path d="M862.4 205h7M865.9 201.5v7" stroke="#111" stroke-width="1.7" fill="none"/>
<path d="M865.8 200.9h7M869.3 197.4v7" stroke="#111" stroke-width="1.7" fill="none"/>
<g stroke="#ee6a7c" stroke-width="1.3" fill="none">
<rect x="939.4" y="385.5" width="35.8" height="9.7"/>
<path d="M939.4 388.3H975.2M957.3 385.5V382.9M957.3 395.2V406.6M939.4 382.9H975.2M939.4 406.6H975.2"/>
</g>
<line x1="952.5" x2="962.1" y1="387.3" y2="387.3" stroke="#222" stroke-width="1"/>
<path d="M947.4 359l3.5 -3.5l3.5 3.5l-3.5 3.5z" stroke="#111" stroke-width="1.4" fill="none"/>
<path d="M954.5 361.5l3.5 -3.5l3.5 3.5l-3.5 3.5z" stroke="#111" stroke-width="1.4" fill="none"/>
<path d="M953.6 384.5l3.5 -3.5l3.5 3.5l-3.5 3.5z" stroke="#111" stroke-width="1.4" fill="none"/>
<path d="M954 387.3l3.5 -3.5l3.5 3.5l-3.5 3.5z" stroke="#111" stroke-width="1.4" fill="none"/>
<path d="M954.2 389.2l3.5 -3.5l3.5 3.5l-3.5 3.5z" stroke="#111" stroke-width="1.4" fill="none"/>
<path d="M953.9 390.6l3.5 -3.5l3.5 3.5l-3.5 3.5z" stroke="#111" stroke-width="1.4" fill="none"/>
<path d="M952.2 388.3l3.5 -3.5l3.5 3.5l-3.5 3.5z" stroke="#111" stroke-width="1.4" fill="none"/>
<path d="M955.9 388.7l3.5 -3.5l3.5 3.5l-3.5 3.5z" stroke="#111" stroke-width="1.4" fill="none"/>
<path d="M953.1 386.4l3.5 -3.5l3.5 3.5l-3.5 3.5z" stroke="#111" stroke-width="1.4" fill="none"/>
<path d="M955 390.1l3.5 -3.5l3.5 3.5l-3.5 3.5z" stroke="#111" stroke-width="1.4" fill="none"/>
<path d="M942.9 391.5l3.5 -3.5l3.5 3.5l-3.5 3.5z" stroke="#111" stroke-width="1.4" fill="none"/>
<path d="M947.1 396.1l3.5 -3.5l3.5 3.5l-3.5 3.5z" stroke="#111" stroke-width="1.4" fill="none"/>
<path d="M966.1 388.3l3.5 -3.5l3.5 3.5l-3.5 3.5z" stroke="#111" stroke-width="1.4" fill="none"/>
<path d="M970.7 386.9l3.5 -3.5l3.5 3.5l-3.5 3.5z" stroke="#111" stroke-width="1.4" fill="none"/>
<path d="M960.5 397.5l3.5 -3.5l3.5 3.5l-3.5 3.5z" stroke="#111" stroke-width="1.4" fill="none"/>
<path d="M959.6 394.8l3.5 -3.5l3.5 3.5l-3.5 3.5z" stroke="#111" stroke-width="1.4" fill="none"/>
<path d="M975.7 398.7l3.5 -3.5l3.5 3.5l-3.5 3.5z" stroke="#111" stroke-width="1.4" fill="none"/>
<path d="M953.1 406.4l3.5 -3.5l3.5 3.5l-3.5 3.5z" stroke="#111" stroke-width="1.4" fill="none"/>
<path d="M956.4 408.2l3.5 -3.5l3.5 3.5l-3.5 3.5z" stroke="#111" stroke-width="1.4" fill="none"/>
<g stroke="#ee6a7c" stroke-width="1.3" fill="none">
<rect x="1029.4" y="262.9" width="35.6" height="34.5"/>
<path d="M1029.4 278.3H1065M1047.2 262.9V248.7M1047.2 297.4V330.8M1029.4 248.7H1065M1029.4 330.8H1065"/>
</g>
<line x1="1040.7" x2="1053.7" y1="281.4" y2="281.4" stroke="#222" stroke-width="1"/>
<path d="M1046.8 248.7l5 5M1046.8 253.7l5 -5" stroke="#111" stroke-width="1.7" fill="none"/>
<path d="M1060.1 247.3l5 5M1060.1 252.3l5 -5" stroke="#111" stroke-width="1.7" fill="none"/>
<path d="M1042 254.8l5 5M1042 259.8l5 -5" stroke="#111" stroke-width="1.7" fill="none"/>
<path d="M1060.8 257.3l5 5M1060.8 262.3l5 -5" stroke="#111" stroke-width="1.7" fill="none"/>
<path d="M1045.4 262.2l5 5M1045.4 267.2l5 -5" stroke="#111" stroke-width="1.7" fill="none"/>
<path d="M1066 265l5 5M1066 270l5 -5" stroke="#111" stroke-width="1.7" fill="none"/>
<path d="M1044.8 271.2l5 5M1044.8 276.2l5 -5" stroke="#111" stroke-width="1.7" fill="none"/>
<path d="M1048.2 271.9l5 5M1048.2 276.9l5 -5" stroke="#111" stroke-width="1.7" fill="none"/>
<path d="M1056.3 270.9l5 5M1056.3 275.9l5 -5" stroke="#111" stroke-width="1.7" fill="none"/>
<path d="M1031.9 281.2l5 5M1031.9 286.2l5 -5" stroke="#111" stroke-width="1.7" fill="none"/>
<path d="M1046.1 283.3l5 5M1046.1 288.3l5 -5" stroke="#111" stroke-width="1.7" fill="none"/>
<path d="M1040.6 292.5l5 5M1040.6 297.5l5 -5" stroke="#111" stroke-width="1.7" fill="none"/>
<path d="M1044.8 291.4l5 5M1044.8 296.4l5 -5" stroke="#111" stroke-width="1.7" fill="none"/>
<path d="M1046.1 294.9l5 5M1046.1 299.9l5 -5" stroke="#111" stroke-width="1.7" fill="none"/>
<path d="M1026 299.1l5 5M1026 304.1l5 -5" stroke="#111" stroke-width="1.7" fill="none"/>
<path d="M1053.4 301.2l5 5M1053.4 306.2l5 -5" stroke="#111" stroke-width="1.7" fill="none"/>
<path d="M1065.2 300.5l5 5M1065.2 305.5l5 -5" stroke="#111" stroke-width="1.7" fill="none"/>
<path d="M1044.5 329.4l5 5M1044.5 334.4l5 -5" stroke="#111" stroke-width="1.7" fill="none"/>
<g stroke="#ee6a7c" stroke-width="1.3" fill="none">
<rect x="1119.5" y="148.3" width="35.2" height="31.6"/>
<path d="M1119.5 170.4H1154.7M1137.1 148.3V107.1M1137.1 179.9V202.9M1119.5 107.1H1154.7M1119.5 202.9H1154.7"/>
</g>
<line x1="1130.6" x2="1143.6" y1="166" y2="166" stroke="#222" stroke-width="1"/>
<path d="M1132.8 111.3l3.7 -7l3.7 7z" stroke="#111" stroke-width="1.5" fill="none"/>
<path d="M1133.8 130.8l3.7 -7l3.7 7z" stroke="#111" stroke-width="1.5" fill="none"/>
<path d="M1133.5 142.4l3.7 -7l3.7 7z" stroke="#111" stroke-width="1.5" fill="none"/>
<path d="M1131.3 153.1l3.7 -7l3.7 7z" stroke="#111" stroke-width="1.5" fill="none"/>
<path d="M1133.1 163.5l3.7 -7l3.7 7z" stroke="#111" stroke-width="1.5" fill="none"/>
<path d="M1149.1 163.9l3.7 -7l3.7 7z" stroke="#111" stroke-width="1.5" fill="none"/>
<path d="M1113.2 171.2l3.7 -7l3.7 7z" stroke="#111" stroke-width="1.5" fill="none"/>
<path d="M1133.8 168.4l3.7 -7l3.7 7z" stroke="#111" stroke-width="1.5" fill="none"/>
<path d="M1115.7 177.4l3.7 -7l3.7 7z" stroke="#111" stroke-width="1.5" fill="none"/>
<path d="M1134.5 174.7l3.7 -7l3.7 7z" stroke="#111" stroke-width="1.5" fill="none"/>
<path d="M1128.2 179.5l3.7 -7l3.7 7z" stroke="#111" stroke-width="1.5" fill="none"/>
<path d="M1133.8 178.8l3.7 -7l3.7 7z" stroke="#111" stroke-width="1.5" fill="none"/>
<path d="M1118.4 184.4l3.7 -7l3.7 7z" stroke="#111" stroke-width="1.5" fill="none"/>
<path d="M1133.1 185.1l3.7 -7l3.7 7z" stroke="#111" stroke-width="1.5" fill="none"/>
<path d="M1135.8 187.9l3.7 -7l3.7 7z" stroke="#111" stroke-width="1.5" fill="none"/>
<path d="M1118 199l3.7 -7l3.7 7z" stroke="#111" stroke-width="1.5" fill="none"/>
<path d="M1137.9 198.3l3.7 -7l3.7 7z" stroke="#111" stroke-width="1.5" fill="none"/>
<path d="M1134.9 208.1l3.7 -7l3.7 7z" stroke="#111" stroke-width="1.5" fill="none"/>
<g stroke="#ee6a7c" stroke-width="1.3" fill="none">
<rect x="1208.8" y="84.3" width="35.8" height="38.1"/>
<path d="M1208.8 107.8H1244.6M1226.7 84.3V59.9M1226.7 122.4V124.6M1208.8 59.9H1244.6M1208.8 124.6H1244.6"/>
</g>
<line x1="1220.2" x2="1233.2" y1="101" y2="101" stroke="#222" stroke-width="1"/>
<path d="M1204.2 57.7L1207.1 60.6L1210 57.7M1207.1 60.6V64.4" stroke="#111" stroke-width="1.5" fill="none"/>
<path d="M1224.1 64.9L1227 67.8L1229.9 64.9M1227 67.8V71.6" stroke="#111" stroke-width="1.5" fill="none"/>
<path d="M1224.4 81.6L1227.3 84.5L1230.2 81.6M1227.3 84.5V88.3" stroke="#111" stroke-width="1.5" fill="none"/>
<path d="M1212.9 88.9L1215.8 91.8L1218.7 88.9M1215.8 91.8V95.6" stroke="#111" stroke-width="1.5" fill="none"/>
<path d="M1225 101.1L1227.9 104L1230.8 101.1M1227.9 104V107.8" stroke="#111" stroke-width="1.5" fill="none"/>
<path d="M1231.7 105.6L1234.6 108.5L1237.5 105.6M1234.6 108.5V112.3" stroke="#111" stroke-width="1.5" fill="none"/>
<path d="M1224.1 108.1L1227 111L1229.9 108.1M1227 111V114.8" stroke="#111" stroke-width="1.5" fill="none"/>
<path d="M1213.5 109.9L1216.4 112.8L1219.3 109.9M1216.4 112.8V116.6" stroke="#111" stroke-width="1.5" fill="none"/>
<path d="M1223.7 122L1226.6 124.9L1229.5 122M1226.6 124.9V128.7" stroke="#111" stroke-width="1.5" fill="none"/>
<path d="M1232.4 120.3L1235.3 123.2L1238.2 120.3M1235.3 123.2V127" stroke="#111" stroke-width="1.5" fill="none"/>
<path d="M1242.2 122.7L1245.1 125.6L1248 122.7M1245.1 125.6V129.4" stroke="#111" stroke-width="1.5" fill="none"/>
<text transform="translate(664 457.3) scale(1 1.08)" font-size="26.5" font-weight="bold" fill="#111">(b)</text>
<line x1="733.5" x2="1272.2" y1="836.6" y2="836.6" stroke="#e2e2e2" stroke-width="1.0"/>
<line x1="733.5" x2="1272.2" y1="776.1" y2="776.1" stroke="#e2e2e2" stroke-width="1.0"/>
<line x1="733.5" x2="1272.2" y1="715.6" y2="715.6" stroke="#e2e2e2" stroke-width="1.0"/>
<line x1="733.5" x2="1272.2" y1="655.2" y2="655.2" stroke="#e2e2e2" stroke-width="1.0"/>
<line x1="733.5" x2="1272.2" y1="594.7" y2="594.7" stroke="#e2e2e2" stroke-width="1.0"/>
<line x1="733.5" x2="1272.2" y1="534.2" y2="534.2" stroke="#e2e2e2" stroke-width="1.0"/>
<rect x="733.5" y="473.7" width="538.7" height="423.4" fill="none" stroke="#b3b3b3" stroke-width="1.2"/>
<path d="M733.5 897.1V914.4H1272.2V897.1" fill="none" stroke="#b3b3b3" stroke-width="1.2"/>
<text x="823.3" y="908.6" font-size="9" text-anchor="middle" font-weight="normal" fill="#222" >0.0001</text>
<line x1="913.1" x2="913.1" y1="897.1" y2="914.4" stroke="#b3b3b3" stroke-width="1.1"/>
<text x="1002.9" y="908.6" font-size="9" text-anchor="middle" font-weight="normal" fill="#222" >0.0002</text>
<line x1="1092.6" x2="1092.6" y1="897.1" y2="914.4" stroke="#b3b3b3" stroke-width="1.1"/>
<text x="1182.4" y="908.6" font-size="9" text-anchor="middle" font-weight="normal" fill="#222" >0.0005</text>
<line x1="729" x2="733.5" y1="897.1" y2="897.1" stroke="#b3b3b3" stroke-width="1.1"/>
<text x="727.6" y="901.3" font-size="11.9" text-anchor="end" font-weight="normal" fill="#1a1a1a" >0.48</text>
<line x1="731.5" x2="733.5" y1="866.9" y2="866.9" stroke="#b3b3b3" stroke-width="1"/>
<line x1="729" x2="733.5" y1="836.6" y2="836.6" stroke="#b3b3b3" stroke-width="1.1"/>
<text x="727.6" y="840.8" font-size="11.9" text-anchor="end" font-weight="normal" fill="#1a1a1a" >0.5</text>
<line x1="731.5" x2="733.5" y1="806.4" y2="806.4" stroke="#b3b3b3" stroke-width="1"/>
<line x1="729" x2="733.5" y1="776.1" y2="776.1" stroke="#b3b3b3" stroke-width="1.1"/>
<text x="727.6" y="780.3" font-size="11.9" text-anchor="end" font-weight="normal" fill="#1a1a1a" >0.52</text>
<line x1="731.5" x2="733.5" y1="745.9" y2="745.9" stroke="#b3b3b3" stroke-width="1"/>
<line x1="729" x2="733.5" y1="715.6" y2="715.6" stroke="#b3b3b3" stroke-width="1.1"/>
<text x="727.6" y="719.8" font-size="11.9" text-anchor="end" font-weight="normal" fill="#1a1a1a" >0.54</text>
<line x1="731.5" x2="733.5" y1="685.4" y2="685.4" stroke="#b3b3b3" stroke-width="1"/>
<line x1="729" x2="733.5" y1="655.2" y2="655.2" stroke="#b3b3b3" stroke-width="1.1"/>
<text x="727.6" y="659.4" font-size="11.9" text-anchor="end" font-weight="normal" fill="#1a1a1a" >0.56</text>
<line x1="731.5" x2="733.5" y1="624.9" y2="624.9" stroke="#b3b3b3" stroke-width="1"/>
<line x1="729" x2="733.5" y1="594.7" y2="594.7" stroke="#b3b3b3" stroke-width="1.1"/>
<text x="727.6" y="598.9" font-size="11.9" text-anchor="end" font-weight="normal" fill="#1a1a1a" >0.58</text>
<line x1="731.5" x2="733.5" y1="564.4" y2="564.4" stroke="#b3b3b3" stroke-width="1"/>
<line x1="729" x2="733.5" y1="534.2" y2="534.2" stroke="#b3b3b3" stroke-width="1.1"/>
<text x="727.6" y="538.4" font-size="11.9" text-anchor="end" font-weight="normal" fill="#1a1a1a" >0.6</text>
<line x1="731.5" x2="733.5" y1="503.9" y2="503.9" stroke="#b3b3b3" stroke-width="1"/>
<line x1="729" x2="733.5" y1="473.7" y2="473.7" stroke="#b3b3b3" stroke-width="1.1"/>
<text x="727.6" y="477.9" font-size="11.9" text-anchor="end" font-weight="normal" fill="#1a1a1a" >0.62</text>
<text transform="translate(694.4 683.4) rotate(-90)" font-size="18.2" text-anchor="middle" fill="#111">ΔE (eV)</text>
<text x="1276.6" y="914.9" font-size="16.5" fill="#111">t<tspan font-size="10" dx="1.6" dy="3.6">D</tspan></text>
<polyline points="823.3,697.2 1002.7,544.1 1182.2,805.6" fill="none" stroke="#6fa0ee" stroke-width="1.2"/>
<g stroke="#ee6a7c" stroke-width="1.3" fill="none">
<rect x="787.8" y="690.2" width="71" height="13.3"/>
<path d="M787.8 696.4H858.8M823.3 690.2V671.8M823.3 703.5V714.6M787.8 671.8H858.8M787.8 714.6H858.8"/>
</g>
<line x1="810.3" x2="836.3" y1="697.2" y2="697.2" stroke="#222" stroke-width="1"/>
<circle cx="824.4" cy="672.1" r="3.2" fill="none" stroke="#2a2a2a" stroke-width="1.0"/>
<circle cx="823.3" cy="679.9" r="3.2" fill="none" stroke="#2a2a2a" stroke-width="1.0"/>
<circle cx="822.8" cy="682.1" r="3.2" fill="none" stroke="#2a2a2a" stroke-width="1.0"/>
<circle cx="822.3" cy="683.7" r="3.2" fill="none" stroke="#2a2a2a" stroke-width="1.0"/>
<circle cx="821.7" cy="685.3" r="3.2" fill="none" stroke="#2a2a2a" stroke-width="1.0"/>
<circle cx="782.2" cy="690.7" r="3.2" fill="none" stroke="#2a2a2a" stroke-width="1.0"/>
<circle cx="843.9" cy="691.5" r="3.2" fill="none" stroke="#2a2a2a" stroke-width="1.0"/>
<circle cx="816.8" cy="690.2" r="3.2" fill="none" stroke="#2a2a2a" stroke-width="1.0"/>
<circle cx="813.6" cy="693.4" r="3.2" fill="none" stroke="#2a2a2a" stroke-width="1.0"/>
<circle cx="819.6" cy="692.9" r="3.2" fill="none" stroke="#2a2a2a" stroke-width="1.0"/>
<circle cx="825" cy="694" r="3.2" fill="none" stroke="#2a2a2a" stroke-width="1.0"/>
<circle cx="830.4" cy="694.5" r="3.2" fill="none" stroke="#2a2a2a" stroke-width="1.0"/>
<circle cx="831.5" cy="697.2" r="3.2" fill="none" stroke="#2a2a2a" stroke-width="1.0"/>
<circle cx="796.3" cy="699.6" r="3.2" fill="none" stroke="#2a2a2a" stroke-width="1.0"/>
<circle cx="805.3" cy="702.3" r="3.2" fill="none" stroke="#2a2a2a" stroke-width="1.0"/>
<circle cx="816.3" cy="699.9" r="3.2" fill="none" stroke="#2a2a2a" stroke-width="1.0"/>
<circle cx="822.3" cy="698.3" r="3.2" fill="none" stroke="#2a2a2a" stroke-width="1.0"/>
<circle cx="822.8" cy="702.6" r="3.2" fill="none" stroke="#2a2a2a" stroke-width="1.0"/>
<circle cx="821.7" cy="705.3" r="3.2" fill="none" stroke="#2a2a2a" stroke-width="1.0"/>
<circle cx="823.9" cy="706.4" r="3.2" fill="none" stroke="#2a2a2a" stroke-width="1.0"/>
<circle cx="834.2" cy="708.8" r="3.2" fill="none" stroke="#2a2a2a" stroke-width="1.0"/>
<circle cx="834" cy="709" r="3.2" fill="none" stroke="#2a2a2a" stroke-width="1.0"/>
<circle cx="807.3" cy="710.8" r="3.2" fill="none" stroke="#2a2a2a" stroke-width="1.0"/>
<circle cx="823.3" cy="712.9" r="3.2" fill="none" stroke="#2a2a2a" stroke-width="1.0"/>
<circle cx="786.9" cy="715.1" r="3.2" fill="none" stroke="#2a2a2a" stroke-width="1.0"/>
<g stroke="#ee6a7c" stroke-width="1.3" fill="none">
<rect x="967.1" y="532.3" width="71.2" height="21.3"/>
<path d="M967.1 550.6H1038.3M1002.7 532.3V514.4M1002.7 553.6V571.5M967.1 514.4H1038.3M967.1 571.5H1038.3"/>
</g>
<line x1="989.2" x2="1016.2" y1="544.1" y2="544.1" stroke="#222" stroke-width="1"/>
<path d="M978.7 514.9h7M982.2 511.4v7" stroke="#111" stroke-width="1.7" fill="none"/>
<path d="M957.4 526h7M960.9 522.5v7" stroke="#111" stroke-width="1.7" fill="none"/>
<path d="M1024 522.4h7M1027.5 518.9v7" stroke="#111" stroke-width="1.7" fill="none"/>
<path d="M988.5 530.3h7M992 526.8v7" stroke="#111" stroke-width="1.7" fill="none"/>
<path d="M969.8 533.3h7M973.3 529.8v7" stroke="#111" stroke-width="1.7" fill="none"/>
<path d="M999.6 531.9h7M1003.1 528.4v7" stroke="#111" stroke-width="1.7" fill="none"/>
<path d="M1005.3 532.5h7M1008.8 529v7" stroke="#111" stroke-width="1.7" fill="none"/>
<path d="M992.8 537.9h7M996.3 534.4v7" stroke="#111" stroke-width="1.7" fill="none"/>
<path d="M999.6 535.2h7M1003.1 531.7v7" stroke="#111" stroke-width="1.7" fill="none"/>
<path d="M1005.8 535.7h7M1009.3 532.2v7" stroke="#111" stroke-width="1.7" fill="none"/>
<path d="M1011.2 536.6h7M1014.7 533.1v7" stroke="#111" stroke-width="1.7" fill="none"/>
<path d="M983.8 550.3h7M987.3 546.8v7" stroke="#111" stroke-width="1.7" fill="none"/>
<path d="M993.3 552h7M996.8 548.5v7" stroke="#111" stroke-width="1.7" fill="none"/>
<path d="M996.6 553.1h7M1000.1 549.6v7" stroke="#111" stroke-width="1.7" fill="none"/>
<path d="M999.3 553.6h7M1002.8 550.1v7" stroke="#111" stroke-width="1.7" fill="none"/>
<path d="M1002 553.1h7M1005.5 549.6v7" stroke="#111" stroke-width="1.7" fill="none"/>
<path d="M999.3 556.8h7M1002.8 553.3v7" stroke="#111" stroke-width="1.7" fill="none"/>
<path d="M1001.5 555.8h7M1005 552.3v7" stroke="#111" stroke-width="1.7" fill="none"/>
<path d="M1007.6 550.9h7M1011.1 547.4v7" stroke="#111" stroke-width="1.7" fill="none"/>
<path d="M1016.6 552h7M1020.1 548.5v7" stroke="#111" stroke-width="1.7" fill="none"/>
<path d="M980.1 571.8h7M983.6 568.3v7" stroke="#111" stroke-width="1.7" fill="none"/>
<path d="M997.1 555.2h7M1000.6 551.7v7" stroke="#111" stroke-width="1.7" fill="none"/>
<g stroke="#ee6a7c" stroke-width="1.3" fill="none">
<rect x="1146.6" y="795.8" width="71.2" height="14.7"/>
<path d="M1146.6 801.7H1217.8M1182.2 795.8V789.1M1182.2 810.5V832.7M1146.6 789.1H1217.8M1146.6 832.7H1217.8"/>
</g>
<line x1="1168.7" x2="1195.7" y1="805.6" y2="805.6" stroke="#222" stroke-width="1"/>
<path d="M1137.5 795l3.5 -3.5l3.5 3.5l-3.5 3.5z" stroke="#111" stroke-width="1.4" fill="none"/>
<path d="M1135.3 798.8l3.5 -3.5l3.5 3.5l-3.5 3.5z" stroke="#111" stroke-width="1.4" fill="none"/>
<path d="M1181.3 789.1l3.5 -3.5l3.5 3.5l-3.5 3.5z" stroke="#111" stroke-width="1.4" fill="none"/>
<path d="M1179.2 792.3l3.5 -3.5l3.5 3.5l-3.5 3.5z" stroke="#111" stroke-width="1.4" fill="none"/>
<path d="M1183.8 794.7l3.5 -3.5l3.5 3.5l-3.5 3.5z" stroke="#111" stroke-width="1.4" fill="none"/>
<path d="M1208.2 792.1l3.5 -3.5l3.5 3.5l-3.5 3.5z" stroke="#111" stroke-width="1.4" fill="none"/>
<path d="M1170.5 800.1l3.5 -3.5l3.5 3.5l-3.5 3.5z" stroke="#111" stroke-width="1.4" fill="none"/>
<path d="M1193.5 800.1l3.5 -3.5l3.5 3.5l-3.5 3.5z" stroke="#111" stroke-width="1.4" fill="none"/>
<path d="M1179.2 798.3l3.5 -3.5l3.5 3.5l-3.5 3.5z" stroke="#111" stroke-width="1.4" fill="none"/>
<path d="M1179.7 801.5l3.5 -3.5l3.5 3.5l-3.5 3.5z" stroke="#111" stroke-width="1.4" fill="none"/>
<path d="M1177.5 803.2l3.5 -3.5l3.5 3.5l-3.5 3.5z" stroke="#111" stroke-width="1.4" fill="none"/>
<path d="M1184.6 805.3l3.5 -3.5l3.5 3.5l-3.5 3.5z" stroke="#111" stroke-width="1.4" fill="none"/>
<path d="M1152.9 802.9l3.5 -3.5l3.5 3.5l-3.5 3.5z" stroke="#111" stroke-width="1.4" fill="none"/>
<path d="M1153.2 809.4l3.5 -3.5l3.5 3.5l-3.5 3.5z" stroke="#111" stroke-width="1.4" fill="none"/>
<path d="M1152.1 810.2l3.5 -3.5l3.5 3.5l-3.5 3.5z" stroke="#111" stroke-width="1.4" fill="none"/>
<path d="M1203.8 810l3.5 -3.5l3.5 3.5l-3.5 3.5z" stroke="#111" stroke-width="1.4" fill="none"/>
<path d="M1217.1 813.8l3.5 -3.5l3.5 3.5l-3.5 3.5z" stroke="#111" stroke-width="1.4" fill="none"/>
<path d="M1171.6 811.3l3.5 -3.5l3.5 3.5l-3.5 3.5z" stroke="#111" stroke-width="1.4" fill="none"/>
<path d="M1178.6 812.4l3.5 -3.5l3.5 3.5l-3.5 3.5z" stroke="#111" stroke-width="1.4" fill="none"/>
<path d="M1166.2 814l3.5 -3.5l3.5 3.5l-3.5 3.5z" stroke="#111" stroke-width="1.4" fill="none"/>
<path d="M1167.3 815.6l3.5 -3.5l3.5 3.5l-3.5 3.5z" stroke="#111" stroke-width="1.4" fill="none"/>
<path d="M1135.9 823.4l3.5 -3.5l3.5 3.5l-3.5 3.5z" stroke="#111" stroke-width="1.4" fill="none"/>
<path d="M1177.5 833.5l3.5 -3.5l3.5 3.5l-3.5 3.5z" stroke="#111" stroke-width="1.4" fill="none"/>
<path d="M1179.2 835.6l3.5 -3.5l3.5 3.5l-3.5 3.5z" stroke="#111" stroke-width="1.4" fill="none"/>
<text transform="translate(664 921.8) scale(1 1.08)" font-size="26.5" font-weight="bold" fill="#111">(d)</text>
<line x1="734.2" x2="1273" y1="1309.5" y2="1309.5" stroke="#e2e2e2" stroke-width="1.0"/>
<line x1="734.2" x2="1273" y1="1256.5" y2="1256.5" stroke="#e2e2e2" stroke-width="1.0"/>
<line x1="734.2" x2="1273" y1="1203.5" y2="1203.5" stroke="#e2e2e2" stroke-width="1.0"/>
<line x1="734.2" x2="1273" y1="1150.6" y2="1150.6" stroke="#e2e2e2" stroke-width="1.0"/>
<line x1="734.2" x2="1273" y1="1097.7" y2="1097.7" stroke="#e2e2e2" stroke-width="1.0"/>
<line x1="734.2" x2="1273" y1="1044.7" y2="1044.7" stroke="#e2e2e2" stroke-width="1.0"/>
<line x1="734.2" x2="1273" y1="991.8" y2="991.8" stroke="#e2e2e2" stroke-width="1.0"/>
<rect x="734.2" y="938.8" width="538.8" height="423.6" fill="none" stroke="#b3b3b3" stroke-width="1.2"/>
<path d="M734.2 1362.4V1379.5H1273V1362.4" fill="none" stroke="#b3b3b3" stroke-width="1.2"/>
<text x="824" y="1373.9" font-size="9" text-anchor="middle" font-weight="normal" fill="#222" >0.0005</text>
<line x1="913.8" x2="913.8" y1="1362.4" y2="1379.5" stroke="#b3b3b3" stroke-width="1.1"/>
<text x="1003.6" y="1373.9" font-size="9" text-anchor="middle" font-weight="normal" fill="#222" >0.001</text>
<line x1="1093.4" x2="1093.4" y1="1362.4" y2="1379.5" stroke="#b3b3b3" stroke-width="1.1"/>
<text x="1183.2" y="1373.9" font-size="9" text-anchor="middle" font-weight="normal" fill="#222" >0.002</text>
<line x1="729.7" x2="734.2" y1="1362.4" y2="1362.4" stroke="#b3b3b3" stroke-width="1.1"/>
<text x="728.3" y="1366.6" font-size="11.9" text-anchor="end" font-weight="normal" fill="#1a1a1a" >0.3</text>
<line x1="732.2" x2="734.2" y1="1335.9" y2="1335.9" stroke="#b3b3b3" stroke-width="1"/>
<line x1="729.7" x2="734.2" y1="1309.5" y2="1309.5" stroke="#b3b3b3" stroke-width="1.1"/>
<text x="728.3" y="1313.7" font-size="11.9" text-anchor="end" font-weight="normal" fill="#1a1a1a" >0.32</text>
<line x1="732.2" x2="734.2" y1="1283" y2="1283" stroke="#b3b3b3" stroke-width="1"/>
<line x1="729.7" x2="734.2" y1="1256.5" y2="1256.5" stroke="#b3b3b3" stroke-width="1.1"/>
<text x="728.3" y="1260.7" font-size="11.9" text-anchor="end" font-weight="normal" fill="#1a1a1a" >0.34</text>
<line x1="732.2" x2="734.2" y1="1230" y2="1230" stroke="#b3b3b3" stroke-width="1"/>
<line x1="729.7" x2="734.2" y1="1203.5" y2="1203.5" stroke="#b3b3b3" stroke-width="1.1"/>
<text x="728.3" y="1207.8" font-size="11.9" text-anchor="end" font-weight="normal" fill="#1a1a1a" >0.36</text>
<line x1="732.2" x2="734.2" y1="1177.1" y2="1177.1" stroke="#b3b3b3" stroke-width="1"/>
<line x1="729.7" x2="734.2" y1="1150.6" y2="1150.6" stroke="#b3b3b3" stroke-width="1.1"/>
<text x="728.3" y="1154.8" font-size="11.9" text-anchor="end" font-weight="normal" fill="#1a1a1a" >0.38</text>
<line x1="732.2" x2="734.2" y1="1124.1" y2="1124.1" stroke="#b3b3b3" stroke-width="1"/>
<line x1="729.7" x2="734.2" y1="1097.7" y2="1097.7" stroke="#b3b3b3" stroke-width="1.1"/>
<text x="728.3" y="1101.9" font-size="11.9" text-anchor="end" font-weight="normal" fill="#1a1a1a" >0.4</text>
<line x1="732.2" x2="734.2" y1="1071.2" y2="1071.2" stroke="#b3b3b3" stroke-width="1"/>
<line x1="729.7" x2="734.2" y1="1044.7" y2="1044.7" stroke="#b3b3b3" stroke-width="1.1"/>
<text x="728.3" y="1048.9" font-size="11.9" text-anchor="end" font-weight="normal" fill="#1a1a1a" >0.42</text>
<line x1="732.2" x2="734.2" y1="1018.2" y2="1018.2" stroke="#b3b3b3" stroke-width="1"/>
<line x1="729.7" x2="734.2" y1="991.8" y2="991.8" stroke="#b3b3b3" stroke-width="1.1"/>
<text x="728.3" y="996" font-size="11.9" text-anchor="end" font-weight="normal" fill="#1a1a1a" >0.44</text>
<line x1="732.2" x2="734.2" y1="965.3" y2="965.3" stroke="#b3b3b3" stroke-width="1"/>
<line x1="729.7" x2="734.2" y1="938.8" y2="938.8" stroke="#b3b3b3" stroke-width="1.1"/>
<text x="728.3" y="943" font-size="11.9" text-anchor="end" font-weight="normal" fill="#1a1a1a" >0.46</text>
<text transform="translate(695.5 1148.6) rotate(-90)" font-size="18.2" text-anchor="middle" fill="#111">ΔE (eV)</text>
<text x="1277.4" y="1380.2" font-size="16.5" fill="#111">t<tspan font-size="10" dx="1.6" dy="3.6">D</tspan></text>
<polyline points="824.1,1247.8 1003.6,1046 1183.1,1183.2" fill="none" stroke="#6fa0ee" stroke-width="1.2"/>
<g stroke="#ee6a7c" stroke-width="1.3" fill="none">
<rect x="788.5" y="1233.3" width="71.2" height="27.2"/>
<path d="M788.5 1248.6H859.7M824.1 1233.3V1193.2M824.1 1260.5V1280M788.5 1193.2H859.7M788.5 1280H859.7"/>
</g>
<line x1="810.6" x2="837.6" y1="1247.8" y2="1247.8" stroke="#222" stroke-width="1"/>
<circle cx="855.3" cy="1193.4" r="3.2" fill="none" stroke="#2a2a2a" stroke-width="1.0"/>
<circle cx="826.4" cy="1213.7" r="3.2" fill="none" stroke="#2a2a2a" stroke-width="1.0"/>
<circle cx="823.3" cy="1217.2" r="3.2" fill="none" stroke="#2a2a2a" stroke-width="1.0"/>
<circle cx="832.3" cy="1217.2" r="3.2" fill="none" stroke="#2a2a2a" stroke-width="1.0"/>
<circle cx="823.3" cy="1225.3" r="3.2" fill="none" stroke="#2a2a2a" stroke-width="1.0"/>
<circle cx="865.6" cy="1225.3" r="3.2" fill="none" stroke="#2a2a2a" stroke-width="1.0"/>
<circle cx="868" cy="1230.5" r="3.2" fill="none" stroke="#2a2a2a" stroke-width="1.0"/>
<circle cx="813.6" cy="1233.5" r="3.2" fill="none" stroke="#2a2a2a" stroke-width="1.0"/>
<circle cx="814.1" cy="1233.5" r="3.2" fill="none" stroke="#2a2a2a" stroke-width="1.0"/>
<circle cx="825" cy="1234" r="3.2" fill="none" stroke="#2a2a2a" stroke-width="1.0"/>
<circle cx="826.3" cy="1235.6" r="3.2" fill="none" stroke="#2a2a2a" stroke-width="1.0"/>
<circle cx="855.3" cy="1238.7" r="3.2" fill="none" stroke="#2a2a2a" stroke-width="1.0"/>
<circle cx="810.3" cy="1243.8" r="3.2" fill="none" stroke="#2a2a2a" stroke-width="1.0"/>
<circle cx="825.5" cy="1245.4" r="3.2" fill="none" stroke="#2a2a2a" stroke-width="1.0"/>
<circle cx="780" cy="1245.9" r="3.2" fill="none" stroke="#2a2a2a" stroke-width="1.0"/>
<circle cx="824.4" cy="1249" r="3.2" fill="none" stroke="#2a2a2a" stroke-width="1.0"/>
<circle cx="836.9" cy="1249.2" r="3.2" fill="none" stroke="#2a2a2a" stroke-width="1.0"/>
<circle cx="840.7" cy="1249" r="3.2" fill="none" stroke="#2a2a2a" stroke-width="1.0"/>
<circle cx="788.2" cy="1254" r="3.2" fill="none" stroke="#2a2a2a" stroke-width="1.0"/>
<circle cx="801.4" cy="1254" r="3.2" fill="none" stroke="#2a2a2a" stroke-width="1.0"/>
<circle cx="815.4" cy="1257" r="3.2" fill="none" stroke="#2a2a2a" stroke-width="1.0"/>
<circle cx="824.6" cy="1257.3" r="3.2" fill="none" stroke="#2a2a2a" stroke-width="1.0"/>
<circle cx="820.9" cy="1259.5" r="3.2" fill="none" stroke="#2a2a2a" stroke-width="1.0"/>
<circle cx="829" cy="1258.9" r="3.2" fill="none" stroke="#2a2a2a" stroke-width="1.0"/>
<circle cx="828.2" cy="1264.3" r="3.2" fill="none" stroke="#2a2a2a" stroke-width="1.0"/>
<circle cx="823.3" cy="1267.4" r="3.2" fill="none" stroke="#2a2a2a" stroke-width="1.0"/>
<circle cx="853.1" cy="1270.3" r="3.2" fill="none" stroke="#2a2a2a" stroke-width="1.0"/>
<circle cx="835.5" cy="1272.4" r="3.2" fill="none" stroke="#2a2a2a" stroke-width="1.0"/>
<circle cx="824.4" cy="1276.2" r="3.2" fill="none" stroke="#2a2a2a" stroke-width="1.0"/>
<circle cx="822.3" cy="1277.9" r="3.2" fill="none" stroke="#2a2a2a" stroke-width="1.0"/>
<circle cx="815.5" cy="1280.6" r="3.2" fill="none" stroke="#2a2a2a" stroke-width="1.0"/>
<circle cx="828.8" cy="1280.6" r="3.2" fill="none" stroke="#2a2a2a" stroke-width="1.0"/>
<g stroke="#ee6a7c" stroke-width="1.3" fill="none">
<rect x="968" y="1029.3" width="71.2" height="34.1"/>
<path d="M968 1049.8H1039.2M1003.6 1029.3V992.5M1003.6 1063.4V1081.5M968 992.5H1039.2M968 1081.5H1039.2"/>
</g>
<line x1="990.6" x2="1016.6" y1="1046" y2="1046" stroke="#222" stroke-width="1"/>
<path d="M1022.4 992.8h7M1025.9 989.3v7" stroke="#111" stroke-width="1.7" fill="none"/>
<path d="M965.5 997.9h7M969 994.4v7" stroke="#111" stroke-width="1.7" fill="none"/>
<path d="M1037.2 1018.4h7M1040.7 1014.9v7" stroke="#111" stroke-width="1.7" fill="none"/>
<path d="M983.3 1024.4h7M986.8 1020.9v7" stroke="#111" stroke-width="1.7" fill="none"/>
<path d="M993.3 1023.9h7M996.8 1020.4v7" stroke="#111" stroke-width="1.7" fill="none"/>
<path d="M991.7 1026h7M995.2 1022.5v7" stroke="#111" stroke-width="1.7" fill="none"/>
<path d="M1000.1 1029.3h7M1003.6 1025.8v7" stroke="#111" stroke-width="1.7" fill="none"/>
<path d="M999.6 1031.8h7M1003.1 1028.3v7" stroke="#111" stroke-width="1.7" fill="none"/>
<path d="M1018.8 1029.6h7M1022.3 1026.1v7" stroke="#111" stroke-width="1.7" fill="none"/>
<path d="M973 1032h7M976.5 1028.5v7" stroke="#111" stroke-width="1.7" fill="none"/>
<path d="M970.9 1042.6h7M974.4 1039.1v7" stroke="#111" stroke-width="1.7" fill="none"/>
<path d="M1003.1 1045h7M1006.6 1041.5v7" stroke="#111" stroke-width="1.7" fill="none"/>
<path d="M1029.8 1045h7M1033.3 1041.5v7" stroke="#111" stroke-width="1.7" fill="none"/>
<path d="M1013.9 1048.2h7M1017.4 1044.7v7" stroke="#111" stroke-width="1.7" fill="none"/>
<path d="M1033.6 1050.4h7M1037.1 1046.9v7" stroke="#111" stroke-width="1.7" fill="none"/>
<path d="M963.4 1050.4h7M966.9 1046.9v7" stroke="#111" stroke-width="1.7" fill="none"/>
<path d="M982.5 1053.6h7M986 1050.1v7" stroke="#111" stroke-width="1.7" fill="none"/>
<path d="M980.9 1056.3h7M984.4 1052.8v7" stroke="#111" stroke-width="1.7" fill="none"/>
<path d="M1000.9 1053.6h7M1004.4 1050.1v7" stroke="#111" stroke-width="1.7" fill="none"/>
<path d="M1012.8 1053.6h7M1016.3 1050.1v7" stroke="#111" stroke-width="1.7" fill="none"/>
<path d="M1011.2 1056.1h7M1014.7 1052.6v7" stroke="#111" stroke-width="1.7" fill="none"/>
<path d="M998.8 1063.4h7M1002.3 1059.9v7" stroke="#111" stroke-width="1.7" fill="none"/>
<path d="M1014.5 1068.8h7M1018 1065.3v7" stroke="#111" stroke-width="1.7" fill="none"/>
<path d="M1019.7 1068.8h7M1023.2 1065.3v7" stroke="#111" stroke-width="1.7" fill="none"/>
<path d="M983.3 1074.5h7M986.8 1071v7" stroke="#111" stroke-width="1.7" fill="none"/>
<path d="M1035.6 1076.7h7M1039.1 1073.2v7" stroke="#111" stroke-width="1.7" fill="none"/>
<path d="M1000.4 1080.2h7M1003.9 1076.7v7" stroke="#111" stroke-width="1.7" fill="none"/>
<path d="M1000.1 1081.8h7M1003.6 1078.3v7" stroke="#111" stroke-width="1.7" fill="none"/>
<g stroke="#ee6a7c" stroke-width="1.3" fill="none">
<rect x="1147.5" y="1136.5" width="71.2" height="90.7"/>
<path d="M1147.5 1166.4H1218.7M1183.1 1136.5V1103.3M1183.1 1227.2V1312M1147.5 1103.3H1218.7M1147.5 1312H1218.7"/>
</g>
<line x1="1169.8" x2="1196.4" y1="1183.2" y2="1183.2" stroke="#222" stroke-width="1"/>
<path d="M1215.3 1103.7l3.5 -3.5l3.5 3.5l-3.5 3.5z" stroke="#111" stroke-width="1.4" fill="none"/>
<path d="M1220.9 1107l3.5 -3.5l3.5 3.5l-3.5 3.5z" stroke="#111" stroke-width="1.4" fill="none"/>
<path d="M1192.7 1109l3.5 -3.5l3.5 3.5l-3.5 3.5z" stroke="#111" stroke-width="1.4" fill="none"/>
<path d="M1178.2 1114.2l3.5 -3.5l3.5 3.5l-3.5 3.5z" stroke="#111" stroke-width="1.4" fill="none"/>
<path d="M1168.9 1120.1l3.5 -3.5l3.5 3.5l-3.5 3.5z" stroke="#111" stroke-width="1.4" fill="none"/>
<path d="M1181.1 1122.5l3.5 -3.5l3.5 3.5l-3.5 3.5z" stroke="#111" stroke-width="1.4" fill="none"/>
<path d="M1152 1127.4l3.5 -3.5l3.5 3.5l-3.5 3.5z" stroke="#111" stroke-width="1.4" fill="none"/>
<path d="M1151 1132.4l3.5 -3.5l3.5 3.5l-3.5 3.5z" stroke="#111" stroke-width="1.4" fill="none"/>
<path d="M1163.6 1130.5l3.5 -3.5l3.5 3.5l-3.5 3.5z" stroke="#111" stroke-width="1.4" fill="none"/>
<path d="M1180.1 1132.7l3.5 -3.5l3.5 3.5l-3.5 3.5z" stroke="#111" stroke-width="1.4" fill="none"/>
<path d="M1180.7 1140.2l3.5 -3.5l3.5 3.5l-3.5 3.5z" stroke="#111" stroke-width="1.4" fill="none"/>
<path d="M1152.9 1143.9l3.5 -3.5l3.5 3.5l-3.5 3.5z" stroke="#111" stroke-width="1.4" fill="none"/>
<path d="M1151.6 1143.9l3.5 -3.5l3.5 3.5l-3.5 3.5z" stroke="#111" stroke-width="1.4" fill="none"/>
<path d="M1206.7 1143.5l3.5 -3.5l3.5 3.5l-3.5 3.5z" stroke="#111" stroke-width="1.4" fill="none"/>
<path d="M1200.5 1148.8l3.5 -3.5l3.5 3.5l-3.5 3.5z" stroke="#111" stroke-width="1.4" fill="none"/>
<path d="M1210.4 1149.1l3.5 -3.5l3.5 3.5l-3.5 3.5z" stroke="#111" stroke-width="1.4" fill="none"/>
<path d="M1204.6 1151.9l3.5 -3.5l3.5 3.5l-3.5 3.5z" stroke="#111" stroke-width="1.4" fill="none"/>
<path d="M1182.6 1145.7l3.5 -3.5l3.5 3.5l-3.5 3.5z" stroke="#111" stroke-width="1.4" fill="none"/>
<path d="M1180.7 1148.5l3.5 -3.5l3.5 3.5l-3.5 3.5z" stroke="#111" stroke-width="1.4" fill="none"/>
<path d="M1176.1 1151.6l3.5 -3.5l3.5 3.5l-3.5 3.5z" stroke="#111" stroke-width="1.4" fill="none"/>
<path d="M1180.7 1164.3l3.5 -3.5l3.5 3.5l-3.5 3.5z" stroke="#111" stroke-width="1.4" fill="none"/>
<path d="M1184.4 1167.4l3.5 -3.5l3.5 3.5l-3.5 3.5z" stroke="#111" stroke-width="1.4" fill="none"/>
<path d="M1201.5 1167.1l3.5 -3.5l3.5 3.5l-3.5 3.5z" stroke="#111" stroke-width="1.4" fill="none"/>
<path d="M1181.9 1171.1l3.5 -3.5l3.5 3.5l-3.5 3.5z" stroke="#111" stroke-width="1.4" fill="none"/>
<path d="M1177.4 1173.2l3.5 -3.5l3.5 3.5l-3.5 3.5z" stroke="#111" stroke-width="1.4" fill="none"/>
<path d="M1184.2 1173.2l3.5 -3.5l3.5 3.5l-3.5 3.5z" stroke="#111" stroke-width="1.4" fill="none"/>
<path d="M1165.8 1194l3.5 -3.5l3.5 3.5l-3.5 3.5z" stroke="#111" stroke-width="1.4" fill="none"/>
<path d="M1178.6 1193.7l3.5 -3.5l3.5 3.5l-3.5 3.5z" stroke="#111" stroke-width="1.4" fill="none"/>
<path d="M1175.7 1202l3.5 -3.5l3.5 3.5l-3.5 3.5z" stroke="#111" stroke-width="1.4" fill="none"/>
<path d="M1182.3 1204.1l3.5 -3.5l3.5 3.5l-3.5 3.5z" stroke="#111" stroke-width="1.4" fill="none"/>
<path d="M1187.7 1204.3l3.5 -3.5l3.5 3.5l-3.5 3.5z" stroke="#111" stroke-width="1.4" fill="none"/>
<path d="M1182.3 1212.3l3.5 -3.5l3.5 3.5l-3.5 3.5z" stroke="#111" stroke-width="1.4" fill="none"/>
<path d="M1195.8 1222.5l3.5 -3.5l3.5 3.5l-3.5 3.5z" stroke="#111" stroke-width="1.4" fill="none"/>
<path d="M1174.9 1225.5l3.5 -3.5l3.5 3.5l-3.5 3.5z" stroke="#111" stroke-width="1.4" fill="none"/>
<path d="M1182.6 1230.7l3.5 -3.5l3.5 3.5l-3.5 3.5z" stroke="#111" stroke-width="1.4" fill="none"/>
<path d="M1181.3 1234.2l3.5 -3.5l3.5 3.5l-3.5 3.5z" stroke="#111" stroke-width="1.4" fill="none"/>
<path d="M1167.5 1246.4l3.5 -3.5l3.5 3.5l-3.5 3.5z" stroke="#111" stroke-width="1.4" fill="none"/>
<path d="M1171.8 1257.5l3.5 -3.5l3.5 3.5l-3.5 3.5z" stroke="#111" stroke-width="1.4" fill="none"/>
<path d="M1180.3 1257.5l3.5 -3.5l3.5 3.5l-3.5 3.5z" stroke="#111" stroke-width="1.4" fill="none"/>
<path d="M1162.4 1275.8l3.5 -3.5l3.5 3.5l-3.5 3.5z" stroke="#111" stroke-width="1.4" fill="none"/>
<path d="M1175.7 1275.8l3.5 -3.5l3.5 3.5l-3.5 3.5z" stroke="#111" stroke-width="1.4" fill="none"/>
<path d="M1195.8 1278.3l3.5 -3.5l3.5 3.5l-3.5 3.5z" stroke="#111" stroke-width="1.4" fill="none"/>
<path d="M1181.7 1291.3l3.5 -3.5l3.5 3.5l-3.5 3.5z" stroke="#111" stroke-width="1.4" fill="none"/>
<path d="M1175.5 1294.4l3.5 -3.5l3.5 3.5l-3.5 3.5z" stroke="#111" stroke-width="1.4" fill="none"/>
<path d="M1194.9 1296.5l3.5 -3.5l3.5 3.5l-3.5 3.5z" stroke="#111" stroke-width="1.4" fill="none"/>
<path d="M1180.1 1313l3.5 -3.5l3.5 3.5l-3.5 3.5z" stroke="#111" stroke-width="1.4" fill="none"/>
<text transform="translate(664 1390.8) scale(1 1.08)" font-size="26.5" font-weight="bold" fill="#111">(f)</text>
</svg></body></html>
